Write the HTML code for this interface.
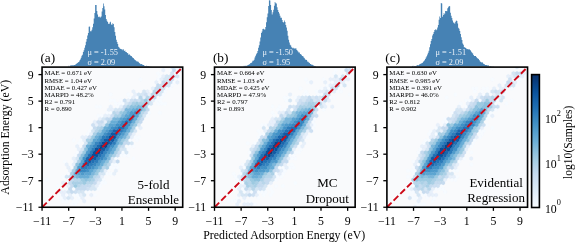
<!DOCTYPE html>
<html><head><meta charset="utf-8"><title>Parity plots</title>
<style>html,body{margin:0;padding:0;background:#fff}svg{display:block;filter:blur(0.4px)}</style></head>
<body>
<svg width="575" height="242" viewBox="0 0 575 242" font-family="'Liberation Serif','Times New Roman',serif">
<rect width="575" height="242" fill="#fff"/>
<path d="M68.50 66.6V65.8H69.22V66.4H69.94V65.5H70.66V65.6H71.38V65.3H72.10V65.3H72.82V65.4H73.54V65.0H74.26V64.9H74.98V64.7H75.70V63.9H76.42V63.5H77.14V63.1H77.86V62.2H78.58V62.0H79.30V60.5H80.02V59.4H80.74V57.7H81.46V55.8H82.18V54.7H82.90V51.9H83.62V50.2H84.34V47.8H85.06V45.2H85.78V41.7H86.50V39.1H87.22V35.5H87.94V33.1H88.66V26.7H89.38V26.4H90.10V31.2H90.82V31.2H91.54V29.7H92.26V27.3H92.98V23.8H93.70V18.6H94.42V13.1H95.14V5.1H95.86V5.0H96.58V11.1H97.30V14.5H98.02V16.7H98.74V17.3H99.46V16.5H100.18V17.6H100.90V16.6H101.62V11.6H102.34V8.1H103.06V3.6H103.78V6.2H104.50V9.6H105.22V15.0H105.94V19.0H106.66V20.8H107.38V21.9H108.10V23.8H108.82V23.9H109.54V22.4H110.26V21.7H110.98V24.5H111.70V24.7H112.42V23.2H113.14V23.9H113.86V27.3H114.58V32.1H115.30V35.7H116.02V39.8H116.74V42.1H117.46V44.1H118.18V46.7H118.90V47.4H119.62V48.4H120.34V49.1H121.06V49.3H121.78V49.2H122.50V50.2H123.22V49.3H123.94V50.9H124.66V50.6H125.38V51.9H126.10V52.1H126.82V53.1H127.54V53.3H128.26V54.7H128.98V54.2H129.70V55.1H130.42V56.1H131.14V56.0H131.86V56.9H132.58V58.1H133.30V58.3H134.02V59.2H134.74V59.9H135.46V60.5H136.18V61.2H136.90V61.6H137.62V61.6H138.34V62.3H139.06V63.1H139.78V63.7H140.50V64.2H141.22V63.9H141.94V64.6H142.66V65.0H143.38V64.9H144.10V65.8H144.82V66.0H145.54V65.9H146.26V65.8H146.98V66.0H147.70V66.1H148.42V66.1H149.14V66.3H149.86V66.6H150.58V66.2H151.30V66.5H152.02V66.6Z" fill="#4682b4"/>
<text x="87.4" y="55.0" font-size="8.3" fill="#eaf1f8">μ = -1.55</text>
<text x="87.4" y="65.0" font-size="8.3" fill="#eaf1f8">σ = 2.09</text>
<rect x="42.05" y="67.1" width="140.65" height="140.15" fill="#f9fafc"/>
<clipPath id="cp0"><rect x="42.05" y="67.1" width="140.65" height="140.15"/></clipPath>
<g clip-path="url(#cp0)">
<path fill="#f7fbff" stroke="#f7fbff" stroke-width="0.25" d="M61.4 196.1L61.4 194.0L59.6 193.0L57.9 194.0L57.9 196.1L59.6 197.1ZM64.9 202.2L64.9 200.1L63.1 199.1L61.4 200.1L61.4 202.2L63.1 203.2ZM64.9 177.8L64.9 175.8L63.1 174.8L61.4 175.8L61.4 177.8L63.1 178.8ZM68.4 202.2L68.4 200.1L66.7 199.1L64.9 200.1L64.9 202.2L66.7 203.2ZM68.4 196.1L68.4 194.0L66.7 193.0L64.9 194.0L64.9 196.1L66.7 197.1ZM68.4 190.0L68.4 188.0L66.7 186.9L64.9 188.0L64.9 190.0L66.7 191.0ZM68.4 183.9L68.4 181.9L66.7 180.8L64.9 181.9L64.9 183.9L66.7 184.9ZM75.5 202.2L75.5 200.1L73.7 199.1L71.9 200.1L71.9 202.2L73.7 203.2ZM75.5 196.1L75.5 194.0L73.7 193.0L71.9 194.0L71.9 196.1L73.7 197.1ZM75.5 190.0L75.5 188.0L73.7 186.9L71.9 188.0L71.9 190.0L73.7 191.0ZM75.5 141.2L75.5 139.2L73.7 138.2L71.9 139.2L71.9 141.2L73.7 142.3ZM79.0 202.2L79.0 200.1L77.2 199.1L75.5 200.1L75.5 202.2L77.2 203.2ZM79.0 196.1L79.0 194.0L77.2 193.0L75.5 194.0L75.5 196.1L77.2 197.1ZM79.0 153.4L79.0 151.4L77.2 150.4L75.5 151.4L75.5 153.4L77.2 154.4ZM82.5 141.2L82.5 139.2L80.7 138.2L79.0 139.2L79.0 141.2L80.7 142.3ZM89.5 135.1L89.5 133.1L87.8 132.1L86.0 133.1L86.0 135.1L87.8 136.2ZM93.0 129.1L93.0 127.0L91.3 126.0L89.5 127.0L89.5 129.1L91.3 130.1ZM96.6 196.1L96.6 194.0L94.8 193.0L93.0 194.0L93.0 196.1L94.8 197.1ZM100.1 190.0L100.1 188.0L98.3 186.9L96.6 188.0L96.6 190.0L98.3 191.0ZM100.1 116.9L100.1 114.8L98.3 113.8L96.6 114.8L96.6 116.9L98.3 117.9ZM103.6 183.9L103.6 181.9L101.8 180.8L100.1 181.9L100.1 183.9L101.8 184.9ZM103.6 116.9L103.6 114.8L101.8 113.8L100.1 114.8L100.1 116.9L101.8 117.9ZM107.1 183.9L107.1 181.9L105.3 180.8L103.6 181.9L103.6 183.9L105.3 184.9ZM114.1 165.6L114.1 163.6L112.4 162.6L110.6 163.6L110.6 165.6L112.4 166.6ZM117.6 165.6L117.6 163.6L115.9 162.6L114.1 163.6L114.1 165.6L115.9 166.6ZM117.6 159.5L117.6 157.5L115.9 156.5L114.1 157.5L114.1 159.5L115.9 160.5ZM117.6 104.7L117.6 102.6L115.9 101.6L114.1 102.6L114.1 104.7L115.9 105.7ZM121.2 104.7L121.2 102.6L119.4 101.6L117.6 102.6L117.6 104.7L119.4 105.7ZM124.7 153.4L124.7 151.4L122.9 150.4L121.2 151.4L121.2 153.4L122.9 154.4ZM124.7 104.7L124.7 102.6L122.9 101.6L121.2 102.6L121.2 104.7L122.9 105.7ZM131.7 147.3L131.7 145.3L130.0 144.3L128.2 145.3L128.2 147.3L130.0 148.3ZM131.7 141.2L131.7 139.2L130.0 138.2L128.2 139.2L128.2 141.2L130.0 142.3ZM131.7 98.6L131.7 96.6L130.0 95.5L128.2 96.6L128.2 98.6L130.0 99.6ZM135.2 159.5L135.2 157.5L133.5 156.5L131.7 157.5L131.7 159.5L133.5 160.5ZM135.2 147.3L135.2 145.3L133.5 144.3L131.7 145.3L131.7 147.3L133.5 148.3ZM138.7 141.2L138.7 139.2L137.0 138.2L135.2 139.2L135.2 141.2L137.0 142.3ZM138.7 98.6L138.7 96.6L137.0 95.5L135.2 96.6L135.2 98.6L137.0 99.6ZM142.3 80.3L142.3 78.3L140.5 77.3L138.7 78.3L138.7 80.3L140.5 81.3ZM149.3 116.9L149.3 114.8L147.5 113.8L145.8 114.8L145.8 116.9L147.5 117.9ZM159.8 104.7L159.8 102.6L158.1 101.6L156.3 102.6L156.3 104.7L158.1 105.7ZM159.8 80.3L159.8 78.3L158.1 77.3L156.3 78.3L156.3 80.3L158.1 81.3ZM159.8 74.2L159.8 72.2L158.1 71.2L156.3 72.2L156.3 74.2L158.1 75.2ZM163.4 104.7L163.4 102.6L161.6 101.6L159.8 102.6L159.8 104.7L161.6 105.7ZM163.4 98.6L163.4 96.6L161.6 95.5L159.8 96.6L159.8 98.6L161.6 99.6ZM166.9 104.7L166.9 102.6L165.1 101.6L163.4 102.6L163.4 104.7L165.1 105.7ZM166.9 92.5L166.9 90.5L165.1 89.4L163.4 90.5L163.4 92.5L165.1 93.5ZM173.9 86.4L173.9 84.4L172.2 83.3L170.4 84.4L170.4 86.4L172.2 87.4ZM177.4 74.2L177.4 72.2L175.7 71.2L173.9 72.2L173.9 74.2L175.7 75.2ZM180.9 80.3L180.9 78.3L179.2 77.3L177.4 78.3L177.4 80.3L179.2 81.3ZM49.1 180.8L49.1 178.8L47.3 177.8L45.6 178.8L45.6 180.8L47.3 181.9ZM59.6 186.9L59.6 184.9L57.9 183.9L56.1 184.9L56.1 186.9L57.9 188.0ZM63.1 199.1L63.1 197.1L61.4 196.1L59.6 197.1L59.6 199.1L61.4 200.1ZM66.7 162.6L66.7 160.5L64.9 159.5L63.1 160.5L63.1 162.6L64.9 163.6ZM70.2 180.8L70.2 178.8L68.4 177.8L66.7 178.8L66.7 180.8L68.4 181.9ZM70.2 174.8L70.2 172.7L68.4 171.7L66.7 172.7L66.7 174.8L68.4 175.8ZM73.7 205.2L73.7 203.2L71.9 202.2L70.2 203.2L70.2 205.2L71.9 206.2ZM77.2 205.2L77.2 203.2L75.5 202.2L73.7 203.2L73.7 205.2L75.5 206.2ZM77.2 156.5L77.2 154.4L75.5 153.4L73.7 154.4L73.7 156.5L75.5 157.5ZM80.7 199.1L80.7 197.1L79.0 196.1L77.2 197.1L77.2 199.1L79.0 200.1ZM80.7 144.3L80.7 142.3L79.0 141.2L77.2 142.3L77.2 144.3L79.0 145.3ZM87.8 193.0L87.8 191.0L86.0 190.0L84.2 191.0L84.2 193.0L86.0 194.0ZM91.3 193.0L91.3 191.0L89.5 190.0L87.8 191.0L87.8 193.0L89.5 194.0ZM91.3 132.1L91.3 130.1L89.5 129.1L87.8 130.1L87.8 132.1L89.5 133.1ZM94.8 205.2L94.8 203.2L93.0 202.2L91.3 203.2L91.3 205.2L93.0 206.2ZM98.3 107.7L98.3 105.7L96.6 104.7L94.8 105.7L94.8 107.7L96.6 108.7ZM101.8 186.9L101.8 184.9L100.1 183.9L98.3 184.9L98.3 186.9L100.1 188.0ZM101.8 107.7L101.8 105.7L100.1 104.7L98.3 105.7L98.3 107.7L100.1 108.7ZM105.3 180.8L105.3 178.8L103.6 177.8L101.8 178.8L101.8 180.8L103.6 181.9ZM108.9 174.8L108.9 172.7L107.1 171.7L105.3 172.7L105.3 174.8L107.1 175.8ZM108.9 113.8L108.9 111.8L107.1 110.8L105.3 111.8L105.3 113.8L107.1 114.8ZM112.4 174.8L112.4 172.7L110.6 171.7L108.9 172.7L108.9 174.8L110.6 175.8ZM112.4 168.7L112.4 166.6L110.6 165.6L108.9 166.6L108.9 168.7L110.6 169.7ZM112.4 113.8L112.4 111.8L110.6 110.8L108.9 111.8L108.9 113.8L110.6 114.8ZM112.4 101.6L112.4 99.6L110.6 98.6L108.9 99.6L108.9 101.6L110.6 102.6ZM112.4 95.5L112.4 93.5L110.6 92.5L108.9 93.5L108.9 95.5L110.6 96.6ZM115.9 168.7L115.9 166.6L114.1 165.6L112.4 166.6L112.4 168.7L114.1 169.7ZM115.9 101.6L115.9 99.6L114.1 98.6L112.4 99.6L112.4 101.6L114.1 102.6ZM119.4 168.7L119.4 166.6L117.6 165.6L115.9 166.6L115.9 168.7L117.6 169.7ZM119.4 107.7L119.4 105.7L117.6 104.7L115.9 105.7L115.9 107.7L117.6 108.7ZM122.9 156.5L122.9 154.4L121.2 153.4L119.4 154.4L119.4 156.5L121.2 157.5ZM122.9 101.6L122.9 99.6L121.2 98.6L119.4 99.6L119.4 101.6L121.2 102.6ZM126.4 156.5L126.4 154.4L124.7 153.4L122.9 154.4L122.9 156.5L124.7 157.5ZM130.0 156.5L130.0 154.4L128.2 153.4L126.4 154.4L126.4 156.5L128.2 157.5ZM130.0 150.4L130.0 148.3L128.2 147.3L126.4 148.3L126.4 150.4L128.2 151.4ZM130.0 95.5L130.0 93.5L128.2 92.5L126.4 93.5L126.4 95.5L128.2 96.6ZM137.0 138.2L137.0 136.2L135.2 135.1L133.5 136.2L133.5 138.2L135.2 139.2ZM140.5 138.2L140.5 136.2L138.7 135.1L137.0 136.2L137.0 138.2L138.7 139.2ZM151.1 113.8L151.1 111.8L149.3 110.8L147.5 111.8L147.5 113.8L149.3 114.8ZM151.1 107.7L151.1 105.7L149.3 104.7L147.5 105.7L147.5 107.7L149.3 108.7ZM158.1 101.6L158.1 99.6L156.3 98.6L154.6 99.6L154.6 101.6L156.3 102.6ZM161.6 113.8L161.6 111.8L159.8 110.8L158.1 111.8L158.1 113.8L159.8 114.8ZM161.6 101.6L161.6 99.6L159.8 98.6L158.1 99.6L158.1 101.6L159.8 102.6ZM161.6 77.3L161.6 75.2L159.8 74.2L158.1 75.2L158.1 77.3L159.8 78.3ZM165.1 95.5L165.1 93.5L163.4 92.5L161.6 93.5L161.6 95.5L163.4 96.6ZM168.6 89.4L168.6 87.4L166.9 86.4L165.1 87.4L165.1 89.4L166.9 90.5ZM172.2 89.4L172.2 87.4L170.4 86.4L168.6 87.4L168.6 89.4L170.4 90.5ZM172.2 71.2L172.2 69.1L170.4 68.1L168.6 69.1L168.6 71.2L170.4 72.2ZM175.7 83.3L175.7 81.3L173.9 80.3L172.2 81.3L172.2 83.3L173.9 84.4ZM179.2 71.2L179.2 69.1L177.4 68.1L175.7 69.1L175.7 71.2L177.4 72.2Z"/>
<path fill="#e7f0fa" stroke="#e7f0fa" stroke-width="0.25" d="M64.9 196.1L64.9 194.0L63.1 193.0L61.4 194.0L61.4 196.1L63.1 197.1ZM64.9 183.9L64.9 181.9L63.1 180.8L61.4 181.9L61.4 183.9L63.1 184.9ZM68.4 165.6L68.4 163.6L66.7 162.6L64.9 163.6L64.9 165.6L66.7 166.6ZM71.9 196.1L71.9 194.0L70.2 193.0L68.4 194.0L68.4 196.1L70.2 197.1ZM71.9 171.7L71.9 169.7L70.2 168.7L68.4 169.7L68.4 171.7L70.2 172.7ZM75.5 165.6L75.5 163.6L73.7 162.6L71.9 163.6L71.9 165.6L73.7 166.6ZM75.5 159.5L75.5 157.5L73.7 156.5L71.9 157.5L71.9 159.5L73.7 160.5ZM79.0 147.3L79.0 145.3L77.2 144.3L75.5 145.3L75.5 147.3L77.2 148.3ZM82.5 196.1L82.5 194.0L80.7 193.0L79.0 194.0L79.0 196.1L80.7 197.1ZM86.0 202.2L86.0 200.1L84.2 199.1L82.5 200.1L82.5 202.2L84.2 203.2ZM86.0 141.2L86.0 139.2L84.2 138.2L82.5 139.2L82.5 141.2L84.2 142.3ZM93.0 196.1L93.0 194.0L91.3 193.0L89.5 194.0L89.5 196.1L91.3 197.1ZM93.0 135.1L93.0 133.1L91.3 132.1L89.5 133.1L89.5 135.1L91.3 136.2ZM96.6 123.0L96.6 120.9L94.8 119.9L93.0 120.9L93.0 123.0L94.8 124.0ZM100.1 183.9L100.1 181.9L98.3 180.8L96.6 181.9L96.6 183.9L98.3 184.9ZM103.6 177.8L103.6 175.8L101.8 174.8L100.1 175.8L100.1 177.8L101.8 178.8ZM107.1 171.7L107.1 169.7L105.3 168.7L103.6 169.7L103.6 171.7L105.3 172.7ZM107.1 123.0L107.1 120.9L105.3 119.9L103.6 120.9L103.6 123.0L105.3 124.0ZM107.1 116.9L107.1 114.8L105.3 113.8L103.6 114.8L103.6 116.9L105.3 117.9ZM110.6 116.9L110.6 114.8L108.9 113.8L107.1 114.8L107.1 116.9L108.9 117.9ZM110.6 110.8L110.6 108.7L108.9 107.7L107.1 108.7L107.1 110.8L108.9 111.8ZM114.1 110.8L114.1 108.7L112.4 107.7L110.6 108.7L110.6 110.8L112.4 111.8ZM117.6 171.7L117.6 169.7L115.9 168.7L114.1 169.7L114.1 171.7L115.9 172.7ZM135.2 135.1L135.2 133.1L133.5 132.1L131.7 133.1L131.7 135.1L133.5 136.2ZM135.2 98.6L135.2 96.6L133.5 95.5L131.7 96.6L131.7 98.6L133.5 99.6ZM135.2 92.5L135.2 90.5L133.5 89.4L131.7 90.5L131.7 92.5L133.5 93.5ZM142.3 129.1L142.3 127.0L140.5 126.0L138.7 127.0L138.7 129.1L140.5 130.1ZM145.8 98.6L145.8 96.6L144.0 95.5L142.3 96.6L142.3 98.6L144.0 99.6ZM149.3 92.5L149.3 90.5L147.5 89.4L145.8 90.5L145.8 92.5L147.5 93.5ZM163.4 80.3L163.4 78.3L161.6 77.3L159.8 78.3L159.8 80.3L161.6 81.3ZM177.4 68.1L177.4 66.1L175.7 65.1L173.9 66.1L173.9 68.1L175.7 69.1ZM180.9 68.1L180.9 66.1L179.2 65.1L177.4 66.1L177.4 68.1L179.2 69.1ZM63.1 193.0L63.1 191.0L61.4 190.0L59.6 191.0L59.6 193.0L61.4 194.0ZM66.7 199.1L66.7 197.1L64.9 196.1L63.1 197.1L63.1 199.1L64.9 200.1ZM66.7 193.0L66.7 191.0L64.9 190.0L63.1 191.0L63.1 193.0L64.9 194.0ZM70.2 186.9L70.2 184.9L68.4 183.9L66.7 184.9L66.7 186.9L68.4 188.0ZM70.2 168.7L70.2 166.6L68.4 165.6L66.7 166.6L66.7 168.7L68.4 169.7ZM73.7 199.1L73.7 197.1L71.9 196.1L70.2 197.1L70.2 199.1L71.9 200.1ZM77.2 162.6L77.2 160.5L75.5 159.5L73.7 160.5L73.7 162.6L75.5 163.6ZM80.7 150.4L80.7 148.3L79.0 147.3L77.2 148.3L77.2 150.4L79.0 151.4ZM84.2 199.1L84.2 197.1L82.5 196.1L80.7 197.1L80.7 199.1L82.5 200.1ZM84.2 138.2L84.2 136.2L82.5 135.1L80.7 136.2L80.7 138.2L82.5 139.2ZM87.8 138.2L87.8 136.2L86.0 135.1L84.2 136.2L84.2 138.2L86.0 139.2ZM98.3 186.9L98.3 184.9L96.6 183.9L94.8 184.9L94.8 186.9L96.6 188.0ZM98.3 126.0L98.3 124.0L96.6 123.0L94.8 124.0L94.8 126.0L96.6 127.0ZM101.8 119.9L101.8 117.9L100.1 116.9L98.3 117.9L98.3 119.9L100.1 120.9ZM112.4 107.7L112.4 105.7L110.6 104.7L108.9 105.7L108.9 107.7L110.6 108.7ZM115.9 174.8L115.9 172.7L114.1 171.7L112.4 172.7L112.4 174.8L114.1 175.8ZM115.9 162.6L115.9 160.5L114.1 159.5L112.4 160.5L112.4 162.6L114.1 163.6ZM122.9 107.7L122.9 105.7L121.2 104.7L119.4 105.7L119.4 107.7L121.2 108.7ZM130.0 101.6L130.0 99.6L128.2 98.6L126.4 99.6L126.4 101.6L128.2 102.6ZM133.5 138.2L133.5 136.2L131.7 135.1L130.0 136.2L130.0 138.2L131.7 139.2ZM137.0 95.5L137.0 93.5L135.2 92.5L133.5 93.5L133.5 95.5L135.2 96.6ZM151.1 95.5L151.1 93.5L149.3 92.5L147.5 93.5L147.5 95.5L149.3 96.6ZM154.6 101.6L154.6 99.6L152.8 98.6L151.1 99.6L151.1 101.6L152.8 102.6ZM154.6 89.4L154.6 87.4L152.8 86.4L151.1 87.4L151.1 89.4L152.8 90.5ZM158.1 83.3L158.1 81.3L156.3 80.3L154.6 81.3L154.6 83.3L156.3 84.4ZM165.1 77.3L165.1 75.2L163.4 74.2L161.6 75.2L161.6 77.3L163.4 78.3ZM165.1 71.2L165.1 69.1L163.4 68.1L161.6 69.1L161.6 71.2L163.4 72.2ZM179.2 83.3L179.2 81.3L177.4 80.3L175.7 81.3L175.7 83.3L177.4 84.4ZM182.7 71.2L182.7 69.1L180.9 68.1L179.2 69.1L179.2 71.2L180.9 72.2Z"/>
<path fill="#d6e6f4" stroke="#d6e6f4" stroke-width="0.25" d="M68.4 177.8L68.4 175.8L66.7 174.8L64.9 175.8L64.9 177.8L66.7 178.8ZM79.0 159.5L79.0 157.5L77.2 156.5L75.5 157.5L75.5 159.5L77.2 160.5ZM86.0 196.1L86.0 194.0L84.2 193.0L82.5 194.0L82.5 196.1L84.2 197.1ZM93.0 190.0L93.0 188.0L91.3 186.9L89.5 188.0L89.5 190.0L91.3 191.0ZM96.6 190.0L96.6 188.0L94.8 186.9L93.0 188.0L93.0 190.0L94.8 191.0ZM114.1 159.5L114.1 157.5L112.4 156.5L110.6 157.5L110.6 159.5L112.4 160.5ZM117.6 110.8L117.6 108.7L115.9 107.7L114.1 108.7L114.1 110.8L115.9 111.8ZM121.2 110.8L121.2 108.7L119.4 107.7L117.6 108.7L117.6 110.8L119.4 111.8ZM128.2 153.4L128.2 151.4L126.4 150.4L124.7 151.4L124.7 153.4L126.4 154.4ZM128.2 104.7L128.2 102.6L126.4 101.6L124.7 102.6L124.7 104.7L126.4 105.7ZM145.8 116.9L145.8 114.8L144.0 113.8L142.3 114.8L142.3 116.9L144.0 117.9ZM145.8 92.5L145.8 90.5L144.0 89.4L142.3 90.5L142.3 92.5L144.0 93.5ZM152.8 104.7L152.8 102.6L151.1 101.6L149.3 102.6L149.3 104.7L151.1 105.7ZM163.4 92.5L163.4 90.5L161.6 89.4L159.8 90.5L159.8 92.5L161.6 93.5ZM166.9 80.3L166.9 78.3L165.1 77.3L163.4 78.3L163.4 80.3L165.1 81.3ZM170.4 86.4L170.4 84.4L168.6 83.3L166.9 84.4L166.9 86.4L168.6 87.4ZM170.4 80.3L170.4 78.3L168.6 77.3L166.9 78.3L166.9 80.3L168.6 81.3ZM173.9 74.2L173.9 72.2L172.2 71.2L170.4 72.2L170.4 74.2L172.2 75.2ZM70.2 199.1L70.2 197.1L68.4 196.1L66.7 197.1L66.7 199.1L68.4 200.1ZM70.2 193.0L70.2 191.0L68.4 190.0L66.7 191.0L66.7 193.0L68.4 194.0ZM80.7 193.0L80.7 191.0L79.0 190.0L77.2 191.0L77.2 193.0L79.0 194.0ZM84.2 193.0L84.2 191.0L82.5 190.0L80.7 191.0L80.7 193.0L82.5 194.0ZM84.2 150.4L84.2 148.3L82.5 147.3L80.7 148.3L80.7 150.4L82.5 151.4ZM87.8 144.3L87.8 142.3L86.0 141.2L84.2 142.3L84.2 144.3L86.0 145.3ZM94.8 186.9L94.8 184.9L93.0 183.9L91.3 184.9L91.3 186.9L93.0 188.0ZM94.8 132.1L94.8 130.1L93.0 129.1L91.3 130.1L91.3 132.1L93.0 133.1ZM101.8 180.8L101.8 178.8L100.1 177.8L98.3 178.8L98.3 180.8L100.1 181.9ZM101.8 174.8L101.8 172.7L100.1 171.7L98.3 172.7L98.3 174.8L100.1 175.8ZM105.3 174.8L105.3 172.7L103.6 171.7L101.8 172.7L101.8 174.8L103.6 175.8ZM105.3 126.0L105.3 124.0L103.6 123.0L101.8 124.0L101.8 126.0L103.6 127.0ZM105.3 119.9L105.3 117.9L103.6 116.9L101.8 117.9L101.8 119.9L103.6 120.9ZM122.9 150.4L122.9 148.3L121.2 147.3L119.4 148.3L119.4 150.4L121.2 151.4ZM126.4 150.4L126.4 148.3L124.7 147.3L122.9 148.3L122.9 150.4L124.7 151.4ZM133.5 144.3L133.5 142.3L131.7 141.2L130.0 142.3L130.0 144.3L131.7 145.3ZM137.0 132.1L137.0 130.1L135.2 129.1L133.5 130.1L133.5 132.1L135.2 133.1ZM140.5 126.0L140.5 124.0L138.7 123.0L137.0 124.0L137.0 126.0L138.7 127.0ZM140.5 95.5L140.5 93.5L138.7 92.5L137.0 93.5L137.0 95.5L138.7 96.6ZM144.0 95.5L144.0 93.5L142.3 92.5L140.5 93.5L140.5 95.5L142.3 96.6ZM161.6 95.5L161.6 93.5L159.8 92.5L158.1 93.5L158.1 95.5L159.8 96.6ZM165.1 89.4L165.1 87.4L163.4 86.4L161.6 87.4L161.6 89.4L163.4 90.5ZM168.6 83.3L168.6 81.3L166.9 80.3L165.1 81.3L165.1 83.3L166.9 84.4ZM168.6 77.3L168.6 75.2L166.9 74.2L165.1 75.2L165.1 77.3L166.9 78.3ZM172.2 77.3L172.2 75.2L170.4 74.2L168.6 75.2L168.6 77.3L170.4 78.3ZM179.2 77.3L179.2 75.2L177.4 74.2L175.7 75.2L175.7 77.3L177.4 78.3Z"/>
<path fill="#cee0f2" stroke="#cee0f2" stroke-width="0.25" d="M71.9 177.8L71.9 175.8L70.2 174.8L68.4 175.8L68.4 177.8L70.2 178.8ZM82.5 153.4L82.5 151.4L80.7 150.4L79.0 151.4L79.0 153.4L80.7 154.4ZM89.5 190.0L89.5 188.0L87.8 186.9L86.0 188.0L86.0 190.0L87.8 191.0ZM100.1 123.0L100.1 120.9L98.3 119.9L96.6 120.9L96.6 123.0L98.3 124.0ZM114.1 116.9L114.1 114.8L112.4 113.8L110.6 114.8L110.6 116.9L112.4 117.9ZM121.2 153.4L121.2 151.4L119.4 150.4L117.6 151.4L117.6 153.4L119.4 154.4ZM152.8 98.6L152.8 96.6L151.1 95.5L149.3 96.6L149.3 98.6L151.1 99.6ZM159.8 92.5L159.8 90.5L158.1 89.4L156.3 90.5L156.3 92.5L158.1 93.5ZM163.4 86.4L163.4 84.4L161.6 83.3L159.8 84.4L159.8 86.4L161.6 87.4ZM166.9 86.4L166.9 84.4L165.1 83.3L163.4 84.4L163.4 86.4L165.1 87.4ZM173.9 80.3L173.9 78.3L172.2 77.3L170.4 78.3L170.4 80.3L172.2 81.3ZM173.9 68.1L173.9 66.1L172.2 65.1L170.4 66.1L170.4 68.1L172.2 69.1ZM77.2 193.0L77.2 191.0L75.5 190.0L73.7 191.0L73.7 193.0L75.5 194.0ZM91.3 138.2L91.3 136.2L89.5 135.1L87.8 136.2L87.8 138.2L89.5 139.2ZM94.8 126.0L94.8 124.0L93.0 123.0L91.3 124.0L91.3 126.0L93.0 127.0ZM98.3 180.8L98.3 178.8L96.6 177.8L94.8 178.8L94.8 180.8L96.6 181.9ZM101.8 126.0L101.8 124.0L100.1 123.0L98.3 124.0L98.3 126.0L100.1 127.0ZM112.4 162.6L112.4 160.5L110.6 159.5L108.9 160.5L108.9 162.6L110.6 163.6ZM119.4 156.5L119.4 154.4L117.6 153.4L115.9 154.4L115.9 156.5L117.6 157.5ZM126.4 101.6L126.4 99.6L124.7 98.6L122.9 99.6L122.9 101.6L124.7 102.6ZM133.5 101.6L133.5 99.6L131.7 98.6L130.0 99.6L130.0 101.6L131.7 102.6ZM140.5 101.6L140.5 99.6L138.7 98.6L137.0 99.6L137.0 101.6L138.7 102.6ZM147.5 113.8L147.5 111.8L145.8 110.8L144.0 111.8L144.0 113.8L145.8 114.8ZM147.5 95.5L147.5 93.5L145.8 92.5L144.0 93.5L144.0 95.5L145.8 96.6ZM158.1 95.5L158.1 93.5L156.3 92.5L154.6 93.5L154.6 95.5L156.3 96.6ZM172.2 83.3L172.2 81.3L170.4 80.3L168.6 81.3L168.6 83.3L170.4 84.4ZM175.7 77.3L175.7 75.2L173.9 74.2L172.2 75.2L172.2 77.3L173.9 78.3Z"/>
<path fill="#c6dbef" stroke="#c6dbef" stroke-width="0.25" d="M71.9 190.0L71.9 188.0L70.2 186.9L68.4 188.0L68.4 190.0L70.2 191.0ZM71.9 183.9L71.9 181.9L70.2 180.8L68.4 181.9L68.4 183.9L70.2 184.9ZM79.0 190.0L79.0 188.0L77.2 186.9L75.5 188.0L75.5 190.0L77.2 191.0ZM82.5 190.0L82.5 188.0L80.7 186.9L79.0 188.0L79.0 190.0L80.7 191.0ZM86.0 190.0L86.0 188.0L84.2 186.9L82.5 188.0L82.5 190.0L84.2 191.0ZM86.0 147.3L86.0 145.3L84.2 144.3L82.5 145.3L82.5 147.3L84.2 148.3ZM96.6 183.9L96.6 181.9L94.8 180.8L93.0 181.9L93.0 183.9L94.8 184.9ZM96.6 129.1L96.6 127.0L94.8 126.0L93.0 127.0L93.0 129.1L94.8 130.1ZM100.1 177.8L100.1 175.8L98.3 174.8L96.6 175.8L96.6 177.8L98.3 178.8ZM103.6 123.0L103.6 120.9L101.8 119.9L100.1 120.9L100.1 123.0L101.8 124.0ZM124.7 147.3L124.7 145.3L122.9 144.3L121.2 145.3L121.2 147.3L122.9 148.3ZM124.7 110.8L124.7 108.7L122.9 107.7L121.2 108.7L121.2 110.8L122.9 111.8ZM131.7 135.1L131.7 133.1L130.0 132.1L128.2 133.1L128.2 135.1L130.0 136.2ZM131.7 104.7L131.7 102.6L130.0 101.6L128.2 102.6L128.2 104.7L130.0 105.7ZM142.3 123.0L142.3 120.9L140.5 119.9L138.7 120.9L138.7 123.0L140.5 124.0ZM149.3 110.8L149.3 108.7L147.5 107.7L145.8 108.7L145.8 110.8L147.5 111.8ZM156.3 98.6L156.3 96.6L154.6 95.5L152.8 96.6L152.8 98.6L154.6 99.6ZM159.8 86.4L159.8 84.4L158.1 83.3L156.3 84.4L156.3 86.4L158.1 87.4ZM73.7 193.0L73.7 191.0L71.9 190.0L70.2 191.0L70.2 193.0L71.9 194.0ZM73.7 186.9L73.7 184.9L71.9 183.9L70.2 184.9L70.2 186.9L71.9 188.0ZM73.7 180.8L73.7 178.8L71.9 177.8L70.2 178.8L70.2 180.8L71.9 181.9ZM80.7 156.5L80.7 154.4L79.0 153.4L77.2 154.4L77.2 156.5L79.0 157.5ZM84.2 186.9L84.2 184.9L82.5 183.9L80.7 184.9L80.7 186.9L82.5 188.0ZM87.8 186.9L87.8 184.9L86.0 183.9L84.2 184.9L84.2 186.9L86.0 188.0ZM91.3 186.9L91.3 184.9L89.5 183.9L87.8 184.9L87.8 186.9L89.5 188.0ZM108.9 119.9L108.9 117.9L107.1 116.9L105.3 117.9L105.3 119.9L107.1 120.9ZM112.4 119.9L112.4 117.9L110.6 116.9L108.9 117.9L108.9 119.9L110.6 120.9ZM119.4 162.6L119.4 160.5L117.6 159.5L115.9 160.5L115.9 162.6L117.6 163.6ZM119.4 113.8L119.4 111.8L117.6 110.8L115.9 111.8L115.9 113.8L117.6 114.8ZM126.4 144.3L126.4 142.3L124.7 141.2L122.9 142.3L122.9 144.3L124.7 145.3ZM126.4 107.7L126.4 105.7L124.7 104.7L122.9 105.7L122.9 107.7L124.7 108.7ZM130.0 144.3L130.0 142.3L128.2 141.2L126.4 142.3L126.4 144.3L128.2 145.3ZM137.0 101.6L137.0 99.6L135.2 98.6L133.5 99.6L133.5 101.6L135.2 102.6ZM144.0 119.9L144.0 117.9L142.3 116.9L140.5 117.9L140.5 119.9L142.3 120.9ZM151.1 101.6L151.1 99.6L149.3 98.6L147.5 99.6L147.5 101.6L149.3 102.6ZM158.1 89.4L158.1 87.4L156.3 86.4L154.6 87.4L154.6 89.4L156.3 90.5ZM161.6 89.4L161.6 87.4L159.8 86.4L158.1 87.4L158.1 89.4L159.8 90.5ZM165.1 83.3L165.1 81.3L163.4 80.3L161.6 81.3L161.6 83.3L163.4 84.4ZM175.7 71.2L175.7 69.1L173.9 68.1L172.2 69.1L172.2 71.2L173.9 72.2Z"/>
<path fill="#b9d6ea" stroke="#b9d6ea" stroke-width="0.25" d="M89.5 183.9L89.5 181.9L87.8 180.8L86.0 181.9L86.0 183.9L87.8 184.9ZM93.0 183.9L93.0 181.9L91.3 180.8L89.5 181.9L89.5 183.9L91.3 184.9ZM96.6 177.8L96.6 175.8L94.8 174.8L93.0 175.8L93.0 177.8L94.8 178.8ZM100.1 129.1L100.1 127.0L98.3 126.0L96.6 127.0L96.6 129.1L98.3 130.1ZM103.6 171.7L103.6 169.7L101.8 168.7L100.1 169.7L100.1 171.7L101.8 172.7ZM110.6 165.6L110.6 163.6L108.9 162.6L107.1 163.6L107.1 165.6L108.9 166.6ZM121.2 147.3L121.2 145.3L119.4 144.3L117.6 145.3L117.6 147.3L119.4 148.3ZM128.2 141.2L128.2 139.2L126.4 138.2L124.7 139.2L124.7 141.2L126.4 142.3ZM142.3 98.6L142.3 96.6L140.5 95.5L138.7 96.6L138.7 98.6L140.5 99.6ZM149.3 104.7L149.3 102.6L147.5 101.6L145.8 102.6L145.8 104.7L147.5 105.7ZM149.3 98.6L149.3 96.6L147.5 95.5L145.8 96.6L145.8 98.6L147.5 99.6ZM156.3 92.5L156.3 90.5L154.6 89.4L152.8 90.5L152.8 92.5L154.6 93.5ZM77.2 180.8L77.2 178.8L75.5 177.8L73.7 178.8L73.7 180.8L75.5 181.9ZM80.7 186.9L80.7 184.9L79.0 183.9L77.2 184.9L77.2 186.9L79.0 188.0ZM80.7 180.8L80.7 178.8L79.0 177.8L77.2 178.8L77.2 180.8L79.0 181.9ZM98.3 132.1L98.3 130.1L96.6 129.1L94.8 130.1L94.8 132.1L96.6 133.1ZM105.3 168.7L105.3 166.6L103.6 165.6L101.8 166.6L101.8 168.7L103.6 169.7ZM115.9 113.8L115.9 111.8L114.1 110.8L112.4 111.8L112.4 113.8L114.1 114.8ZM144.0 113.8L144.0 111.8L142.3 110.8L140.5 111.8L140.5 113.8L142.3 114.8ZM144.0 101.6L144.0 99.6L142.3 98.6L140.5 99.6L140.5 101.6L142.3 102.6ZM154.6 95.5L154.6 93.5L152.8 92.5L151.1 93.5L151.1 95.5L152.8 96.6Z"/>
<path fill="#abd0e6" stroke="#abd0e6" stroke-width="0.25" d="M75.5 183.9L75.5 181.9L73.7 180.8L71.9 181.9L71.9 183.9L73.7 184.9ZM75.5 171.7L75.5 169.7L73.7 168.7L71.9 169.7L71.9 171.7L73.7 172.7ZM79.0 183.9L79.0 181.9L77.2 180.8L75.5 181.9L75.5 183.9L77.2 184.9ZM82.5 183.9L82.5 181.9L80.7 180.8L79.0 181.9L79.0 183.9L80.7 184.9ZM89.5 141.2L89.5 139.2L87.8 138.2L86.0 139.2L86.0 141.2L87.8 142.3ZM96.6 135.1L96.6 133.1L94.8 132.1L93.0 133.1L93.0 135.1L94.8 136.2ZM103.6 129.1L103.6 127.0L101.8 126.0L100.1 127.0L100.1 129.1L101.8 130.1ZM110.6 123.0L110.6 120.9L108.9 119.9L107.1 120.9L107.1 123.0L108.9 124.0ZM117.6 153.4L117.6 151.4L115.9 150.4L114.1 151.4L114.1 153.4L115.9 154.4ZM117.6 116.9L117.6 114.8L115.9 113.8L114.1 114.8L114.1 116.9L115.9 117.9ZM121.2 116.9L121.2 114.8L119.4 113.8L117.6 114.8L117.6 116.9L119.4 117.9ZM135.2 129.1L135.2 127.0L133.5 126.0L131.7 127.0L131.7 129.1L133.5 130.1ZM135.2 104.7L135.2 102.6L133.5 101.6L131.7 102.6L131.7 104.7L133.5 105.7ZM138.7 123.0L138.7 120.9L137.0 119.9L135.2 120.9L135.2 123.0L137.0 124.0ZM142.3 116.9L142.3 114.8L140.5 113.8L138.7 114.8L138.7 116.9L140.5 117.9ZM142.3 104.7L142.3 102.6L140.5 101.6L138.7 102.6L138.7 104.7L140.5 105.7ZM145.8 104.7L145.8 102.6L144.0 101.6L142.3 102.6L142.3 104.7L144.0 105.7ZM73.7 174.8L73.7 172.7L71.9 171.7L70.2 172.7L70.2 174.8L71.9 175.8ZM77.2 168.7L77.2 166.6L75.5 165.6L73.7 166.6L73.7 168.7L75.5 169.7ZM80.7 162.6L80.7 160.5L79.0 159.5L77.2 160.5L77.2 162.6L79.0 163.6ZM94.8 180.8L94.8 178.8L93.0 177.8L91.3 178.8L91.3 180.8L93.0 181.9ZM108.9 168.7L108.9 166.6L107.1 165.6L105.3 166.6L105.3 168.7L107.1 169.7ZM115.9 156.5L115.9 154.4L114.1 153.4L112.4 154.4L112.4 156.5L114.1 157.5ZM119.4 150.4L119.4 148.3L117.6 147.3L115.9 148.3L115.9 150.4L117.6 151.4ZM130.0 138.2L130.0 136.2L128.2 135.1L126.4 136.2L126.4 138.2L128.2 139.2ZM130.0 107.7L130.0 105.7L128.2 104.7L126.4 105.7L126.4 107.7L128.2 108.7ZM133.5 132.1L133.5 130.1L131.7 129.1L130.0 130.1L130.0 132.1L131.7 133.1ZM140.5 119.9L140.5 117.9L138.7 116.9L137.0 117.9L137.0 119.9L138.7 120.9ZM147.5 107.7L147.5 105.7L145.8 104.7L144.0 105.7L144.0 107.7L145.8 108.7Z"/>
<path fill="#9dcae1" stroke="#9dcae1" stroke-width="0.25" d="M86.0 183.9L86.0 181.9L84.2 180.8L82.5 181.9L82.5 183.9L84.2 184.9ZM86.0 153.4L86.0 151.4L84.2 150.4L82.5 151.4L82.5 153.4L84.2 154.4ZM93.0 141.2L93.0 139.2L91.3 138.2L89.5 139.2L89.5 141.2L91.3 142.3ZM100.1 171.7L100.1 169.7L98.3 168.7L96.6 169.7L96.6 171.7L98.3 172.7ZM107.1 165.6L107.1 163.6L105.3 162.6L103.6 163.6L103.6 165.6L105.3 166.6ZM124.7 141.2L124.7 139.2L122.9 138.2L121.2 139.2L121.2 141.2L122.9 142.3ZM138.7 104.7L138.7 102.6L137.0 101.6L135.2 102.6L135.2 104.7L137.0 105.7ZM145.8 110.8L145.8 108.7L144.0 107.7L142.3 108.7L142.3 110.8L144.0 111.8ZM77.2 186.9L77.2 184.9L75.5 183.9L73.7 184.9L73.7 186.9L75.5 188.0ZM84.2 180.8L84.2 178.8L82.5 177.8L80.7 178.8L80.7 180.8L82.5 181.9ZM91.3 180.8L91.3 178.8L89.5 177.8L87.8 178.8L87.8 180.8L89.5 181.9ZM94.8 138.2L94.8 136.2L93.0 135.1L91.3 136.2L91.3 138.2L93.0 139.2ZM98.3 174.8L98.3 172.7L96.6 171.7L94.8 172.7L94.8 174.8L96.6 175.8ZM101.8 132.1L101.8 130.1L100.1 129.1L98.3 130.1L98.3 132.1L100.1 133.1ZM122.9 113.8L122.9 111.8L121.2 110.8L119.4 111.8L119.4 113.8L121.2 114.8ZM137.0 126.0L137.0 124.0L135.2 123.0L133.5 124.0L133.5 126.0L135.2 127.0ZM147.5 101.6L147.5 99.6L145.8 98.6L144.0 99.6L144.0 101.6L145.8 102.6Z"/>
<path fill="#8dc1dd" stroke="#8dc1dd" stroke-width="0.25" d="M75.5 177.8L75.5 175.8L73.7 174.8L71.9 175.8L71.9 177.8L73.7 178.8ZM79.0 165.6L79.0 163.6L77.2 162.6L75.5 163.6L75.5 165.6L77.2 166.6ZM82.5 159.5L82.5 157.5L80.7 156.5L79.0 157.5L79.0 159.5L80.7 160.5ZM93.0 177.8L93.0 175.8L91.3 174.8L89.5 175.8L89.5 177.8L91.3 178.8ZM84.2 156.5L84.2 154.4L82.5 153.4L80.7 154.4L80.7 156.5L82.5 157.5ZM87.8 180.8L87.8 178.8L86.0 177.8L84.2 178.8L84.2 180.8L86.0 181.9ZM87.8 150.4L87.8 148.3L86.0 147.3L84.2 148.3L84.2 150.4L86.0 151.4ZM91.3 144.3L91.3 142.3L89.5 141.2L87.8 142.3L87.8 144.3L89.5 145.3ZM108.9 162.6L108.9 160.5L107.1 159.5L105.3 160.5L105.3 162.6L107.1 163.6ZM108.9 126.0L108.9 124.0L107.1 123.0L105.3 124.0L105.3 126.0L107.1 127.0ZM112.4 156.5L112.4 154.4L110.6 153.4L108.9 154.4L108.9 156.5L110.6 157.5ZM122.9 144.3L122.9 142.3L121.2 141.2L119.4 142.3L119.4 144.3L121.2 145.3ZM126.4 113.8L126.4 111.8L124.7 110.8L122.9 111.8L122.9 113.8L124.7 114.8ZM133.5 107.7L133.5 105.7L131.7 104.7L130.0 105.7L130.0 107.7L131.7 108.7ZM137.0 107.7L137.0 105.7L135.2 104.7L133.5 105.7L133.5 107.7L135.2 108.7Z"/>
<path fill="#7cb7da" stroke="#7cb7da" stroke-width="0.25" d="M79.0 177.8L79.0 175.8L77.2 174.8L75.5 175.8L75.5 177.8L77.2 178.8ZM96.6 171.7L96.6 169.7L94.8 168.7L93.0 169.7L93.0 171.7L94.8 172.7ZM100.1 135.1L100.1 133.1L98.3 132.1L96.6 133.1L96.6 135.1L98.3 136.2ZM110.6 159.5L110.6 157.5L108.9 156.5L107.1 157.5L107.1 159.5L108.9 160.5ZM121.2 141.2L121.2 139.2L119.4 138.2L117.6 139.2L117.6 141.2L119.4 142.3ZM124.7 116.9L124.7 114.8L122.9 113.8L121.2 114.8L121.2 116.9L122.9 117.9ZM128.2 135.1L128.2 133.1L126.4 132.1L124.7 133.1L124.7 135.1L126.4 136.2ZM128.2 110.8L128.2 108.7L126.4 107.7L124.7 108.7L124.7 110.8L126.4 111.8ZM131.7 110.8L131.7 108.7L130.0 107.7L128.2 108.7L128.2 110.8L130.0 111.8ZM94.8 174.8L94.8 172.7L93.0 171.7L91.3 172.7L91.3 174.8L93.0 175.8ZM101.8 168.7L101.8 166.6L100.1 165.6L98.3 166.6L98.3 168.7L100.1 169.7ZM115.9 119.9L115.9 117.9L114.1 116.9L112.4 117.9L112.4 119.9L114.1 120.9ZM119.4 119.9L119.4 117.9L117.6 116.9L115.9 117.9L115.9 119.9L117.6 120.9ZM126.4 138.2L126.4 136.2L124.7 135.1L122.9 136.2L122.9 138.2L124.7 139.2ZM133.5 126.0L133.5 124.0L131.7 123.0L130.0 124.0L130.0 126.0L131.7 127.0ZM140.5 107.7L140.5 105.7L138.7 104.7L137.0 105.7L137.0 107.7L138.7 108.7ZM144.0 107.7L144.0 105.7L142.3 104.7L140.5 105.7L140.5 107.7L142.3 108.7Z"/>
<path fill="#6aaed6" stroke="#6aaed6" stroke-width="0.25" d="M82.5 177.8L82.5 175.8L80.7 174.8L79.0 175.8L79.0 177.8L80.7 178.8ZM86.0 177.8L86.0 175.8L84.2 174.8L82.5 175.8L82.5 177.8L84.2 178.8ZM89.5 177.8L89.5 175.8L87.8 174.8L86.0 175.8L86.0 177.8L87.8 178.8ZM89.5 147.3L89.5 145.3L87.8 144.3L86.0 145.3L86.0 147.3L87.8 148.3ZM103.6 165.6L103.6 163.6L101.8 162.6L100.1 163.6L100.1 165.6L101.8 166.6ZM103.6 135.1L103.6 133.1L101.8 132.1L100.1 133.1L100.1 135.1L101.8 136.2ZM107.1 129.1L107.1 127.0L105.3 126.0L103.6 127.0L103.6 129.1L105.3 130.1ZM114.1 153.4L114.1 151.4L112.4 150.4L110.6 151.4L110.6 153.4L112.4 154.4ZM114.1 123.0L114.1 120.9L112.4 119.9L110.6 120.9L110.6 123.0L112.4 124.0ZM117.6 147.3L117.6 145.3L115.9 144.3L114.1 145.3L114.1 147.3L115.9 148.3ZM117.6 123.0L117.6 120.9L115.9 119.9L114.1 120.9L114.1 123.0L115.9 124.0ZM131.7 129.1L131.7 127.0L130.0 126.0L128.2 127.0L128.2 129.1L130.0 130.1ZM135.2 123.0L135.2 120.9L133.5 119.9L131.7 120.9L131.7 123.0L133.5 124.0ZM135.2 110.8L135.2 108.7L133.5 107.7L131.7 108.7L131.7 110.8L133.5 111.8ZM142.3 110.8L142.3 108.7L140.5 107.7L138.7 108.7L138.7 110.8L140.5 111.8ZM77.2 174.8L77.2 172.7L75.5 171.7L73.7 172.7L73.7 174.8L75.5 175.8ZM98.3 138.2L98.3 136.2L96.6 135.1L94.8 136.2L94.8 138.2L96.6 139.2ZM105.3 162.6L105.3 160.5L103.6 159.5L101.8 160.5L101.8 162.6L103.6 163.6ZM105.3 132.1L105.3 130.1L103.6 129.1L101.8 130.1L101.8 132.1L103.6 133.1ZM115.9 150.4L115.9 148.3L114.1 147.3L112.4 148.3L112.4 150.4L114.1 151.4ZM119.4 144.3L119.4 142.3L117.6 141.2L115.9 142.3L115.9 144.3L117.6 145.3ZM130.0 132.1L130.0 130.1L128.2 129.1L126.4 130.1L126.4 132.1L128.2 133.1ZM130.0 113.8L130.0 111.8L128.2 110.8L126.4 111.8L126.4 113.8L128.2 114.8ZM137.0 119.9L137.0 117.9L135.2 116.9L133.5 117.9L133.5 119.9L135.2 120.9Z"/>
<path fill="#5da5d1" stroke="#5da5d1" stroke-width="0.25" d="M79.0 171.7L79.0 169.7L77.2 168.7L75.5 169.7L75.5 171.7L77.2 172.7ZM82.5 165.6L82.5 163.6L80.7 162.6L79.0 163.6L79.0 165.6L80.7 166.6ZM93.0 171.7L93.0 169.7L91.3 168.7L89.5 169.7L89.5 171.7L91.3 172.7ZM96.6 141.2L96.6 139.2L94.8 138.2L93.0 139.2L93.0 141.2L94.8 142.3ZM110.6 129.1L110.6 127.0L108.9 126.0L107.1 127.0L107.1 129.1L108.9 130.1ZM128.2 116.9L128.2 114.8L126.4 113.8L124.7 114.8L124.7 116.9L126.4 117.9ZM138.7 116.9L138.7 114.8L137.0 113.8L135.2 114.8L135.2 116.9L137.0 117.9ZM138.7 110.8L138.7 108.7L137.0 107.7L135.2 108.7L135.2 110.8L137.0 111.8ZM80.7 174.8L80.7 172.7L79.0 171.7L77.2 172.7L77.2 174.8L79.0 175.8ZM84.2 162.6L84.2 160.5L82.5 159.5L80.7 160.5L80.7 162.6L82.5 163.6ZM87.8 174.8L87.8 172.7L86.0 171.7L84.2 172.7L84.2 174.8L86.0 175.8ZM91.3 174.8L91.3 172.7L89.5 171.7L87.8 172.7L87.8 174.8L89.5 175.8ZM94.8 144.3L94.8 142.3L93.0 141.2L91.3 142.3L91.3 144.3L93.0 145.3ZM98.3 168.7L98.3 166.6L96.6 165.6L94.8 166.6L94.8 168.7L96.6 169.7ZM108.9 156.5L108.9 154.4L107.1 153.4L105.3 154.4L105.3 156.5L107.1 157.5ZM112.4 126.0L112.4 124.0L110.6 123.0L108.9 124.0L108.9 126.0L110.6 127.0ZM115.9 126.0L115.9 124.0L114.1 123.0L112.4 124.0L112.4 126.0L114.1 127.0ZM122.9 138.2L122.9 136.2L121.2 135.1L119.4 136.2L119.4 138.2L121.2 139.2ZM122.9 119.9L122.9 117.9L121.2 116.9L119.4 117.9L119.4 119.9L121.2 120.9ZM140.5 113.8L140.5 111.8L138.7 110.8L137.0 111.8L137.0 113.8L138.7 114.8Z"/>
<path fill="#4f9bcb" stroke="#4f9bcb" stroke-width="0.25" d="M89.5 153.4L89.5 151.4L87.8 150.4L86.0 151.4L86.0 153.4L87.8 154.4ZM93.0 147.3L93.0 145.3L91.3 144.3L89.5 145.3L89.5 147.3L91.3 148.3ZM100.1 165.6L100.1 163.6L98.3 162.6L96.6 163.6L96.6 165.6L98.3 166.6ZM100.1 141.2L100.1 139.2L98.3 138.2L96.6 139.2L96.6 141.2L98.3 142.3ZM107.1 159.5L107.1 157.5L105.3 156.5L103.6 157.5L103.6 159.5L105.3 160.5ZM110.6 153.4L110.6 151.4L108.9 150.4L107.1 151.4L107.1 153.4L108.9 154.4ZM121.2 123.0L121.2 120.9L119.4 119.9L117.6 120.9L117.6 123.0L119.4 124.0ZM124.7 135.1L124.7 133.1L122.9 132.1L121.2 133.1L121.2 135.1L122.9 136.2ZM131.7 116.9L131.7 114.8L130.0 113.8L128.2 114.8L128.2 116.9L130.0 117.9ZM80.7 168.7L80.7 166.6L79.0 165.6L77.2 166.6L77.2 168.7L79.0 169.7ZM84.2 174.8L84.2 172.7L82.5 171.7L80.7 172.7L80.7 174.8L82.5 175.8ZM87.8 156.5L87.8 154.4L86.0 153.4L84.2 154.4L84.2 156.5L86.0 157.5ZM91.3 150.4L91.3 148.3L89.5 147.3L87.8 148.3L87.8 150.4L89.5 151.4ZM101.8 162.6L101.8 160.5L100.1 159.5L98.3 160.5L98.3 162.6L100.1 163.6ZM101.8 138.2L101.8 136.2L100.1 135.1L98.3 136.2L98.3 138.2L100.1 139.2ZM108.9 132.1L108.9 130.1L107.1 129.1L105.3 130.1L105.3 132.1L107.1 133.1ZM112.4 150.4L112.4 148.3L110.6 147.3L108.9 148.3L108.9 150.4L110.6 151.4ZM126.4 119.9L126.4 117.9L124.7 116.9L122.9 117.9L122.9 119.9L124.7 120.9ZM133.5 113.8L133.5 111.8L131.7 110.8L130.0 111.8L130.0 113.8L131.7 114.8Z"/>
<path fill="#4191c6" stroke="#4191c6" stroke-width="0.25" d="M86.0 159.5L86.0 157.5L84.2 156.5L82.5 157.5L82.5 159.5L84.2 160.5ZM89.5 171.7L89.5 169.7L87.8 168.7L86.0 169.7L86.0 171.7L87.8 172.7ZM107.1 135.1L107.1 133.1L105.3 132.1L103.6 133.1L103.6 135.1L105.3 136.2ZM114.1 147.3L114.1 145.3L112.4 144.3L110.6 145.3L110.6 147.3L112.4 148.3ZM114.1 129.1L114.1 127.0L112.4 126.0L110.6 127.0L110.6 129.1L112.4 130.1ZM128.2 129.1L128.2 127.0L126.4 126.0L124.7 127.0L124.7 129.1L126.4 130.1ZM94.8 168.7L94.8 166.6L93.0 165.6L91.3 166.6L91.3 168.7L93.0 169.7ZM119.4 138.2L119.4 136.2L117.6 135.1L115.9 136.2L115.9 138.2L117.6 139.2ZM119.4 126.0L119.4 124.0L117.6 123.0L115.9 124.0L115.9 126.0L117.6 127.0ZM126.4 132.1L126.4 130.1L124.7 129.1L122.9 130.1L122.9 132.1L124.7 133.1ZM130.0 126.0L130.0 124.0L128.2 123.0L126.4 124.0L126.4 126.0L128.2 127.0ZM137.0 113.8L137.0 111.8L135.2 110.8L133.5 111.8L133.5 113.8L135.2 114.8Z"/>
<path fill="#3787c0" stroke="#3787c0" stroke-width="0.25" d="M82.5 171.7L82.5 169.7L80.7 168.7L79.0 169.7L79.0 171.7L80.7 172.7ZM86.0 171.7L86.0 169.7L84.2 168.7L82.5 169.7L82.5 171.7L84.2 172.7ZM96.6 165.6L96.6 163.6L94.8 162.6L93.0 163.6L93.0 165.6L94.8 166.6ZM96.6 147.3L96.6 145.3L94.8 144.3L93.0 145.3L93.0 147.3L94.8 148.3ZM103.6 159.5L103.6 157.5L101.8 156.5L100.1 157.5L100.1 159.5L101.8 160.5ZM107.1 153.4L107.1 151.4L105.3 150.4L103.6 151.4L103.6 153.4L105.3 154.4ZM117.6 141.2L117.6 139.2L115.9 138.2L114.1 139.2L114.1 141.2L115.9 142.3ZM117.6 129.1L117.6 127.0L115.9 126.0L114.1 127.0L114.1 129.1L115.9 130.1ZM121.2 135.1L121.2 133.1L119.4 132.1L117.6 133.1L117.6 135.1L119.4 136.2ZM124.7 123.0L124.7 120.9L122.9 119.9L121.2 120.9L121.2 123.0L122.9 124.0ZM131.7 123.0L131.7 120.9L130.0 119.9L128.2 120.9L128.2 123.0L130.0 124.0ZM135.2 116.9L135.2 114.8L133.5 113.8L131.7 114.8L131.7 116.9L133.5 117.9ZM91.3 168.7L91.3 166.6L89.5 165.6L87.8 166.6L87.8 168.7L89.5 169.7ZM98.3 144.3L98.3 142.3L96.6 141.2L94.8 142.3L94.8 144.3L96.6 145.3ZM105.3 156.5L105.3 154.4L103.6 153.4L101.8 154.4L101.8 156.5L103.6 157.5ZM112.4 132.1L112.4 130.1L110.6 129.1L108.9 130.1L108.9 132.1L110.6 133.1ZM122.9 126.0L122.9 124.0L121.2 123.0L119.4 124.0L119.4 126.0L121.2 127.0ZM130.0 119.9L130.0 117.9L128.2 116.9L126.4 117.9L126.4 119.9L128.2 120.9ZM133.5 119.9L133.5 117.9L131.7 116.9L130.0 117.9L130.0 119.9L131.7 120.9Z"/>
<path fill="#2c7cba" stroke="#2c7cba" stroke-width="0.25" d="M93.0 165.6L93.0 163.6L91.3 162.6L89.5 163.6L89.5 165.6L91.3 166.6ZM93.0 153.4L93.0 151.4L91.3 150.4L89.5 151.4L89.5 153.4L91.3 154.4ZM100.1 159.5L100.1 157.5L98.3 156.5L96.6 157.5L96.6 159.5L98.3 160.5ZM103.6 141.2L103.6 139.2L101.8 138.2L100.1 139.2L100.1 141.2L101.8 142.3ZM110.6 147.3L110.6 145.3L108.9 144.3L107.1 145.3L107.1 147.3L108.9 148.3ZM110.6 135.1L110.6 133.1L108.9 132.1L107.1 133.1L107.1 135.1L108.9 136.2ZM84.2 168.7L84.2 166.6L82.5 165.6L80.7 166.6L80.7 168.7L82.5 169.7ZM87.8 168.7L87.8 166.6L86.0 165.6L84.2 166.6L84.2 168.7L86.0 169.7ZM94.8 150.4L94.8 148.3L93.0 147.3L91.3 148.3L91.3 150.4L93.0 151.4ZM98.3 162.6L98.3 160.5L96.6 159.5L94.8 160.5L94.8 162.6L96.6 163.6ZM105.3 138.2L105.3 136.2L103.6 135.1L101.8 136.2L101.8 138.2L103.6 139.2ZM108.9 150.4L108.9 148.3L107.1 147.3L105.3 148.3L105.3 150.4L107.1 151.4ZM115.9 144.3L115.9 142.3L114.1 141.2L112.4 142.3L112.4 144.3L114.1 145.3ZM122.9 132.1L122.9 130.1L121.2 129.1L119.4 130.1L119.4 132.1L121.2 133.1Z"/>
<path fill="#2070b4" stroke="#2070b4" stroke-width="0.25" d="M86.0 165.6L86.0 163.6L84.2 162.6L82.5 163.6L82.5 165.6L84.2 166.6ZM121.2 129.1L121.2 127.0L119.4 126.0L117.6 127.0L117.6 129.1L119.4 130.1ZM124.7 129.1L124.7 127.0L122.9 126.0L121.2 127.0L121.2 129.1L122.9 130.1ZM128.2 123.0L128.2 120.9L126.4 119.9L124.7 120.9L124.7 123.0L126.4 124.0ZM91.3 156.5L91.3 154.4L89.5 153.4L87.8 154.4L87.8 156.5L89.5 157.5ZM94.8 162.6L94.8 160.5L93.0 159.5L91.3 160.5L91.3 162.6L93.0 163.6ZM101.8 156.5L101.8 154.4L100.1 153.4L98.3 154.4L98.3 156.5L100.1 157.5ZM101.8 144.3L101.8 142.3L100.1 141.2L98.3 142.3L98.3 144.3L100.1 145.3ZM108.9 138.2L108.9 136.2L107.1 135.1L105.3 136.2L105.3 138.2L107.1 139.2ZM126.4 126.0L126.4 124.0L124.7 123.0L122.9 124.0L122.9 126.0L124.7 127.0Z"/>
<path fill="#1966ad" stroke="#1966ad" stroke-width="0.25" d="M89.5 165.6L89.5 163.6L87.8 162.6L86.0 163.6L86.0 165.6L87.8 166.6ZM89.5 159.5L89.5 157.5L87.8 156.5L86.0 157.5L86.0 159.5L87.8 160.5ZM100.1 147.3L100.1 145.3L98.3 144.3L96.6 145.3L96.6 147.3L98.3 148.3ZM103.6 153.4L103.6 151.4L101.8 150.4L100.1 151.4L100.1 153.4L101.8 154.4ZM87.8 162.6L87.8 160.5L86.0 159.5L84.2 160.5L84.2 162.6L86.0 163.6ZM112.4 144.3L112.4 142.3L110.6 141.2L108.9 142.3L108.9 144.3L110.6 145.3ZM115.9 132.1L115.9 130.1L114.1 129.1L112.4 130.1L112.4 132.1L114.1 133.1ZM119.4 132.1L119.4 130.1L117.6 129.1L115.9 130.1L115.9 132.1L117.6 133.1Z"/>
<path fill="#105ba4" stroke="#105ba4" stroke-width="0.25" d="M96.6 159.5L96.6 157.5L94.8 156.5L93.0 157.5L93.0 159.5L94.8 160.5ZM107.1 141.2L107.1 139.2L105.3 138.2L103.6 139.2L103.6 141.2L105.3 142.3ZM114.1 141.2L114.1 139.2L112.4 138.2L110.6 139.2L110.6 141.2L112.4 142.3ZM114.1 135.1L114.1 133.1L112.4 132.1L110.6 133.1L110.6 135.1L112.4 136.2ZM117.6 135.1L117.6 133.1L115.9 132.1L114.1 133.1L114.1 135.1L115.9 136.2ZM91.3 162.6L91.3 160.5L89.5 159.5L87.8 160.5L87.8 162.6L89.5 163.6ZM105.3 150.4L105.3 148.3L103.6 147.3L101.8 148.3L101.8 150.4L103.6 151.4Z"/>
<path fill="#08509b" stroke="#08509b" stroke-width="0.25" d="M93.0 159.5L93.0 157.5L91.3 156.5L89.5 157.5L89.5 159.5L91.3 160.5ZM96.6 153.4L96.6 151.4L94.8 150.4L93.0 151.4L93.0 153.4L94.8 154.4ZM110.6 141.2L110.6 139.2L108.9 138.2L107.1 139.2L107.1 141.2L108.9 142.3ZM94.8 156.5L94.8 154.4L93.0 153.4L91.3 154.4L91.3 156.5L93.0 157.5ZM98.3 156.5L98.3 154.4L96.6 153.4L94.8 154.4L94.8 156.5L96.6 157.5ZM98.3 150.4L98.3 148.3L96.6 147.3L94.8 148.3L94.8 150.4L96.6 151.4ZM105.3 144.3L105.3 142.3L103.6 141.2L101.8 142.3L101.8 144.3L103.6 145.3ZM112.4 138.2L112.4 136.2L110.6 135.1L108.9 136.2L108.9 138.2L110.6 139.2ZM115.9 138.2L115.9 136.2L114.1 135.1L112.4 136.2L112.4 138.2L114.1 139.2Z"/>
<path fill="#08468b" stroke="#08468b" stroke-width="0.25" d="M100.1 153.4L100.1 151.4L98.3 150.4L96.6 151.4L96.6 153.4L98.3 154.4ZM103.6 147.3L103.6 145.3L101.8 144.3L100.1 145.3L100.1 147.3L101.8 148.3ZM107.1 147.3L107.1 145.3L105.3 144.3L103.6 145.3L103.6 147.3L105.3 148.3ZM101.8 150.4L101.8 148.3L100.1 147.3L98.3 148.3L98.3 150.4L100.1 151.4ZM108.9 144.3L108.9 142.3L107.1 141.2L105.3 142.3L105.3 144.3L107.1 145.3Z"/>
</g>
<line x1="42.05" y1="207.25" x2="182.7" y2="67.1" stroke="#cd0a18" stroke-width="1.9" stroke-dasharray="6.6 2.86" clip-path="url(#cp0)"/>
<rect x="42.05" y="67.1" width="140.65" height="140.15" fill="none" stroke="#000" stroke-width="1.6"/>
<line x1="42.05" y1="207.25" x2="42.05" y2="210.85" stroke="#000" stroke-width="1.3"/>
<line x1="38.45" y1="207.25" x2="42.05" y2="207.25" stroke="#000" stroke-width="1.3"/>
<text x="42.05" y="224.7" font-size="11.8" text-anchor="middle">−11</text>
<text x="33.75" y="211.25" font-size="11.8" text-anchor="end">−11</text>
<line x1="68.68" y1="207.25" x2="68.68" y2="210.85" stroke="#000" stroke-width="1.3"/>
<line x1="38.45" y1="180.72" x2="42.05" y2="180.72" stroke="#000" stroke-width="1.3"/>
<text x="68.68" y="224.7" font-size="11.8" text-anchor="middle">−7</text>
<text x="33.75" y="184.72" font-size="11.8" text-anchor="end">−7</text>
<line x1="95.30" y1="207.25" x2="95.30" y2="210.85" stroke="#000" stroke-width="1.3"/>
<line x1="38.45" y1="154.19" x2="42.05" y2="154.19" stroke="#000" stroke-width="1.3"/>
<text x="95.30" y="224.7" font-size="11.8" text-anchor="middle">−3</text>
<text x="33.75" y="158.19" font-size="11.8" text-anchor="end">−3</text>
<line x1="121.93" y1="207.25" x2="121.93" y2="210.85" stroke="#000" stroke-width="1.3"/>
<line x1="38.45" y1="127.66" x2="42.05" y2="127.66" stroke="#000" stroke-width="1.3"/>
<text x="121.93" y="224.7" font-size="11.8" text-anchor="middle">1</text>
<text x="33.75" y="131.66" font-size="11.8" text-anchor="end">1</text>
<line x1="148.55" y1="207.25" x2="148.55" y2="210.85" stroke="#000" stroke-width="1.3"/>
<line x1="38.45" y1="101.13" x2="42.05" y2="101.13" stroke="#000" stroke-width="1.3"/>
<text x="148.55" y="224.7" font-size="11.8" text-anchor="middle">5</text>
<text x="33.75" y="105.13" font-size="11.8" text-anchor="end">5</text>
<line x1="175.18" y1="207.25" x2="175.18" y2="210.85" stroke="#000" stroke-width="1.3"/>
<line x1="38.45" y1="74.60" x2="42.05" y2="74.60" stroke="#000" stroke-width="1.3"/>
<text x="175.18" y="224.7" font-size="11.8" text-anchor="middle">9</text>
<text x="33.75" y="78.60" font-size="11.8" text-anchor="end">9</text>
<text x="44.45" y="75.30" font-size="6.85">MAE = 0.671 eV</text>
<text x="44.45" y="82.50" font-size="6.85">RMSE = 1.04 eV</text>
<text x="44.45" y="89.70" font-size="6.85">MDAE = 0.427 eV</text>
<text x="44.45" y="96.90" font-size="6.85">MARPD = 48.2%</text>
<text x="44.45" y="104.10" font-size="6.85">R2 = 0.791</text>
<text x="44.45" y="111.30" font-size="6.85">R = 0.890</text>
<text x="153.5" y="188.9" font-size="13" text-anchor="middle">5-fold</text>
<text x="153.5" y="204.2" font-size="13" text-anchor="middle">Ensemble</text>
<text x="40.45" y="61.9" font-size="13.3">(a)</text>
<path d="M243.00 66.6V66.4H243.72V65.7H244.44V66.2H245.16V65.8H245.88V65.9H246.60V65.4H247.32V65.3H248.04V65.0H248.76V64.3H249.48V64.2H250.20V63.1H250.92V63.0H251.64V62.3H252.36V60.8H253.08V60.8H253.80V59.7H254.52V57.6H255.24V55.8H255.96V54.3H256.68V52.9H257.40V50.9H258.12V47.7H258.84V45.2H259.56V41.5H260.28V37.4H261.00V33.0H261.72V31.4H262.44V28.9H263.16V28.8H263.88V29.5H264.60V29.6H265.32V27.0H266.04V22.3H266.76V17.2H267.48V13.4H268.20V6.0H268.92V0.3H269.64V0.6H270.36V5.0H271.08V10.1H271.80V14.6H272.52V12.3H273.24V9.7H273.96V5.7H274.68V1.9H275.40V3.3H276.12V3.6H276.84V7.2H277.56V10.1H278.28V11.9H279.00V13.6H279.72V15.8H280.44V17.7H281.16V17.8H281.88V20.0H282.60V21.9H283.32V22.4H284.04V20.5H284.76V21.9H285.48V24.9H286.20V27.6H286.92V30.8H287.64V35.8H288.36V39.8H289.08V42.5H289.80V44.7H290.52V45.5H291.24V47.3H291.96V47.8H292.68V48.6H293.40V47.8H294.12V48.5H294.84V48.7H295.56V47.9H296.28V49.7H297.00V50.4H297.72V51.4H298.44V52.6H299.16V52.4H299.88V54.0H300.60V54.2H301.32V55.2H302.04V56.0H302.76V56.3H303.48V57.5H304.20V58.2H304.92V59.4H305.64V59.7H306.36V59.9H307.08V61.6H307.80V61.7H308.52V62.6H309.24V63.1H309.96V63.9H310.68V63.9H311.40V65.0H312.12V64.8H312.84V65.3H313.56V65.7H314.28V65.9H315.00V65.9H315.72V66.5H316.44V66.6H317.16V66.6Z" fill="#4682b4"/>
<text x="262.4" y="55.0" font-size="8.3" fill="#eaf1f8">μ = -1.50</text>
<text x="262.4" y="65.0" font-size="8.3" fill="#eaf1f8">σ = 1.95</text>
<rect x="214.5" y="67.1" width="140.65" height="140.15" fill="#f9fafc"/>
<clipPath id="cp1"><rect x="214.5" y="67.1" width="140.65" height="140.15"/></clipPath>
<g clip-path="url(#cp1)">
<path fill="#f7fbff" stroke="#f7fbff" stroke-width="0.25" d="M223.3 196.1L223.3 194.0L221.5 193.0L219.8 194.0L219.8 196.1L221.5 197.1ZM230.3 202.2L230.3 200.1L228.6 199.1L226.8 200.1L226.8 202.2L228.6 203.2ZM233.8 202.2L233.8 200.1L232.1 199.1L230.3 200.1L230.3 202.2L232.1 203.2ZM233.8 190.0L233.8 188.0L232.1 186.9L230.3 188.0L230.3 190.0L232.1 191.0ZM237.4 208.3L237.4 206.2L235.6 205.2L233.8 206.2L233.8 208.3L235.6 209.3ZM237.4 202.2L237.4 200.1L235.6 199.1L233.8 200.1L233.8 202.2L235.6 203.2ZM237.4 177.8L237.4 175.8L235.6 174.8L233.8 175.8L233.8 177.8L235.6 178.8ZM244.4 190.0L244.4 188.0L242.6 186.9L240.9 188.0L240.9 190.0L242.6 191.0ZM244.4 183.9L244.4 181.9L242.6 180.8L240.9 181.9L240.9 183.9L242.6 184.9ZM244.4 165.6L244.4 163.6L242.6 162.6L240.9 163.6L240.9 165.6L242.6 166.6ZM247.9 202.2L247.9 200.1L246.1 199.1L244.4 200.1L244.4 202.2L246.1 203.2ZM251.4 202.2L251.4 200.1L249.7 199.1L247.9 200.1L247.9 202.2L249.7 203.2ZM251.4 159.5L251.4 157.5L249.7 156.5L247.9 157.5L247.9 159.5L249.7 160.5ZM251.4 153.4L251.4 151.4L249.7 150.4L247.9 151.4L247.9 153.4L249.7 154.4ZM262.0 208.3L262.0 206.2L260.2 205.2L258.5 206.2L258.5 208.3L260.2 209.3ZM262.0 135.1L262.0 133.1L260.2 132.1L258.5 133.1L258.5 135.1L260.2 136.2ZM265.5 196.1L265.5 194.0L263.7 193.0L262.0 194.0L262.0 196.1L263.7 197.1ZM265.5 135.1L265.5 133.1L263.7 132.1L262.0 133.1L262.0 135.1L263.7 136.2ZM272.5 196.1L272.5 194.0L270.8 193.0L269.0 194.0L269.0 196.1L270.8 197.1ZM272.5 190.0L272.5 188.0L270.8 186.9L269.0 188.0L269.0 190.0L270.8 191.0ZM276.0 116.9L276.0 114.8L274.3 113.8L272.5 114.8L272.5 116.9L274.3 117.9ZM279.6 177.8L279.6 175.8L277.8 174.8L276.0 175.8L276.0 177.8L277.8 178.8ZM279.6 110.8L279.6 108.7L277.8 107.7L276.0 108.7L276.0 110.8L277.8 111.8ZM283.1 177.8L283.1 175.8L281.3 174.8L279.6 175.8L279.6 177.8L281.3 178.8ZM286.6 171.7L286.6 169.7L284.8 168.7L283.1 169.7L283.1 171.7L284.8 172.7ZM286.6 110.8L286.6 108.7L284.8 107.7L283.1 108.7L283.1 110.8L284.8 111.8ZM286.6 98.6L286.6 96.6L284.8 95.5L283.1 96.6L283.1 98.6L284.8 99.6ZM290.1 98.6L290.1 96.6L288.3 95.5L286.6 96.6L286.6 98.6L288.3 99.6ZM293.6 165.6L293.6 163.6L291.9 162.6L290.1 163.6L290.1 165.6L291.9 166.6ZM293.6 159.5L293.6 157.5L291.9 156.5L290.1 157.5L290.1 159.5L291.9 160.5ZM293.6 110.8L293.6 108.7L291.9 107.7L290.1 108.7L290.1 110.8L291.9 111.8ZM297.1 183.9L297.1 181.9L295.4 180.8L293.6 181.9L293.6 183.9L295.4 184.9ZM297.1 159.5L297.1 157.5L295.4 156.5L293.6 157.5L293.6 159.5L295.4 160.5ZM297.1 153.4L297.1 151.4L295.4 150.4L293.6 151.4L293.6 153.4L295.4 154.4ZM297.1 98.6L297.1 96.6L295.4 95.5L293.6 96.6L293.6 98.6L295.4 99.6ZM300.6 153.4L300.6 151.4L298.9 150.4L297.1 151.4L297.1 153.4L298.9 154.4ZM300.6 147.3L300.6 145.3L298.9 144.3L297.1 145.3L297.1 147.3L298.9 148.3ZM307.7 92.5L307.7 90.5L305.9 89.4L304.2 90.5L304.2 92.5L305.9 93.5ZM307.7 80.3L307.7 78.3L305.9 77.3L304.2 78.3L304.2 80.3L305.9 81.3ZM314.7 129.1L314.7 127.0L313.0 126.0L311.2 127.0L311.2 129.1L313.0 130.1ZM314.7 123.0L314.7 120.9L313.0 119.9L311.2 120.9L311.2 123.0L313.0 124.0ZM318.2 92.5L318.2 90.5L316.5 89.4L314.7 90.5L314.7 92.5L316.5 93.5ZM325.3 110.8L325.3 108.7L323.5 107.7L321.7 108.7L321.7 110.8L323.5 111.8ZM325.3 80.3L325.3 78.3L323.5 77.3L321.7 78.3L321.7 80.3L323.5 81.3ZM328.8 86.4L328.8 84.4L327.0 83.3L325.3 84.4L325.3 86.4L327.0 87.4ZM332.3 98.6L332.3 96.6L330.5 95.5L328.8 96.6L328.8 98.6L330.5 99.6ZM335.8 98.6L335.8 96.6L334.1 95.5L332.3 96.6L332.3 98.6L334.1 99.6ZM335.8 74.2L335.8 72.2L334.1 71.2L332.3 72.2L332.3 74.2L334.1 75.2ZM339.3 92.5L339.3 90.5L337.6 89.4L335.8 90.5L335.8 92.5L337.6 93.5ZM342.8 92.5L342.8 90.5L341.1 89.4L339.3 90.5L339.3 92.5L341.1 93.5ZM342.8 86.4L342.8 84.4L341.1 83.3L339.3 84.4L339.3 86.4L341.1 87.4ZM342.8 74.2L342.8 72.2L341.1 71.2L339.3 72.2L339.3 74.2L341.1 75.2ZM353.4 68.1L353.4 66.1L351.6 65.1L349.9 66.1L349.9 68.1L351.6 69.1ZM235.6 174.8L235.6 172.7L233.8 171.7L232.1 172.7L232.1 174.8L233.8 175.8ZM239.1 199.1L239.1 197.1L237.4 196.1L235.6 197.1L235.6 199.1L237.4 200.1ZM239.1 180.8L239.1 178.8L237.4 177.8L235.6 178.8L235.6 180.8L237.4 181.9ZM242.6 174.8L242.6 172.7L240.9 171.7L239.1 172.7L239.1 174.8L240.9 175.8ZM246.1 193.0L246.1 191.0L244.4 190.0L242.6 191.0L242.6 193.0L244.4 194.0ZM246.1 168.7L246.1 166.6L244.4 165.6L242.6 166.6L242.6 168.7L244.4 169.7ZM249.7 144.3L249.7 142.3L247.9 141.2L246.1 142.3L246.1 144.3L247.9 145.3ZM253.2 193.0L253.2 191.0L251.4 190.0L249.7 191.0L249.7 193.0L251.4 194.0ZM256.7 205.2L256.7 203.2L254.9 202.2L253.2 203.2L253.2 205.2L254.9 206.2ZM256.7 144.3L256.7 142.3L254.9 141.2L253.2 142.3L253.2 144.3L254.9 145.3ZM260.2 199.1L260.2 197.1L258.5 196.1L256.7 197.1L256.7 199.1L258.5 200.1ZM260.2 193.0L260.2 191.0L258.5 190.0L256.7 191.0L256.7 193.0L258.5 194.0ZM260.2 138.2L260.2 136.2L258.5 135.1L256.7 136.2L256.7 138.2L258.5 139.2ZM260.2 132.1L260.2 130.1L258.5 129.1L256.7 130.1L256.7 132.1L258.5 133.1ZM263.7 193.0L263.7 191.0L262.0 190.0L260.2 191.0L260.2 193.0L262.0 194.0ZM263.7 126.0L263.7 124.0L262.0 123.0L260.2 124.0L260.2 126.0L262.0 127.0ZM267.2 193.0L267.2 191.0L265.5 190.0L263.7 191.0L263.7 193.0L265.5 194.0ZM267.2 126.0L267.2 124.0L265.5 123.0L263.7 124.0L263.7 126.0L265.5 127.0ZM274.3 193.0L274.3 191.0L272.5 190.0L270.8 191.0L270.8 193.0L272.5 194.0ZM274.3 113.8L274.3 111.8L272.5 110.8L270.8 111.8L270.8 113.8L272.5 114.8ZM274.3 107.7L274.3 105.7L272.5 104.7L270.8 105.7L270.8 107.7L272.5 108.7ZM277.8 186.9L277.8 184.9L276.0 183.9L274.3 184.9L274.3 186.9L276.0 188.0ZM277.8 180.8L277.8 178.8L276.0 177.8L274.3 178.8L274.3 180.8L276.0 181.9ZM277.8 174.8L277.8 172.7L276.0 171.7L274.3 172.7L274.3 174.8L276.0 175.8ZM281.3 168.7L281.3 166.6L279.6 165.6L277.8 166.6L277.8 168.7L279.6 169.7ZM281.3 107.7L281.3 105.7L279.6 104.7L277.8 105.7L277.8 107.7L279.6 108.7ZM284.8 186.9L284.8 184.9L283.1 183.9L281.3 184.9L281.3 186.9L283.1 188.0ZM284.8 174.8L284.8 172.7L283.1 171.7L281.3 172.7L281.3 174.8L283.1 175.8ZM284.8 168.7L284.8 166.6L283.1 165.6L281.3 166.6L281.3 168.7L283.1 169.7ZM288.3 101.6L288.3 99.6L286.6 98.6L284.8 99.6L284.8 101.6L286.6 102.6ZM291.9 168.7L291.9 166.6L290.1 165.6L288.3 166.6L288.3 168.7L290.1 169.7ZM291.9 156.5L291.9 154.4L290.1 153.4L288.3 154.4L288.3 156.5L290.1 157.5ZM295.4 168.7L295.4 166.6L293.6 165.6L291.9 166.6L291.9 168.7L293.6 169.7ZM295.4 156.5L295.4 154.4L293.6 153.4L291.9 154.4L291.9 156.5L293.6 157.5ZM302.4 150.4L302.4 148.3L300.6 147.3L298.9 148.3L298.9 150.4L300.6 151.4ZM302.4 89.4L302.4 87.4L300.6 86.4L298.9 87.4L298.9 89.4L300.6 90.5ZM305.9 95.5L305.9 93.5L304.2 92.5L302.4 93.5L302.4 95.5L304.2 96.6ZM309.4 138.2L309.4 136.2L307.7 135.1L305.9 136.2L305.9 138.2L307.7 139.2ZM309.4 95.5L309.4 93.5L307.7 92.5L305.9 93.5L305.9 95.5L307.7 96.6ZM309.4 83.3L309.4 81.3L307.7 80.3L305.9 81.3L305.9 83.3L307.7 84.4ZM316.5 126.0L316.5 124.0L314.7 123.0L313.0 124.0L313.0 126.0L314.7 127.0ZM316.5 119.9L316.5 117.9L314.7 116.9L313.0 117.9L313.0 119.9L314.7 120.9ZM320.0 107.7L320.0 105.7L318.2 104.7L316.5 105.7L316.5 107.7L318.2 108.7ZM320.0 95.5L320.0 93.5L318.2 92.5L316.5 93.5L316.5 95.5L318.2 96.6ZM323.5 95.5L323.5 93.5L321.7 92.5L320.0 93.5L320.0 95.5L321.7 96.6ZM323.5 89.4L323.5 87.4L321.7 86.4L320.0 87.4L320.0 89.4L321.7 90.5ZM330.5 89.4L330.5 87.4L328.8 86.4L327.0 87.4L327.0 89.4L328.8 90.5ZM334.1 83.3L334.1 81.3L332.3 80.3L330.5 81.3L330.5 83.3L332.3 84.4ZM337.6 71.2L337.6 69.1L335.8 68.1L334.1 69.1L334.1 71.2L335.8 72.2ZM341.1 89.4L341.1 87.4L339.3 86.4L337.6 87.4L337.6 89.4L339.3 90.5ZM341.1 77.3L341.1 75.2L339.3 74.2L337.6 75.2L337.6 77.3L339.3 78.3ZM344.6 71.2L344.6 69.1L342.8 68.1L341.1 69.1L341.1 71.2L342.8 72.2ZM348.1 77.3L348.1 75.2L346.4 74.2L344.6 75.2L344.6 77.3L346.4 78.3ZM351.6 95.5L351.6 93.5L349.9 92.5L348.1 93.5L348.1 95.5L349.9 96.6ZM351.6 77.3L351.6 75.2L349.9 74.2L348.1 75.2L348.1 77.3L349.9 78.3ZM355.2 77.3L355.2 75.2L353.4 74.2L351.6 75.2L351.6 77.3L353.4 78.3ZM355.2 71.2L355.2 69.1L353.4 68.1L351.6 69.1L351.6 71.2L353.4 72.2Z"/>
<path fill="#e7f0fa" stroke="#e7f0fa" stroke-width="0.25" d="M240.9 202.2L240.9 200.1L239.1 199.1L237.4 200.1L237.4 202.2L239.1 203.2ZM240.9 196.1L240.9 194.0L239.1 193.0L237.4 194.0L237.4 196.1L239.1 197.1ZM240.9 190.0L240.9 188.0L239.1 186.9L237.4 188.0L237.4 190.0L239.1 191.0ZM240.9 177.8L240.9 175.8L239.1 174.8L237.4 175.8L237.4 177.8L239.1 178.8ZM254.9 147.3L254.9 145.3L253.2 144.3L251.4 145.3L251.4 147.3L253.2 148.3ZM258.5 196.1L258.5 194.0L256.7 193.0L254.9 194.0L254.9 196.1L256.7 197.1ZM272.5 183.9L272.5 181.9L270.8 180.8L269.0 181.9L269.0 183.9L270.8 184.9ZM272.5 123.0L272.5 120.9L270.8 119.9L269.0 120.9L269.0 123.0L270.8 124.0ZM276.0 123.0L276.0 120.9L274.3 119.9L272.5 120.9L272.5 123.0L274.3 124.0ZM283.1 171.7L283.1 169.7L281.3 168.7L279.6 169.7L279.6 171.7L281.3 172.7ZM286.6 165.6L286.6 163.6L284.8 162.6L283.1 163.6L283.1 165.6L284.8 166.6ZM290.1 159.5L290.1 157.5L288.3 156.5L286.6 157.5L286.6 159.5L288.3 160.5ZM300.6 98.6L300.6 96.6L298.9 95.5L297.1 96.6L297.1 98.6L298.9 99.6ZM304.2 147.3L304.2 145.3L302.4 144.3L300.6 145.3L300.6 147.3L302.4 148.3ZM307.7 135.1L307.7 133.1L305.9 132.1L304.2 133.1L304.2 135.1L305.9 136.2ZM321.7 92.5L321.7 90.5L320.0 89.4L318.2 90.5L318.2 92.5L320.0 93.5ZM325.3 104.7L325.3 102.6L323.5 101.6L321.7 102.6L321.7 104.7L323.5 105.7ZM325.3 92.5L325.3 90.5L323.5 89.4L321.7 90.5L321.7 92.5L323.5 93.5ZM332.3 92.5L332.3 90.5L330.5 89.4L328.8 90.5L328.8 92.5L330.5 93.5ZM332.3 86.4L332.3 84.4L330.5 83.3L328.8 84.4L328.8 86.4L330.5 87.4ZM332.3 80.3L332.3 78.3L330.5 77.3L328.8 78.3L328.8 80.3L330.5 81.3ZM335.8 92.5L335.8 90.5L334.1 89.4L332.3 90.5L332.3 92.5L334.1 93.5ZM335.8 86.4L335.8 84.4L334.1 83.3L332.3 84.4L332.3 86.4L334.1 87.4ZM335.8 80.3L335.8 78.3L334.1 77.3L332.3 78.3L332.3 80.3L334.1 81.3ZM339.3 80.3L339.3 78.3L337.6 77.3L335.8 78.3L335.8 80.3L337.6 81.3ZM346.4 80.3L346.4 78.3L344.6 77.3L342.8 78.3L342.8 80.3L344.6 81.3ZM349.9 80.3L349.9 78.3L348.1 77.3L346.4 78.3L346.4 80.3L348.1 81.3ZM349.9 68.1L349.9 66.1L348.1 65.1L346.4 66.1L346.4 68.1L348.1 69.1ZM239.1 205.2L239.1 203.2L237.4 202.2L235.6 203.2L235.6 205.2L237.4 206.2ZM242.6 186.9L242.6 184.9L240.9 183.9L239.1 184.9L239.1 186.9L240.9 188.0ZM242.6 180.8L242.6 178.8L240.9 177.8L239.1 178.8L239.1 180.8L240.9 181.9ZM242.6 168.7L242.6 166.6L240.9 165.6L239.1 166.6L239.1 168.7L240.9 169.7ZM246.1 205.2L246.1 203.2L244.4 202.2L242.6 203.2L242.6 205.2L244.4 206.2ZM246.1 199.1L246.1 197.1L244.4 196.1L242.6 197.1L242.6 199.1L244.4 200.1ZM246.1 186.9L246.1 184.9L244.4 183.9L242.6 184.9L242.6 186.9L244.4 188.0ZM249.7 205.2L249.7 203.2L247.9 202.2L246.1 203.2L246.1 205.2L247.9 206.2ZM249.7 193.0L249.7 191.0L247.9 190.0L246.1 191.0L246.1 193.0L247.9 194.0ZM253.2 205.2L253.2 203.2L251.4 202.2L249.7 203.2L249.7 205.2L251.4 206.2ZM267.2 132.1L267.2 130.1L265.5 129.1L263.7 130.1L263.7 132.1L265.5 133.1ZM270.8 126.0L270.8 124.0L269.0 123.0L267.2 124.0L267.2 126.0L269.0 127.0ZM274.3 126.0L274.3 124.0L272.5 123.0L270.8 124.0L270.8 126.0L272.5 127.0ZM274.3 119.9L274.3 117.9L272.5 116.9L270.8 117.9L270.8 119.9L272.5 120.9ZM281.3 174.8L281.3 172.7L279.6 171.7L277.8 172.7L277.8 174.8L279.6 175.8ZM281.3 113.8L281.3 111.8L279.6 110.8L277.8 111.8L277.8 113.8L279.6 114.8ZM284.8 113.8L284.8 111.8L283.1 110.8L281.3 111.8L281.3 113.8L283.1 114.8ZM288.3 168.7L288.3 166.6L286.6 165.6L284.8 166.6L284.8 168.7L286.6 169.7ZM291.9 95.5L291.9 93.5L290.1 92.5L288.3 93.5L288.3 95.5L290.1 96.6ZM295.4 150.4L295.4 148.3L293.6 147.3L291.9 148.3L291.9 150.4L293.6 151.4ZM298.9 101.6L298.9 99.6L297.1 98.6L295.4 99.6L295.4 101.6L297.1 102.6ZM305.9 144.3L305.9 142.3L304.2 141.2L302.4 142.3L302.4 144.3L304.2 145.3ZM305.9 138.2L305.9 136.2L304.2 135.1L302.4 136.2L302.4 138.2L304.2 139.2ZM309.4 132.1L309.4 130.1L307.7 129.1L305.9 130.1L305.9 132.1L307.7 133.1ZM313.0 126.0L313.0 124.0L311.2 123.0L309.4 124.0L309.4 126.0L311.2 127.0ZM313.0 83.3L313.0 81.3L311.2 80.3L309.4 81.3L309.4 83.3L311.2 84.4ZM323.5 101.6L323.5 99.6L321.7 98.6L320.0 99.6L320.0 101.6L321.7 102.6ZM327.0 107.7L327.0 105.7L325.3 104.7L323.5 105.7L323.5 107.7L325.3 108.7ZM327.0 89.4L327.0 87.4L325.3 86.4L323.5 87.4L323.5 89.4L325.3 90.5ZM327.0 83.3L327.0 81.3L325.3 80.3L323.5 81.3L323.5 83.3L325.3 84.4ZM330.5 101.6L330.5 99.6L328.8 98.6L327.0 99.6L327.0 101.6L328.8 102.6ZM334.1 107.7L334.1 105.7L332.3 104.7L330.5 105.7L330.5 107.7L332.3 108.7ZM337.6 83.3L337.6 81.3L335.8 80.3L334.1 81.3L334.1 83.3L335.8 84.4ZM341.1 83.3L341.1 81.3L339.3 80.3L337.6 81.3L337.6 83.3L339.3 84.4ZM344.6 83.3L344.6 81.3L342.8 80.3L341.1 81.3L341.1 83.3L342.8 84.4Z"/>
<path fill="#d6e6f4" stroke="#d6e6f4" stroke-width="0.25" d="M244.4 196.1L244.4 194.0L242.6 193.0L240.9 194.0L240.9 196.1L242.6 197.1ZM244.4 171.7L244.4 169.7L242.6 168.7L240.9 169.7L240.9 171.7L242.6 172.7ZM247.9 196.1L247.9 194.0L246.1 193.0L244.4 194.0L244.4 196.1L246.1 197.1ZM247.9 165.6L247.9 163.6L246.1 162.6L244.4 163.6L244.4 165.6L246.1 166.6ZM251.4 190.0L251.4 188.0L249.7 186.9L247.9 188.0L247.9 190.0L249.7 191.0ZM258.5 190.0L258.5 188.0L256.7 186.9L254.9 188.0L254.9 190.0L256.7 191.0ZM265.5 190.0L265.5 188.0L263.7 186.9L262.0 188.0L262.0 190.0L263.7 191.0ZM265.5 129.1L265.5 127.0L263.7 126.0L262.0 127.0L262.0 129.1L263.7 130.1ZM276.0 177.8L276.0 175.8L274.3 174.8L272.5 175.8L272.5 177.8L274.3 178.8ZM286.6 116.9L286.6 114.8L284.8 113.8L283.1 114.8L283.1 116.9L284.8 117.9ZM290.1 110.8L290.1 108.7L288.3 107.7L286.6 108.7L286.6 110.8L288.3 111.8ZM304.2 141.2L304.2 139.2L302.4 138.2L300.6 139.2L300.6 141.2L302.4 142.3ZM304.2 135.1L304.2 133.1L302.4 132.1L300.6 133.1L300.6 135.1L302.4 136.2ZM304.2 98.6L304.2 96.6L302.4 95.5L300.6 96.6L300.6 98.6L302.4 99.6ZM307.7 98.6L307.7 96.6L305.9 95.5L304.2 96.6L304.2 98.6L305.9 99.6ZM314.7 98.6L314.7 96.6L313.0 95.5L311.2 96.6L311.2 98.6L313.0 99.6ZM321.7 98.6L321.7 96.6L320.0 95.5L318.2 96.6L318.2 98.6L320.0 99.6ZM328.8 98.6L328.8 96.6L327.0 95.5L325.3 96.6L325.3 98.6L327.0 99.6ZM328.8 92.5L328.8 90.5L327.0 89.4L325.3 90.5L325.3 92.5L327.0 93.5ZM346.4 86.4L346.4 84.4L344.6 83.3L342.8 84.4L342.8 86.4L344.6 87.4ZM242.6 193.0L242.6 191.0L240.9 190.0L239.1 191.0L239.1 193.0L240.9 194.0ZM249.7 162.6L249.7 160.5L247.9 159.5L246.1 160.5L246.1 162.6L247.9 163.6ZM253.2 150.4L253.2 148.3L251.4 147.3L249.7 148.3L249.7 150.4L251.4 151.4ZM260.2 144.3L260.2 142.3L258.5 141.2L256.7 142.3L256.7 144.3L258.5 145.3ZM267.2 186.9L267.2 184.9L265.5 183.9L263.7 184.9L263.7 186.9L265.5 188.0ZM274.3 180.8L274.3 178.8L272.5 177.8L270.8 178.8L270.8 180.8L272.5 181.9ZM277.8 119.9L277.8 117.9L276.0 116.9L274.3 117.9L274.3 119.9L276.0 120.9ZM281.3 119.9L281.3 117.9L279.6 116.9L277.8 117.9L277.8 119.9L279.6 120.9ZM291.9 113.8L291.9 111.8L290.1 110.8L288.3 111.8L288.3 113.8L290.1 114.8ZM291.9 101.6L291.9 99.6L290.1 98.6L288.3 99.6L288.3 101.6L290.1 102.6ZM295.4 107.7L295.4 105.7L293.6 104.7L291.9 105.7L291.9 107.7L293.6 108.7ZM305.9 101.6L305.9 99.6L304.2 98.6L302.4 99.6L302.4 101.6L304.2 102.6ZM316.5 113.8L316.5 111.8L314.7 110.8L313.0 111.8L313.0 113.8L314.7 114.8ZM316.5 101.6L316.5 99.6L314.7 98.6L313.0 99.6L313.0 101.6L314.7 102.6ZM323.5 107.7L323.5 105.7L321.7 104.7L320.0 105.7L320.0 107.7L321.7 108.7ZM330.5 95.5L330.5 93.5L328.8 92.5L327.0 93.5L327.0 95.5L328.8 96.6ZM337.6 89.4L337.6 87.4L335.8 86.4L334.1 87.4L334.1 89.4L335.8 90.5ZM337.6 77.3L337.6 75.2L335.8 74.2L334.1 75.2L334.1 77.3L335.8 78.3ZM344.6 77.3L344.6 75.2L342.8 74.2L341.1 75.2L341.1 77.3L342.8 78.3Z"/>
<path fill="#cee0f2" stroke="#cee0f2" stroke-width="0.25" d="M244.4 177.8L244.4 175.8L242.6 174.8L240.9 175.8L240.9 177.8L242.6 178.8ZM254.9 196.1L254.9 194.0L253.2 193.0L251.4 194.0L251.4 196.1L253.2 197.1ZM262.0 190.0L262.0 188.0L260.2 186.9L258.5 188.0L258.5 190.0L260.2 191.0ZM279.6 171.7L279.6 169.7L277.8 168.7L276.0 169.7L276.0 171.7L277.8 172.7ZM297.1 147.3L297.1 145.3L295.4 144.3L293.6 145.3L293.6 147.3L295.4 148.3ZM297.1 110.8L297.1 108.7L295.4 107.7L293.6 108.7L293.6 110.8L295.4 111.8ZM300.6 104.7L300.6 102.6L298.9 101.6L297.1 102.6L297.1 104.7L298.9 105.7ZM311.2 123.0L311.2 120.9L309.4 119.9L307.7 120.9L307.7 123.0L309.4 124.0ZM318.2 116.9L318.2 114.8L316.5 113.8L314.7 114.8L314.7 116.9L316.5 117.9ZM318.2 110.8L318.2 108.7L316.5 107.7L314.7 108.7L314.7 110.8L316.5 111.8ZM318.2 98.6L318.2 96.6L316.5 95.5L314.7 96.6L314.7 98.6L316.5 99.6ZM349.9 74.2L349.9 72.2L348.1 71.2L346.4 72.2L346.4 74.2L348.1 75.2ZM253.2 156.5L253.2 154.4L251.4 153.4L249.7 154.4L249.7 156.5L251.4 157.5ZM256.7 193.0L256.7 191.0L254.9 190.0L253.2 191.0L253.2 193.0L254.9 194.0ZM263.7 138.2L263.7 136.2L262.0 135.1L260.2 136.2L260.2 138.2L262.0 139.2ZM291.9 107.7L291.9 105.7L290.1 104.7L288.3 105.7L288.3 107.7L290.1 108.7ZM302.4 101.6L302.4 99.6L300.6 98.6L298.9 99.6L298.9 101.6L300.6 102.6ZM313.0 132.1L313.0 130.1L311.2 129.1L309.4 130.1L309.4 132.1L311.2 133.1ZM320.0 101.6L320.0 99.6L318.2 98.6L316.5 99.6L316.5 101.6L318.2 102.6ZM351.6 71.2L351.6 69.1L349.9 68.1L348.1 69.1L348.1 71.2L349.9 72.2Z"/>
<path fill="#c6dbef" stroke="#c6dbef" stroke-width="0.25" d="M247.9 190.0L247.9 188.0L246.1 186.9L244.4 188.0L244.4 190.0L246.1 191.0ZM247.9 171.7L247.9 169.7L246.1 168.7L244.4 169.7L244.4 171.7L246.1 172.7ZM251.4 196.1L251.4 194.0L249.7 193.0L247.9 194.0L247.9 196.1L249.7 197.1ZM254.9 153.4L254.9 151.4L253.2 150.4L251.4 151.4L251.4 153.4L253.2 154.4ZM258.5 147.3L258.5 145.3L256.7 144.3L254.9 145.3L254.9 147.3L256.7 148.3ZM262.0 183.9L262.0 181.9L260.2 180.8L258.5 181.9L258.5 183.9L260.2 184.9ZM262.0 141.2L262.0 139.2L260.2 138.2L258.5 139.2L258.5 141.2L260.2 142.3ZM269.0 183.9L269.0 181.9L267.2 180.8L265.5 181.9L265.5 183.9L267.2 184.9ZM276.0 171.7L276.0 169.7L274.3 168.7L272.5 169.7L272.5 171.7L274.3 172.7ZM283.1 165.6L283.1 163.6L281.3 162.6L279.6 163.6L279.6 165.6L281.3 166.6ZM283.1 116.9L283.1 114.8L281.3 113.8L279.6 114.8L279.6 116.9L281.3 117.9ZM286.6 159.5L286.6 157.5L284.8 156.5L283.1 157.5L283.1 159.5L284.8 160.5ZM293.6 153.4L293.6 151.4L291.9 150.4L290.1 151.4L290.1 153.4L291.9 154.4ZM300.6 141.2L300.6 139.2L298.9 138.2L297.1 139.2L297.1 141.2L298.9 142.3ZM304.2 104.7L304.2 102.6L302.4 101.6L300.6 102.6L300.6 104.7L302.4 105.7ZM311.2 129.1L311.2 127.0L309.4 126.0L307.7 127.0L307.7 129.1L309.4 130.1ZM311.2 98.6L311.2 96.6L309.4 95.5L307.7 96.6L307.7 98.6L309.4 99.6ZM314.7 116.9L314.7 114.8L313.0 113.8L311.2 114.8L311.2 116.9L313.0 117.9ZM342.8 80.3L342.8 78.3L341.1 77.3L339.3 78.3L339.3 80.3L341.1 81.3ZM246.1 180.8L246.1 178.8L244.4 177.8L242.6 178.8L242.6 180.8L244.4 181.9ZM256.7 150.4L256.7 148.3L254.9 147.3L253.2 148.3L253.2 150.4L254.9 151.4ZM260.2 186.9L260.2 184.9L258.5 183.9L256.7 184.9L256.7 186.9L258.5 188.0ZM263.7 186.9L263.7 184.9L262.0 183.9L260.2 184.9L260.2 186.9L262.0 188.0ZM267.2 180.8L267.2 178.8L265.5 177.8L263.7 178.8L263.7 180.8L265.5 181.9ZM267.2 138.2L267.2 136.2L265.5 135.1L263.7 136.2L263.7 138.2L265.5 139.2ZM270.8 180.8L270.8 178.8L269.0 177.8L267.2 178.8L267.2 180.8L269.0 181.9ZM270.8 132.1L270.8 130.1L269.0 129.1L267.2 130.1L267.2 132.1L269.0 133.1ZM277.8 168.7L277.8 166.6L276.0 165.6L274.3 166.6L274.3 168.7L276.0 169.7ZM277.8 126.0L277.8 124.0L276.0 123.0L274.3 124.0L274.3 126.0L276.0 127.0ZM284.8 162.6L284.8 160.5L283.1 159.5L281.3 160.5L281.3 162.6L283.1 163.6ZM288.3 162.6L288.3 160.5L286.6 159.5L284.8 160.5L284.8 162.6L286.6 163.6ZM288.3 113.8L288.3 111.8L286.6 110.8L284.8 111.8L284.8 113.8L286.6 114.8ZM298.9 107.7L298.9 105.7L297.1 104.7L295.4 105.7L295.4 107.7L297.1 108.7ZM302.4 138.2L302.4 136.2L300.6 135.1L298.9 136.2L298.9 138.2L300.6 139.2ZM309.4 126.0L309.4 124.0L307.7 123.0L305.9 124.0L305.9 126.0L307.7 127.0ZM309.4 101.6L309.4 99.6L307.7 98.6L305.9 99.6L305.9 101.6L307.7 102.6ZM313.0 119.9L313.0 117.9L311.2 116.9L309.4 117.9L309.4 119.9L311.2 120.9ZM327.0 101.6L327.0 99.6L325.3 98.6L323.5 99.6L323.5 101.6L325.3 102.6ZM327.0 95.5L327.0 93.5L325.3 92.5L323.5 93.5L323.5 95.5L325.3 96.6ZM334.1 89.4L334.1 87.4L332.3 86.4L330.5 87.4L330.5 89.4L332.3 90.5ZM348.1 71.2L348.1 69.1L346.4 68.1L344.6 69.1L344.6 71.2L346.4 72.2Z"/>
<path fill="#b9d6ea" stroke="#b9d6ea" stroke-width="0.25" d="M251.4 183.9L251.4 181.9L249.7 180.8L247.9 181.9L247.9 183.9L249.7 184.9ZM251.4 165.6L251.4 163.6L249.7 162.6L247.9 163.6L247.9 165.6L249.7 166.6ZM254.9 190.0L254.9 188.0L253.2 186.9L251.4 188.0L251.4 190.0L253.2 191.0ZM265.5 183.9L265.5 181.9L263.7 180.8L262.0 181.9L262.0 183.9L263.7 184.9ZM269.0 177.8L269.0 175.8L267.2 174.8L265.5 175.8L265.5 177.8L267.2 178.8ZM272.5 177.8L272.5 175.8L270.8 174.8L269.0 175.8L269.0 177.8L270.8 178.8ZM272.5 129.1L272.5 127.0L270.8 126.0L269.0 127.0L269.0 129.1L270.8 130.1ZM276.0 129.1L276.0 127.0L274.3 126.0L272.5 127.0L272.5 129.1L274.3 130.1ZM279.6 123.0L279.6 120.9L277.8 119.9L276.0 120.9L276.0 123.0L277.8 124.0ZM307.7 104.7L307.7 102.6L305.9 101.6L304.2 102.6L304.2 104.7L305.9 105.7ZM318.2 104.7L318.2 102.6L316.5 101.6L314.7 102.6L314.7 104.7L316.5 105.7ZM321.7 104.7L321.7 102.6L320.0 101.6L318.2 102.6L318.2 104.7L320.0 105.7ZM325.3 98.6L325.3 96.6L323.5 95.5L321.7 96.6L321.7 98.6L323.5 99.6ZM246.1 174.8L246.1 172.7L244.4 171.7L242.6 172.7L242.6 174.8L244.4 175.8ZM249.7 180.8L249.7 178.8L247.9 177.8L246.1 178.8L246.1 180.8L247.9 181.9ZM253.2 186.9L253.2 184.9L251.4 183.9L249.7 184.9L249.7 186.9L251.4 188.0ZM270.8 174.8L270.8 172.7L269.0 171.7L267.2 172.7L267.2 174.8L269.0 175.8ZM288.3 156.5L288.3 154.4L286.6 153.4L284.8 154.4L284.8 156.5L286.6 157.5ZM298.9 144.3L298.9 142.3L297.1 141.2L295.4 142.3L295.4 144.3L297.1 145.3ZM313.0 101.6L313.0 99.6L311.2 98.6L309.4 99.6L309.4 101.6L311.2 102.6Z"/>
<path fill="#abd0e6" stroke="#abd0e6" stroke-width="0.25" d="M247.9 183.9L247.9 181.9L246.1 180.8L244.4 181.9L244.4 183.9L246.1 184.9ZM258.5 183.9L258.5 181.9L256.7 180.8L254.9 181.9L254.9 183.9L256.7 184.9ZM265.5 177.8L265.5 175.8L263.7 174.8L262.0 175.8L262.0 177.8L263.7 178.8ZM269.0 135.1L269.0 133.1L267.2 132.1L265.5 133.1L265.5 135.1L267.2 136.2ZM279.6 165.6L279.6 163.6L277.8 162.6L276.0 163.6L276.0 165.6L277.8 166.6ZM290.1 153.4L290.1 151.4L288.3 150.4L286.6 151.4L286.6 153.4L288.3 154.4ZM290.1 116.9L290.1 114.8L288.3 113.8L286.6 114.8L286.6 116.9L288.3 117.9ZM293.6 147.3L293.6 145.3L291.9 144.3L290.1 145.3L290.1 147.3L291.9 148.3ZM307.7 129.1L307.7 127.0L305.9 126.0L304.2 127.0L304.2 129.1L305.9 130.1ZM311.2 104.7L311.2 102.6L309.4 101.6L307.7 102.6L307.7 104.7L309.4 105.7ZM314.7 104.7L314.7 102.6L313.0 101.6L311.2 102.6L311.2 104.7L313.0 105.7ZM339.3 86.4L339.3 84.4L337.6 83.3L335.8 84.4L335.8 86.4L337.6 87.4ZM249.7 186.9L249.7 184.9L247.9 183.9L246.1 184.9L246.1 186.9L247.9 188.0ZM249.7 168.7L249.7 166.6L247.9 165.6L246.1 166.6L246.1 168.7L247.9 169.7ZM253.2 162.6L253.2 160.5L251.4 159.5L249.7 160.5L249.7 162.6L251.4 163.6ZM256.7 186.9L256.7 184.9L254.9 183.9L253.2 184.9L253.2 186.9L254.9 188.0ZM260.2 150.4L260.2 148.3L258.5 147.3L256.7 148.3L256.7 150.4L258.5 151.4ZM263.7 180.8L263.7 178.8L262.0 177.8L260.2 178.8L260.2 180.8L262.0 181.9ZM263.7 144.3L263.7 142.3L262.0 141.2L260.2 142.3L260.2 144.3L262.0 145.3ZM274.3 174.8L274.3 172.7L272.5 171.7L270.8 172.7L270.8 174.8L272.5 175.8ZM274.3 132.1L274.3 130.1L272.5 129.1L270.8 130.1L270.8 132.1L272.5 133.1ZM284.8 119.9L284.8 117.9L283.1 116.9L281.3 117.9L281.3 119.9L283.1 120.9ZM302.4 107.7L302.4 105.7L300.6 104.7L298.9 105.7L298.9 107.7L300.6 108.7ZM305.9 132.1L305.9 130.1L304.2 129.1L302.4 130.1L302.4 132.1L304.2 133.1ZM305.9 107.7L305.9 105.7L304.2 104.7L302.4 105.7L302.4 107.7L304.2 108.7ZM309.4 107.7L309.4 105.7L307.7 104.7L305.9 105.7L305.9 107.7L307.7 108.7Z"/>
<path fill="#9dcae1" stroke="#9dcae1" stroke-width="0.25" d="M247.9 177.8L247.9 175.8L246.1 174.8L244.4 175.8L244.4 177.8L246.1 178.8ZM254.9 183.9L254.9 181.9L253.2 180.8L251.4 181.9L251.4 183.9L253.2 184.9ZM254.9 159.5L254.9 157.5L253.2 156.5L251.4 157.5L251.4 159.5L253.2 160.5ZM283.1 123.0L283.1 120.9L281.3 119.9L279.6 120.9L279.6 123.0L281.3 124.0ZM293.6 116.9L293.6 114.8L291.9 113.8L290.1 114.8L290.1 116.9L291.9 117.9ZM297.1 141.2L297.1 139.2L295.4 138.2L293.6 139.2L293.6 141.2L295.4 142.3ZM300.6 110.8L300.6 108.7L298.9 107.7L297.1 108.7L297.1 110.8L298.9 111.8ZM253.2 180.8L253.2 178.8L251.4 177.8L249.7 178.8L249.7 180.8L251.4 181.9ZM267.2 174.8L267.2 172.7L265.5 171.7L263.7 172.7L263.7 174.8L265.5 175.8ZM295.4 144.3L295.4 142.3L293.6 141.2L291.9 142.3L291.9 144.3L293.6 145.3ZM295.4 113.8L295.4 111.8L293.6 110.8L291.9 111.8L291.9 113.8L293.6 114.8ZM298.9 138.2L298.9 136.2L297.1 135.1L295.4 136.2L295.4 138.2L297.1 139.2ZM313.0 107.7L313.0 105.7L311.2 104.7L309.4 105.7L309.4 107.7L311.2 108.7ZM316.5 107.7L316.5 105.7L314.7 104.7L313.0 105.7L313.0 107.7L314.7 108.7Z"/>
<path fill="#8dc1dd" stroke="#8dc1dd" stroke-width="0.25" d="M251.4 177.8L251.4 175.8L249.7 174.8L247.9 175.8L247.9 177.8L249.7 178.8ZM258.5 153.4L258.5 151.4L256.7 150.4L254.9 151.4L254.9 153.4L256.7 154.4ZM262.0 147.3L262.0 145.3L260.2 144.3L258.5 145.3L258.5 147.3L260.2 148.3ZM265.5 141.2L265.5 139.2L263.7 138.2L262.0 139.2L262.0 141.2L263.7 142.3ZM272.5 171.7L272.5 169.7L270.8 168.7L269.0 169.7L269.0 171.7L270.8 172.7ZM279.6 129.1L279.6 127.0L277.8 126.0L276.0 127.0L276.0 129.1L277.8 130.1ZM283.1 159.5L283.1 157.5L281.3 156.5L279.6 157.5L279.6 159.5L281.3 160.5ZM297.1 116.9L297.1 114.8L295.4 113.8L293.6 114.8L293.6 116.9L295.4 117.9ZM300.6 135.1L300.6 133.1L298.9 132.1L297.1 133.1L297.1 135.1L298.9 136.2ZM304.2 110.8L304.2 108.7L302.4 107.7L300.6 108.7L300.6 110.8L302.4 111.8ZM314.7 110.8L314.7 108.7L313.0 107.7L311.2 108.7L311.2 110.8L313.0 111.8ZM249.7 174.8L249.7 172.7L247.9 171.7L246.1 172.7L246.1 174.8L247.9 175.8ZM256.7 180.8L256.7 178.8L254.9 177.8L253.2 178.8L253.2 180.8L254.9 181.9ZM260.2 180.8L260.2 178.8L258.5 177.8L256.7 178.8L256.7 180.8L258.5 181.9ZM281.3 162.6L281.3 160.5L279.6 159.5L277.8 160.5L277.8 162.6L279.6 163.6ZM281.3 126.0L281.3 124.0L279.6 123.0L277.8 124.0L277.8 126.0L279.6 127.0ZM291.9 150.4L291.9 148.3L290.1 147.3L288.3 148.3L288.3 150.4L290.1 151.4ZM302.4 132.1L302.4 130.1L300.6 129.1L298.9 130.1L298.9 132.1L300.6 133.1Z"/>
<path fill="#7cb7da" stroke="#7cb7da" stroke-width="0.25" d="M251.4 171.7L251.4 169.7L249.7 168.7L247.9 169.7L247.9 171.7L249.7 172.7ZM262.0 177.8L262.0 175.8L260.2 174.8L258.5 175.8L258.5 177.8L260.2 178.8ZM269.0 141.2L269.0 139.2L267.2 138.2L265.5 139.2L265.5 141.2L267.2 142.3ZM272.5 135.1L272.5 133.1L270.8 132.1L269.0 133.1L269.0 135.1L270.8 136.2ZM276.0 165.6L276.0 163.6L274.3 162.6L272.5 163.6L272.5 165.6L274.3 166.6ZM286.6 123.0L286.6 120.9L284.8 119.9L283.1 120.9L283.1 123.0L284.8 124.0ZM290.1 123.0L290.1 120.9L288.3 119.9L286.6 120.9L286.6 123.0L288.3 124.0ZM304.2 129.1L304.2 127.0L302.4 126.0L300.6 127.0L300.6 129.1L302.4 130.1ZM307.7 123.0L307.7 120.9L305.9 119.9L304.2 120.9L304.2 123.0L305.9 124.0ZM307.7 110.8L307.7 108.7L305.9 107.7L304.2 108.7L304.2 110.8L305.9 111.8ZM311.2 116.9L311.2 114.8L309.4 113.8L307.7 114.8L307.7 116.9L309.4 117.9ZM253.2 174.8L253.2 172.7L251.4 171.7L249.7 172.7L249.7 174.8L251.4 175.8ZM256.7 156.5L256.7 154.4L254.9 153.4L253.2 154.4L253.2 156.5L254.9 157.5ZM284.8 156.5L284.8 154.4L283.1 153.4L281.3 154.4L281.3 156.5L283.1 157.5ZM288.3 119.9L288.3 117.9L286.6 116.9L284.8 117.9L284.8 119.9L286.6 120.9ZM291.9 119.9L291.9 117.9L290.1 116.9L288.3 117.9L288.3 119.9L290.1 120.9ZM298.9 113.8L298.9 111.8L297.1 110.8L295.4 111.8L295.4 113.8L297.1 114.8ZM313.0 113.8L313.0 111.8L311.2 110.8L309.4 111.8L309.4 113.8L311.2 114.8Z"/>
<path fill="#6aaed6" stroke="#6aaed6" stroke-width="0.25" d="M254.9 177.8L254.9 175.8L253.2 174.8L251.4 175.8L251.4 177.8L253.2 178.8ZM254.9 165.6L254.9 163.6L253.2 162.6L251.4 163.6L251.4 165.6L253.2 166.6ZM258.5 177.8L258.5 175.8L256.7 174.8L254.9 175.8L254.9 177.8L256.7 178.8ZM283.1 129.1L283.1 127.0L281.3 126.0L279.6 127.0L279.6 129.1L281.3 130.1ZM286.6 153.4L286.6 151.4L284.8 150.4L283.1 151.4L283.1 153.4L284.8 154.4ZM290.1 147.3L290.1 145.3L288.3 144.3L286.6 145.3L286.6 147.3L288.3 148.3ZM293.6 141.2L293.6 139.2L291.9 138.2L290.1 139.2L290.1 141.2L291.9 142.3ZM311.2 110.8L311.2 108.7L309.4 107.7L307.7 108.7L307.7 110.8L309.4 111.8ZM263.7 174.8L263.7 172.7L262.0 171.7L260.2 172.7L260.2 174.8L262.0 175.8ZM267.2 144.3L267.2 142.3L265.5 141.2L263.7 142.3L263.7 144.3L265.5 145.3ZM274.3 168.7L274.3 166.6L272.5 165.6L270.8 166.6L270.8 168.7L272.5 169.7ZM277.8 132.1L277.8 130.1L276.0 129.1L274.3 130.1L274.3 132.1L276.0 133.1ZM288.3 150.4L288.3 148.3L286.6 147.3L284.8 148.3L284.8 150.4L286.6 151.4ZM291.9 144.3L291.9 142.3L290.1 141.2L288.3 142.3L288.3 144.3L290.1 145.3ZM302.4 113.8L302.4 111.8L300.6 110.8L298.9 111.8L298.9 113.8L300.6 114.8ZM305.9 126.0L305.9 124.0L304.2 123.0L302.4 124.0L302.4 126.0L304.2 127.0ZM309.4 119.9L309.4 117.9L307.7 116.9L305.9 117.9L305.9 119.9L307.7 120.9Z"/>
<path fill="#5da5d1" stroke="#5da5d1" stroke-width="0.25" d="M258.5 159.5L258.5 157.5L256.7 156.5L254.9 157.5L254.9 159.5L256.7 160.5ZM265.5 147.3L265.5 145.3L263.7 144.3L262.0 145.3L262.0 147.3L263.7 148.3ZM269.0 171.7L269.0 169.7L267.2 168.7L265.5 169.7L265.5 171.7L267.2 172.7ZM272.5 165.6L272.5 163.6L270.8 162.6L269.0 163.6L269.0 165.6L270.8 166.6ZM279.6 159.5L279.6 157.5L277.8 156.5L276.0 157.5L276.0 159.5L277.8 160.5ZM293.6 123.0L293.6 120.9L291.9 119.9L290.1 120.9L290.1 123.0L291.9 124.0ZM297.1 135.1L297.1 133.1L295.4 132.1L293.6 133.1L293.6 135.1L295.4 136.2ZM300.6 116.9L300.6 114.8L298.9 113.8L297.1 114.8L297.1 116.9L298.9 117.9ZM253.2 168.7L253.2 166.6L251.4 165.6L249.7 166.6L249.7 168.7L251.4 169.7ZM256.7 174.8L256.7 172.7L254.9 171.7L253.2 172.7L253.2 174.8L254.9 175.8ZM256.7 162.6L256.7 160.5L254.9 159.5L253.2 160.5L253.2 162.6L254.9 163.6ZM260.2 174.8L260.2 172.7L258.5 171.7L256.7 172.7L256.7 174.8L258.5 175.8ZM270.8 168.7L270.8 166.6L269.0 165.6L267.2 166.6L267.2 168.7L269.0 169.7ZM270.8 138.2L270.8 136.2L269.0 135.1L267.2 136.2L267.2 138.2L269.0 139.2ZM284.8 126.0L284.8 124.0L283.1 123.0L281.3 124.0L281.3 126.0L283.1 127.0ZM295.4 138.2L295.4 136.2L293.6 135.1L291.9 136.2L291.9 138.2L293.6 139.2ZM295.4 119.9L295.4 117.9L293.6 116.9L291.9 117.9L291.9 119.9L293.6 120.9ZM298.9 132.1L298.9 130.1L297.1 129.1L295.4 130.1L295.4 132.1L297.1 133.1ZM305.9 113.8L305.9 111.8L304.2 110.8L302.4 111.8L302.4 113.8L304.2 114.8ZM309.4 113.8L309.4 111.8L307.7 110.8L305.9 111.8L305.9 113.8L307.7 114.8Z"/>
<path fill="#4f9bcb" stroke="#4f9bcb" stroke-width="0.25" d="M254.9 171.7L254.9 169.7L253.2 168.7L251.4 169.7L251.4 171.7L253.2 172.7ZM262.0 171.7L262.0 169.7L260.2 168.7L258.5 169.7L258.5 171.7L260.2 172.7ZM265.5 171.7L265.5 169.7L263.7 168.7L262.0 169.7L262.0 171.7L263.7 172.7ZM276.0 135.1L276.0 133.1L274.3 132.1L272.5 133.1L272.5 135.1L274.3 136.2ZM283.1 153.4L283.1 151.4L281.3 150.4L279.6 151.4L279.6 153.4L281.3 154.4ZM260.2 156.5L260.2 154.4L258.5 153.4L256.7 154.4L256.7 156.5L258.5 157.5ZM263.7 150.4L263.7 148.3L262.0 147.3L260.2 148.3L260.2 150.4L262.0 151.4ZM274.3 162.6L274.3 160.5L272.5 159.5L270.8 160.5L270.8 162.6L272.5 163.6ZM274.3 138.2L274.3 136.2L272.5 135.1L270.8 136.2L270.8 138.2L272.5 139.2ZM277.8 162.6L277.8 160.5L276.0 159.5L274.3 160.5L274.3 162.6L276.0 163.6ZM281.3 156.5L281.3 154.4L279.6 153.4L277.8 154.4L277.8 156.5L279.6 157.5ZM288.3 126.0L288.3 124.0L286.6 123.0L284.8 124.0L284.8 126.0L286.6 127.0ZM298.9 119.9L298.9 117.9L297.1 116.9L295.4 117.9L295.4 119.9L297.1 120.9Z"/>
<path fill="#4191c6" stroke="#4191c6" stroke-width="0.25" d="M258.5 171.7L258.5 169.7L256.7 168.7L254.9 169.7L254.9 171.7L256.7 172.7ZM262.0 153.4L262.0 151.4L260.2 150.4L258.5 151.4L258.5 153.4L260.2 154.4ZM272.5 141.2L272.5 139.2L270.8 138.2L269.0 139.2L269.0 141.2L270.8 142.3ZM279.6 135.1L279.6 133.1L277.8 132.1L276.0 133.1L276.0 135.1L277.8 136.2ZM286.6 129.1L286.6 127.0L284.8 126.0L283.1 127.0L283.1 129.1L284.8 130.1ZM290.1 141.2L290.1 139.2L288.3 138.2L286.6 139.2L286.6 141.2L288.3 142.3ZM297.1 123.0L297.1 120.9L295.4 119.9L293.6 120.9L293.6 123.0L295.4 124.0ZM300.6 129.1L300.6 127.0L298.9 126.0L297.1 127.0L297.1 129.1L298.9 130.1ZM304.2 116.9L304.2 114.8L302.4 113.8L300.6 114.8L300.6 116.9L302.4 117.9ZM307.7 116.9L307.7 114.8L305.9 113.8L304.2 114.8L304.2 116.9L305.9 117.9ZM263.7 168.7L263.7 166.6L262.0 165.6L260.2 166.6L260.2 168.7L262.0 169.7ZM267.2 168.7L267.2 166.6L265.5 165.6L263.7 166.6L263.7 168.7L265.5 169.7ZM281.3 132.1L281.3 130.1L279.6 129.1L277.8 130.1L277.8 132.1L279.6 133.1ZM284.8 150.4L284.8 148.3L283.1 147.3L281.3 148.3L281.3 150.4L283.1 151.4ZM291.9 138.2L291.9 136.2L290.1 135.1L288.3 136.2L288.3 138.2L290.1 139.2ZM291.9 126.0L291.9 124.0L290.1 123.0L288.3 124.0L288.3 126.0L290.1 127.0Z"/>
<path fill="#3787c0" stroke="#3787c0" stroke-width="0.25" d="M269.0 165.6L269.0 163.6L267.2 162.6L265.5 163.6L265.5 165.6L267.2 166.6ZM269.0 147.3L269.0 145.3L267.2 144.3L265.5 145.3L265.5 147.3L267.2 148.3ZM276.0 159.5L276.0 157.5L274.3 156.5L272.5 157.5L272.5 159.5L274.3 160.5ZM286.6 147.3L286.6 145.3L284.8 144.3L283.1 145.3L283.1 147.3L284.8 148.3ZM304.2 123.0L304.2 120.9L302.4 119.9L300.6 120.9L300.6 123.0L302.4 124.0ZM256.7 168.7L256.7 166.6L254.9 165.6L253.2 166.6L253.2 168.7L254.9 169.7ZM267.2 150.4L267.2 148.3L265.5 147.3L263.7 148.3L263.7 150.4L265.5 151.4ZM270.8 144.3L270.8 142.3L269.0 141.2L267.2 142.3L267.2 144.3L269.0 145.3ZM277.8 156.5L277.8 154.4L276.0 153.4L274.3 154.4L274.3 156.5L276.0 157.5ZM277.8 138.2L277.8 136.2L276.0 135.1L274.3 136.2L274.3 138.2L276.0 139.2ZM284.8 132.1L284.8 130.1L283.1 129.1L281.3 130.1L281.3 132.1L283.1 133.1ZM288.3 144.3L288.3 142.3L286.6 141.2L284.8 142.3L284.8 144.3L286.6 145.3ZM295.4 126.0L295.4 124.0L293.6 123.0L291.9 124.0L291.9 126.0L293.6 127.0ZM302.4 126.0L302.4 124.0L300.6 123.0L298.9 124.0L298.9 126.0L300.6 127.0ZM302.4 119.9L302.4 117.9L300.6 116.9L298.9 117.9L298.9 119.9L300.6 120.9ZM305.9 119.9L305.9 117.9L304.2 116.9L302.4 117.9L302.4 119.9L304.2 120.9Z"/>
<path fill="#2c7cba" stroke="#2c7cba" stroke-width="0.25" d="M265.5 165.6L265.5 163.6L263.7 162.6L262.0 163.6L262.0 165.6L263.7 166.6ZM265.5 153.4L265.5 151.4L263.7 150.4L262.0 151.4L262.0 153.4L263.7 154.4ZM272.5 159.5L272.5 157.5L270.8 156.5L269.0 157.5L269.0 159.5L270.8 160.5ZM279.6 153.4L279.6 151.4L277.8 150.4L276.0 151.4L276.0 153.4L277.8 154.4ZM283.1 135.1L283.1 133.1L281.3 132.1L279.6 133.1L279.6 135.1L281.3 136.2ZM290.1 129.1L290.1 127.0L288.3 126.0L286.6 127.0L286.6 129.1L288.3 130.1ZM293.6 135.1L293.6 133.1L291.9 132.1L290.1 133.1L290.1 135.1L291.9 136.2ZM300.6 123.0L300.6 120.9L298.9 119.9L297.1 120.9L297.1 123.0L298.9 124.0ZM260.2 168.7L260.2 166.6L258.5 165.6L256.7 166.6L256.7 168.7L258.5 169.7ZM270.8 162.6L270.8 160.5L269.0 159.5L267.2 160.5L267.2 162.6L269.0 163.6ZM281.3 150.4L281.3 148.3L279.6 147.3L277.8 148.3L277.8 150.4L279.6 151.4Z"/>
<path fill="#2070b4" stroke="#2070b4" stroke-width="0.25" d="M258.5 165.6L258.5 163.6L256.7 162.6L254.9 163.6L254.9 165.6L256.7 166.6ZM262.0 159.5L262.0 157.5L260.2 156.5L258.5 157.5L258.5 159.5L260.2 160.5ZM276.0 141.2L276.0 139.2L274.3 138.2L272.5 139.2L272.5 141.2L274.3 142.3ZM283.1 147.3L283.1 145.3L281.3 144.3L279.6 145.3L279.6 147.3L281.3 148.3ZM293.6 129.1L293.6 127.0L291.9 126.0L290.1 127.0L290.1 129.1L291.9 130.1ZM297.1 129.1L297.1 127.0L295.4 126.0L293.6 127.0L293.6 129.1L295.4 130.1ZM260.2 162.6L260.2 160.5L258.5 159.5L256.7 160.5L256.7 162.6L258.5 163.6ZM263.7 156.5L263.7 154.4L262.0 153.4L260.2 154.4L260.2 156.5L262.0 157.5ZM267.2 162.6L267.2 160.5L265.5 159.5L263.7 160.5L263.7 162.6L265.5 163.6ZM274.3 144.3L274.3 142.3L272.5 141.2L270.8 142.3L270.8 144.3L272.5 145.3ZM288.3 132.1L288.3 130.1L286.6 129.1L284.8 130.1L284.8 132.1L286.6 133.1ZM295.4 132.1L295.4 130.1L293.6 129.1L291.9 130.1L291.9 132.1L293.6 133.1ZM298.9 126.0L298.9 124.0L297.1 123.0L295.4 124.0L295.4 126.0L297.1 127.0Z"/>
<path fill="#1966ad" stroke="#1966ad" stroke-width="0.25" d="M262.0 165.6L262.0 163.6L260.2 162.6L258.5 163.6L258.5 165.6L260.2 166.6ZM272.5 147.3L272.5 145.3L270.8 144.3L269.0 145.3L269.0 147.3L270.8 148.3ZM274.3 156.5L274.3 154.4L272.5 153.4L270.8 154.4L270.8 156.5L272.5 157.5ZM281.3 138.2L281.3 136.2L279.6 135.1L277.8 136.2L277.8 138.2L279.6 139.2ZM284.8 144.3L284.8 142.3L283.1 141.2L281.3 142.3L281.3 144.3L283.1 145.3ZM291.9 132.1L291.9 130.1L290.1 129.1L288.3 130.1L288.3 132.1L290.1 133.1Z"/>
<path fill="#105ba4" stroke="#105ba4" stroke-width="0.25" d="M269.0 159.5L269.0 157.5L267.2 156.5L265.5 157.5L265.5 159.5L267.2 160.5ZM276.0 153.4L276.0 151.4L274.3 150.4L272.5 151.4L272.5 153.4L274.3 154.4ZM279.6 141.2L279.6 139.2L277.8 138.2L276.0 139.2L276.0 141.2L277.8 142.3ZM286.6 141.2L286.6 139.2L284.8 138.2L283.1 139.2L283.1 141.2L284.8 142.3ZM286.6 135.1L286.6 133.1L284.8 132.1L283.1 133.1L283.1 135.1L284.8 136.2ZM290.1 135.1L290.1 133.1L288.3 132.1L286.6 133.1L286.6 135.1L288.3 136.2ZM263.7 162.6L263.7 160.5L262.0 159.5L260.2 160.5L260.2 162.6L262.0 163.6ZM288.3 138.2L288.3 136.2L286.6 135.1L284.8 136.2L284.8 138.2L286.6 139.2Z"/>
<path fill="#08509b" stroke="#08509b" stroke-width="0.25" d="M265.5 159.5L265.5 157.5L263.7 156.5L262.0 157.5L262.0 159.5L263.7 160.5ZM269.0 153.4L269.0 151.4L267.2 150.4L265.5 151.4L265.5 153.4L267.2 154.4ZM267.2 156.5L267.2 154.4L265.5 153.4L263.7 154.4L263.7 156.5L265.5 157.5ZM270.8 150.4L270.8 148.3L269.0 147.3L267.2 148.3L267.2 150.4L269.0 151.4ZM277.8 150.4L277.8 148.3L276.0 147.3L274.3 148.3L274.3 150.4L276.0 151.4ZM284.8 138.2L284.8 136.2L283.1 135.1L281.3 136.2L281.3 138.2L283.1 139.2Z"/>
<path fill="#08468b" stroke="#08468b" stroke-width="0.25" d="M276.0 147.3L276.0 145.3L274.3 144.3L272.5 145.3L272.5 147.3L274.3 148.3ZM279.6 147.3L279.6 145.3L277.8 144.3L276.0 145.3L276.0 147.3L277.8 148.3ZM283.1 141.2L283.1 139.2L281.3 138.2L279.6 139.2L279.6 141.2L281.3 142.3ZM270.8 156.5L270.8 154.4L269.0 153.4L267.2 154.4L267.2 156.5L269.0 157.5ZM274.3 150.4L274.3 148.3L272.5 147.3L270.8 148.3L270.8 150.4L272.5 151.4ZM277.8 144.3L277.8 142.3L276.0 141.2L274.3 142.3L274.3 144.3L276.0 145.3ZM281.3 144.3L281.3 142.3L279.6 141.2L277.8 142.3L277.8 144.3L279.6 145.3Z"/>
<path fill="#083a7a" stroke="#083a7a" stroke-width="0.25" d="M272.5 153.4L272.5 151.4L270.8 150.4L269.0 151.4L269.0 153.4L270.8 154.4Z"/>
</g>
<line x1="214.5" y1="207.25" x2="355.15" y2="67.1" stroke="#cd0a18" stroke-width="1.9" stroke-dasharray="6.6 2.86" clip-path="url(#cp1)"/>
<rect x="214.5" y="67.1" width="140.65" height="140.15" fill="none" stroke="#000" stroke-width="1.6"/>
<line x1="214.50" y1="207.25" x2="214.50" y2="210.85" stroke="#000" stroke-width="1.3"/>
<line x1="210.90" y1="207.25" x2="214.5" y2="207.25" stroke="#000" stroke-width="1.3"/>
<text x="214.50" y="224.7" font-size="11.8" text-anchor="middle">−11</text>
<text x="206.20" y="211.25" font-size="11.8" text-anchor="end">−11</text>
<line x1="241.13" y1="207.25" x2="241.13" y2="210.85" stroke="#000" stroke-width="1.3"/>
<line x1="210.90" y1="180.72" x2="214.5" y2="180.72" stroke="#000" stroke-width="1.3"/>
<text x="241.13" y="224.7" font-size="11.8" text-anchor="middle">−7</text>
<text x="206.20" y="184.72" font-size="11.8" text-anchor="end">−7</text>
<line x1="267.75" y1="207.25" x2="267.75" y2="210.85" stroke="#000" stroke-width="1.3"/>
<line x1="210.90" y1="154.19" x2="214.5" y2="154.19" stroke="#000" stroke-width="1.3"/>
<text x="267.75" y="224.7" font-size="11.8" text-anchor="middle">−3</text>
<text x="206.20" y="158.19" font-size="11.8" text-anchor="end">−3</text>
<line x1="294.38" y1="207.25" x2="294.38" y2="210.85" stroke="#000" stroke-width="1.3"/>
<line x1="210.90" y1="127.66" x2="214.5" y2="127.66" stroke="#000" stroke-width="1.3"/>
<text x="294.38" y="224.7" font-size="11.8" text-anchor="middle">1</text>
<text x="206.20" y="131.66" font-size="11.8" text-anchor="end">1</text>
<line x1="321.00" y1="207.25" x2="321.00" y2="210.85" stroke="#000" stroke-width="1.3"/>
<line x1="210.90" y1="101.13" x2="214.5" y2="101.13" stroke="#000" stroke-width="1.3"/>
<text x="321.00" y="224.7" font-size="11.8" text-anchor="middle">5</text>
<text x="206.20" y="105.13" font-size="11.8" text-anchor="end">5</text>
<line x1="347.63" y1="207.25" x2="347.63" y2="210.85" stroke="#000" stroke-width="1.3"/>
<line x1="210.90" y1="74.60" x2="214.5" y2="74.60" stroke="#000" stroke-width="1.3"/>
<text x="347.63" y="224.7" font-size="11.8" text-anchor="middle">9</text>
<text x="206.20" y="78.60" font-size="11.8" text-anchor="end">9</text>
<text x="216.90" y="75.30" font-size="6.85">MAE = 0.664 eV</text>
<text x="216.90" y="82.50" font-size="6.85">RMSE = 1.03 eV</text>
<text x="216.90" y="89.70" font-size="6.85">MDAE = 0.425 eV</text>
<text x="216.90" y="96.90" font-size="6.85">MARPD = 47.9%</text>
<text x="216.90" y="104.10" font-size="6.85">R2 = 0.797</text>
<text x="216.90" y="111.30" font-size="6.85">R = 0.893</text>
<text x="327.3" y="187.1" font-size="13" text-anchor="middle">MC</text>
<text x="327.3" y="202.7" font-size="13" text-anchor="middle">Dropout</text>
<text x="212.90" y="61.9" font-size="13.3">(b)</text>
<path d="M412.00 66.6V66.0H412.72V65.7H413.44V66.4H414.16V66.1H414.88V66.0H415.60V66.0H416.32V65.6H417.04V65.0H417.76V65.4H418.48V64.9H419.20V64.2H419.92V64.1H420.64V63.6H421.36V63.3H422.08V63.0H422.80V62.0H423.52V61.0H424.24V60.3H424.96V58.9H425.68V57.6H426.40V56.3H427.12V54.4H427.84V52.8H428.56V50.7H429.28V47.3H430.00V44.2H430.72V41.1H431.44V39.0H432.16V35.5H432.88V34.1H433.60V32.1H434.32V29.9H435.04V29.3H435.76V30.2H436.48V29.6H437.20V27.6H437.92V25.1H438.64V19.8H439.36V16.4H440.08V18.0H440.80V3.1H441.52V3.5H442.24V16.7H442.96V15.0H443.68V13.1H444.40V14.2H445.12V11.0H445.84V11.1H446.56V11.3H447.28V8.2H448.00V7.2H448.72V6.1H449.44V6.2H450.16V12.7H450.88V15.8H451.60V18.0H452.32V20.6H453.04V22.6H453.76V22.7H454.48V23.8H455.20V21.8H455.92V20.6H456.64V21.0H457.36V23.4H458.08V27.7H458.80V28.7H459.52V31.1H460.24V34.0H460.96V37.2H461.68V39.9H462.40V43.6H463.12V44.8H463.84V47.3H464.56V47.3H465.28V48.0H466.00V48.5H466.72V49.3H467.44V49.0H468.16V49.4H468.88V49.1H469.60V50.0H470.32V50.5H471.04V51.8H471.76V52.8H472.48V53.6H473.20V55.0H473.92V55.9H474.64V56.0H475.36V56.1H476.08V57.1H476.80V58.1H477.52V58.5H478.24V59.1H478.96V60.0H479.68V61.2H480.40V61.9H481.12V62.4H481.84V62.0H482.56V62.9H483.28V64.0H484.00V63.9H484.72V64.9H485.44V65.0H486.16V65.0H486.88V65.4H487.60V65.3H488.32V65.5H489.04V66.2H489.76V66.0H490.48V65.9H491.20V66.3H491.92V66.6H492.64V66.0H493.36V66.4H494.08V66.6Z" fill="#4682b4"/>
<text x="435.5" y="55.0" font-size="8.3" fill="#eaf1f8">μ = -1.51</text>
<text x="435.5" y="65.0" font-size="8.3" fill="#eaf1f8">σ = 2.09</text>
<rect x="386.9" y="67.1" width="140.65" height="140.15" fill="#f9fafc"/>
<clipPath id="cp2"><rect x="386.9" y="67.1" width="140.65" height="140.15"/></clipPath>
<g clip-path="url(#cp2)">
<path fill="#f7fbff" stroke="#f7fbff" stroke-width="0.25" d="M406.2 208.3L406.2 206.2L404.5 205.2L402.7 206.2L402.7 208.3L404.5 209.3ZM409.8 208.3L409.8 206.2L408.0 205.2L406.2 206.2L406.2 208.3L408.0 209.3ZM409.8 196.1L409.8 194.0L408.0 193.0L406.2 194.0L406.2 196.1L408.0 197.1ZM409.8 190.0L409.8 188.0L408.0 186.9L406.2 188.0L406.2 190.0L408.0 191.0ZM409.8 183.9L409.8 181.9L408.0 180.8L406.2 181.9L406.2 183.9L408.0 184.9ZM409.8 177.8L409.8 175.8L408.0 174.8L406.2 175.8L406.2 177.8L408.0 178.8ZM409.8 171.7L409.8 169.7L408.0 168.7L406.2 169.7L406.2 171.7L408.0 172.7ZM413.3 196.1L413.3 194.0L411.5 193.0L409.8 194.0L409.8 196.1L411.5 197.1ZM413.3 183.9L413.3 181.9L411.5 180.8L409.8 181.9L409.8 183.9L411.5 184.9ZM413.3 171.7L413.3 169.7L411.5 168.7L409.8 169.7L409.8 171.7L411.5 172.7ZM416.8 171.7L416.8 169.7L415.0 168.7L413.3 169.7L413.3 171.7L415.0 172.7ZM420.3 165.6L420.3 163.6L418.5 162.6L416.8 163.6L416.8 165.6L418.5 166.6ZM420.3 153.4L420.3 151.4L418.5 150.4L416.8 151.4L416.8 153.4L418.5 154.4ZM423.8 196.1L423.8 194.0L422.1 193.0L420.3 194.0L420.3 196.1L422.1 197.1ZM427.3 196.1L427.3 194.0L425.6 193.0L423.8 194.0L423.8 196.1L425.6 197.1ZM427.3 141.2L427.3 139.2L425.6 138.2L423.8 139.2L423.8 141.2L425.6 142.3ZM430.9 141.2L430.9 139.2L429.1 138.2L427.3 139.2L427.3 141.2L429.1 142.3ZM430.9 135.1L430.9 133.1L429.1 132.1L427.3 133.1L427.3 135.1L429.1 136.2ZM434.4 202.2L434.4 200.1L432.6 199.1L430.9 200.1L430.9 202.2L432.6 203.2ZM437.9 190.0L437.9 188.0L436.1 186.9L434.4 188.0L434.4 190.0L436.1 191.0ZM437.9 135.1L437.9 133.1L436.1 132.1L434.4 133.1L434.4 135.1L436.1 136.2ZM437.9 129.1L437.9 127.0L436.1 126.0L434.4 127.0L434.4 129.1L436.1 130.1ZM441.4 190.0L441.4 188.0L439.6 186.9L437.9 188.0L437.9 190.0L439.6 191.0ZM444.9 190.0L444.9 188.0L443.2 186.9L441.4 188.0L441.4 190.0L443.2 191.0ZM444.9 123.0L444.9 120.9L443.2 119.9L441.4 120.9L441.4 123.0L443.2 124.0ZM448.4 123.0L448.4 120.9L446.7 119.9L444.9 120.9L444.9 123.0L446.7 124.0ZM448.4 98.6L448.4 96.6L446.7 95.5L444.9 96.6L444.9 98.6L446.7 99.6ZM455.5 171.7L455.5 169.7L453.7 168.7L452.0 169.7L452.0 171.7L453.7 172.7ZM459.0 177.8L459.0 175.8L457.2 174.8L455.5 175.8L455.5 177.8L457.2 178.8ZM459.0 171.7L459.0 169.7L457.2 168.7L455.5 169.7L455.5 171.7L457.2 172.7ZM462.5 104.7L462.5 102.6L460.7 101.6L459.0 102.6L459.0 104.7L460.7 105.7ZM466.0 159.5L466.0 157.5L464.3 156.5L462.5 157.5L462.5 159.5L464.3 160.5ZM473.0 165.6L473.0 163.6L471.3 162.6L469.5 163.6L469.5 165.6L471.3 166.6ZM473.0 153.4L473.0 151.4L471.3 150.4L469.5 151.4L469.5 153.4L471.3 154.4ZM473.0 147.3L473.0 145.3L471.3 144.3L469.5 145.3L469.5 147.3L471.3 148.3ZM476.6 141.2L476.6 139.2L474.8 138.2L473.0 139.2L473.0 141.2L474.8 142.3ZM476.6 92.5L476.6 90.5L474.8 89.4L473.0 90.5L473.0 92.5L474.8 93.5ZM483.6 135.1L483.6 133.1L481.8 132.1L480.1 133.1L480.1 135.1L481.8 136.2ZM483.6 92.5L483.6 90.5L481.8 89.4L480.1 90.5L480.1 92.5L481.8 93.5ZM490.6 116.9L490.6 114.8L488.9 113.8L487.1 114.8L487.1 116.9L488.9 117.9ZM490.6 92.5L490.6 90.5L488.9 89.4L487.1 90.5L487.1 92.5L488.9 93.5ZM494.1 129.1L494.1 127.0L492.4 126.0L490.6 127.0L490.6 129.1L492.4 130.1ZM494.1 80.3L494.1 78.3L492.4 77.3L490.6 78.3L490.6 80.3L492.4 81.3ZM497.7 110.8L497.7 108.7L495.9 107.7L494.1 108.7L494.1 110.8L495.9 111.8ZM497.7 104.7L497.7 102.6L495.9 101.6L494.1 102.6L494.1 104.7L495.9 105.7ZM508.2 104.7L508.2 102.6L506.5 101.6L504.7 102.6L504.7 104.7L506.5 105.7ZM508.2 92.5L508.2 90.5L506.5 89.4L504.7 90.5L504.7 92.5L506.5 93.5ZM515.2 80.3L515.2 78.3L513.5 77.3L511.7 78.3L511.7 80.3L513.5 81.3ZM518.8 80.3L518.8 78.3L517.0 77.3L515.2 78.3L515.2 80.3L517.0 81.3ZM522.3 80.3L522.3 78.3L520.5 77.3L518.8 78.3L518.8 80.3L520.5 81.3ZM522.3 68.1L522.3 66.1L520.5 65.1L518.8 66.1L518.8 68.1L520.5 69.1ZM525.8 68.1L525.8 66.1L524.0 65.1L522.3 66.1L522.3 68.1L524.0 69.1ZM411.5 193.0L411.5 191.0L409.8 190.0L408.0 191.0L408.0 193.0L409.8 194.0ZM411.5 186.9L411.5 184.9L409.8 183.9L408.0 184.9L408.0 186.9L409.8 188.0ZM415.0 199.1L415.0 197.1L413.3 196.1L411.5 197.1L411.5 199.1L413.3 200.1ZM415.0 193.0L415.0 191.0L413.3 190.0L411.5 191.0L411.5 193.0L413.3 194.0ZM415.0 186.9L415.0 184.9L413.3 183.9L411.5 184.9L411.5 186.9L413.3 188.0ZM415.0 174.8L415.0 172.7L413.3 171.7L411.5 172.7L411.5 174.8L413.3 175.8ZM415.0 168.7L415.0 166.6L413.3 165.6L411.5 166.6L411.5 168.7L413.3 169.7ZM415.0 162.6L415.0 160.5L413.3 159.5L411.5 160.5L411.5 162.6L413.3 163.6ZM418.5 205.2L418.5 203.2L416.8 202.2L415.0 203.2L415.0 205.2L416.8 206.2ZM418.5 199.1L418.5 197.1L416.8 196.1L415.0 197.1L415.0 199.1L416.8 200.1ZM422.1 205.2L422.1 203.2L420.3 202.2L418.5 203.2L418.5 205.2L420.3 206.2ZM422.1 150.4L422.1 148.3L420.3 147.3L418.5 148.3L418.5 150.4L420.3 151.4ZM425.6 205.2L425.6 203.2L423.8 202.2L422.1 203.2L422.1 205.2L423.8 206.2ZM425.6 144.3L425.6 142.3L423.8 141.2L422.1 142.3L422.1 144.3L423.8 145.3ZM429.1 199.1L429.1 197.1L427.3 196.1L425.6 197.1L425.6 199.1L427.3 200.1ZM432.6 132.1L432.6 130.1L430.9 129.1L429.1 130.1L429.1 132.1L430.9 133.1ZM436.1 199.1L436.1 197.1L434.4 196.1L432.6 197.1L432.6 199.1L434.4 200.1ZM443.2 186.9L443.2 184.9L441.4 183.9L439.6 184.9L439.6 186.9L441.4 188.0ZM446.7 193.0L446.7 191.0L444.9 190.0L443.2 191.0L443.2 193.0L444.9 194.0ZM446.7 119.9L446.7 117.9L444.9 116.9L443.2 117.9L443.2 119.9L444.9 120.9ZM453.7 180.8L453.7 178.8L452.0 177.8L450.2 178.8L450.2 180.8L452.0 181.9ZM453.7 113.8L453.7 111.8L452.0 110.8L450.2 111.8L450.2 113.8L452.0 114.8ZM457.2 180.8L457.2 178.8L455.5 177.8L453.7 178.8L453.7 180.8L455.5 181.9ZM457.2 95.5L457.2 93.5L455.5 92.5L453.7 93.5L453.7 95.5L455.5 96.6ZM460.7 162.6L460.7 160.5L459.0 159.5L457.2 160.5L457.2 162.6L459.0 163.6ZM467.8 107.7L467.8 105.7L466.0 104.7L464.3 105.7L464.3 107.7L466.0 108.7ZM467.8 101.6L467.8 99.6L466.0 98.6L464.3 99.6L464.3 101.6L466.0 102.6ZM471.3 101.6L471.3 99.6L469.5 98.6L467.8 99.6L467.8 101.6L469.5 102.6ZM474.8 144.3L474.8 142.3L473.0 141.2L471.3 142.3L471.3 144.3L473.0 145.3ZM474.8 89.4L474.8 87.4L473.0 86.4L471.3 87.4L471.3 89.4L473.0 90.5ZM478.3 89.4L478.3 87.4L476.6 86.4L474.8 87.4L474.8 89.4L476.6 90.5ZM481.8 138.2L481.8 136.2L480.1 135.1L478.3 136.2L478.3 138.2L480.1 139.2ZM481.8 132.1L481.8 130.1L480.1 129.1L478.3 130.1L478.3 132.1L480.1 133.1ZM481.8 101.6L481.8 99.6L480.1 98.6L478.3 99.6L478.3 101.6L480.1 102.6ZM485.4 132.1L485.4 130.1L483.6 129.1L481.8 130.1L481.8 132.1L483.6 133.1ZM485.4 95.5L485.4 93.5L483.6 92.5L481.8 93.5L481.8 95.5L483.6 96.6ZM485.4 89.4L485.4 87.4L483.6 86.4L481.8 87.4L481.8 89.4L483.6 90.5ZM488.9 126.0L488.9 124.0L487.1 123.0L485.4 124.0L485.4 126.0L487.1 127.0ZM488.9 119.9L488.9 117.9L487.1 116.9L485.4 117.9L485.4 119.9L487.1 120.9ZM488.9 89.4L488.9 87.4L487.1 86.4L485.4 87.4L485.4 89.4L487.1 90.5ZM492.4 113.8L492.4 111.8L490.6 110.8L488.9 111.8L488.9 113.8L490.6 114.8ZM492.4 95.5L492.4 93.5L490.6 92.5L488.9 93.5L488.9 95.5L490.6 96.6ZM499.4 101.6L499.4 99.6L497.7 98.6L495.9 99.6L495.9 101.6L497.7 102.6ZM506.5 95.5L506.5 93.5L504.7 92.5L502.9 93.5L502.9 95.5L504.7 96.6ZM506.5 83.3L506.5 81.3L504.7 80.3L502.9 81.3L502.9 83.3L504.7 84.4ZM513.5 101.6L513.5 99.6L511.7 98.6L510.0 99.6L510.0 101.6L511.7 102.6ZM513.5 89.4L513.5 87.4L511.7 86.4L510.0 87.4L510.0 89.4L511.7 90.5ZM520.5 83.3L520.5 81.3L518.8 80.3L517.0 81.3L517.0 83.3L518.8 84.4ZM524.0 71.2L524.0 69.1L522.3 68.1L520.5 69.1L520.5 71.2L522.3 72.2Z"/>
<path fill="#e7f0fa" stroke="#e7f0fa" stroke-width="0.25" d="M413.3 190.0L413.3 188.0L411.5 186.9L409.8 188.0L409.8 190.0L411.5 191.0ZM416.8 208.3L416.8 206.2L415.0 205.2L413.3 206.2L413.3 208.3L415.0 209.3ZM416.8 165.6L416.8 163.6L415.0 162.6L413.3 163.6L413.3 165.6L415.0 166.6ZM420.3 202.2L420.3 200.1L418.5 199.1L416.8 200.1L416.8 202.2L418.5 203.2ZM420.3 159.5L420.3 157.5L418.5 156.5L416.8 157.5L416.8 159.5L418.5 160.5ZM423.8 147.3L423.8 145.3L422.1 144.3L420.3 145.3L420.3 147.3L422.1 148.3ZM427.3 147.3L427.3 145.3L425.6 144.3L423.8 145.3L423.8 147.3L425.6 148.3ZM430.9 196.1L430.9 194.0L429.1 193.0L427.3 194.0L427.3 196.1L429.1 197.1ZM434.4 196.1L434.4 194.0L432.6 193.0L430.9 194.0L430.9 196.1L432.6 197.1ZM434.4 190.0L434.4 188.0L432.6 186.9L430.9 188.0L430.9 190.0L432.6 191.0ZM434.4 135.1L434.4 133.1L432.6 132.1L430.9 133.1L430.9 135.1L432.6 136.2ZM437.9 196.1L437.9 194.0L436.1 193.0L434.4 194.0L434.4 196.1L436.1 197.1ZM452.0 177.8L452.0 175.8L450.2 174.8L448.4 175.8L448.4 177.8L450.2 178.8ZM455.5 177.8L455.5 175.8L453.7 174.8L452.0 175.8L452.0 177.8L453.7 178.8ZM459.0 165.6L459.0 163.6L457.2 162.6L455.5 163.6L455.5 165.6L457.2 166.6ZM462.5 159.5L462.5 157.5L460.7 156.5L459.0 157.5L459.0 159.5L460.7 160.5ZM466.0 110.8L466.0 108.7L464.3 107.7L462.5 108.7L462.5 110.8L464.3 111.8ZM469.5 147.3L469.5 145.3L467.8 144.3L466.0 145.3L466.0 147.3L467.8 148.3ZM469.5 104.7L469.5 102.6L467.8 101.6L466.0 102.6L466.0 104.7L467.8 105.7ZM473.0 159.5L473.0 157.5L471.3 156.5L469.5 157.5L469.5 159.5L471.3 160.5ZM473.0 98.6L473.0 96.6L471.3 95.5L469.5 96.6L469.5 98.6L471.3 99.6ZM480.1 98.6L480.1 96.6L478.3 95.5L476.6 96.6L476.6 98.6L478.3 99.6ZM483.6 129.1L483.6 127.0L481.8 126.0L480.1 127.0L480.1 129.1L481.8 130.1ZM494.1 116.9L494.1 114.8L492.4 113.8L490.6 114.8L490.6 116.9L492.4 117.9ZM501.2 98.6L501.2 96.6L499.4 95.5L497.7 96.6L497.7 98.6L499.4 99.6ZM501.2 86.4L501.2 84.4L499.4 83.3L497.7 84.4L497.7 86.4L499.4 87.4ZM525.8 74.2L525.8 72.2L524.0 71.2L522.3 72.2L522.3 74.2L524.0 75.2ZM418.5 162.6L418.5 160.5L416.8 159.5L415.0 160.5L415.0 162.6L416.8 163.6ZM422.1 199.1L422.1 197.1L420.3 196.1L418.5 197.1L418.5 199.1L420.3 200.1ZM425.6 150.4L425.6 148.3L423.8 147.3L422.1 148.3L422.1 150.4L423.8 151.4ZM432.6 193.0L432.6 191.0L430.9 190.0L429.1 191.0L429.1 193.0L430.9 194.0ZM432.6 138.2L432.6 136.2L430.9 135.1L429.1 136.2L429.1 138.2L430.9 139.2ZM436.1 138.2L436.1 136.2L434.4 135.1L432.6 136.2L432.6 138.2L434.4 139.2ZM436.1 132.1L436.1 130.1L434.4 129.1L432.6 130.1L432.6 132.1L434.4 133.1ZM439.6 126.0L439.6 124.0L437.9 123.0L436.1 124.0L436.1 126.0L437.9 127.0ZM443.2 132.1L443.2 130.1L441.4 129.1L439.6 130.1L439.6 132.1L441.4 133.1ZM446.7 180.8L446.7 178.8L444.9 177.8L443.2 178.8L443.2 180.8L444.9 181.9ZM446.7 126.0L446.7 124.0L444.9 123.0L443.2 124.0L443.2 126.0L444.9 127.0ZM457.2 168.7L457.2 166.6L455.5 165.6L453.7 166.6L453.7 168.7L455.5 169.7ZM460.7 107.7L460.7 105.7L459.0 104.7L457.2 105.7L457.2 107.7L459.0 108.7ZM467.8 150.4L467.8 148.3L466.0 147.3L464.3 148.3L464.3 150.4L466.0 151.4ZM474.8 101.6L474.8 99.6L473.0 98.6L471.3 99.6L471.3 101.6L473.0 102.6ZM478.3 138.2L478.3 136.2L476.6 135.1L474.8 136.2L474.8 138.2L476.6 139.2ZM481.8 95.5L481.8 93.5L480.1 92.5L478.3 93.5L478.3 95.5L480.1 96.6ZM495.9 95.5L495.9 93.5L494.1 92.5L492.4 93.5L492.4 95.5L494.1 96.6ZM495.9 89.4L495.9 87.4L494.1 86.4L492.4 87.4L492.4 89.4L494.1 90.5ZM502.9 95.5L502.9 93.5L501.2 92.5L499.4 93.5L499.4 95.5L501.2 96.6ZM502.9 89.4L502.9 87.4L501.2 86.4L499.4 87.4L499.4 89.4L501.2 90.5ZM506.5 89.4L506.5 87.4L504.7 86.4L502.9 87.4L502.9 89.4L504.7 90.5ZM510.0 77.3L510.0 75.2L508.2 74.2L506.5 75.2L506.5 77.3L508.2 78.3ZM513.5 77.3L513.5 75.2L511.7 74.2L510.0 75.2L510.0 77.3L511.7 78.3ZM517.0 83.3L517.0 81.3L515.2 80.3L513.5 81.3L513.5 83.3L515.2 84.4ZM520.5 77.3L520.5 75.2L518.8 74.2L517.0 75.2L517.0 77.3L518.8 78.3ZM524.0 77.3L524.0 75.2L522.3 74.2L520.5 75.2L520.5 77.3L522.3 78.3Z"/>
<path fill="#d6e6f4" stroke="#d6e6f4" stroke-width="0.25" d="M420.3 196.1L420.3 194.0L418.5 193.0L416.8 194.0L416.8 196.1L418.5 197.1ZM427.3 190.0L427.3 188.0L425.6 186.9L423.8 188.0L423.8 190.0L425.6 191.0ZM441.4 129.1L441.4 127.0L439.6 126.0L437.9 127.0L437.9 129.1L439.6 130.1ZM452.0 123.0L452.0 120.9L450.2 119.9L448.4 120.9L448.4 123.0L450.2 124.0ZM455.5 165.6L455.5 163.6L453.7 162.6L452.0 163.6L452.0 165.6L453.7 166.6ZM455.5 116.9L455.5 114.8L453.7 113.8L452.0 114.8L452.0 116.9L453.7 117.9ZM459.0 110.8L459.0 108.7L457.2 107.7L455.5 108.7L455.5 110.8L457.2 111.8ZM462.5 110.8L462.5 108.7L460.7 107.7L459.0 108.7L459.0 110.8L460.7 111.8ZM494.1 110.8L494.1 108.7L492.4 107.7L490.6 108.7L490.6 110.8L492.4 111.8ZM494.1 92.5L494.1 90.5L492.4 89.4L490.6 90.5L490.6 92.5L492.4 93.5ZM501.2 92.5L501.2 90.5L499.4 89.4L497.7 90.5L497.7 92.5L499.4 93.5ZM504.7 98.6L504.7 96.6L502.9 95.5L501.2 96.6L501.2 98.6L502.9 99.6ZM508.2 86.4L508.2 84.4L506.5 83.3L504.7 84.4L504.7 86.4L506.5 87.4ZM515.2 86.4L515.2 84.4L513.5 83.3L511.7 84.4L511.7 86.4L513.5 87.4ZM515.2 74.2L515.2 72.2L513.5 71.2L511.7 72.2L511.7 74.2L513.5 75.2ZM518.8 68.1L518.8 66.1L517.0 65.1L515.2 66.1L515.2 68.1L517.0 69.1ZM411.5 199.1L411.5 197.1L409.8 196.1L408.0 197.1L408.0 199.1L409.8 200.1ZM418.5 193.0L418.5 191.0L416.8 190.0L415.0 191.0L415.0 193.0L416.8 194.0ZM422.1 156.5L422.1 154.4L420.3 153.4L418.5 154.4L418.5 156.5L420.3 157.5ZM429.1 150.4L429.1 148.3L427.3 147.3L425.6 148.3L425.6 150.4L427.3 151.4ZM429.1 144.3L429.1 142.3L427.3 141.2L425.6 142.3L425.6 144.3L427.3 145.3ZM439.6 132.1L439.6 130.1L437.9 129.1L436.1 130.1L436.1 132.1L437.9 133.1ZM450.2 174.8L450.2 172.7L448.4 171.7L446.7 172.7L446.7 174.8L448.4 175.8ZM453.7 174.8L453.7 172.7L452.0 171.7L450.2 172.7L450.2 174.8L452.0 175.8ZM460.7 113.8L460.7 111.8L459.0 110.8L457.2 111.8L457.2 113.8L459.0 114.8ZM488.9 95.5L488.9 93.5L487.1 92.5L485.4 93.5L485.4 95.5L487.1 96.6ZM499.4 95.5L499.4 93.5L497.7 92.5L495.9 93.5L495.9 95.5L497.7 96.6ZM502.9 101.6L502.9 99.6L501.2 98.6L499.4 99.6L499.4 101.6L501.2 102.6ZM513.5 83.3L513.5 81.3L511.7 80.3L510.0 81.3L510.0 83.3L511.7 84.4ZM517.0 77.3L517.0 75.2L515.2 74.2L513.5 75.2L513.5 77.3L515.2 78.3Z"/>
<path fill="#cee0f2" stroke="#cee0f2" stroke-width="0.25" d="M416.8 190.0L416.8 188.0L415.0 186.9L413.3 188.0L413.3 190.0L415.0 191.0ZM416.8 177.8L416.8 175.8L415.0 174.8L413.3 175.8L413.3 177.8L415.0 178.8ZM430.9 147.3L430.9 145.3L429.1 144.3L427.3 145.3L427.3 147.3L429.1 148.3ZM448.4 177.8L448.4 175.8L446.7 174.8L444.9 175.8L444.9 177.8L446.7 178.8ZM466.0 153.4L466.0 151.4L464.3 150.4L462.5 151.4L462.5 153.4L464.3 154.4ZM469.5 110.8L469.5 108.7L467.8 107.7L466.0 108.7L466.0 110.8L467.8 111.8ZM473.0 104.7L473.0 102.6L471.3 101.6L469.5 102.6L469.5 104.7L471.3 105.7ZM483.6 98.6L483.6 96.6L481.8 95.5L480.1 96.6L480.1 98.6L481.8 99.6ZM494.1 104.7L494.1 102.6L492.4 101.6L490.6 102.6L490.6 104.7L492.4 105.7ZM497.7 98.6L497.7 96.6L495.9 95.5L494.1 96.6L494.1 98.6L495.9 99.6ZM497.7 92.5L497.7 90.5L495.9 89.4L494.1 90.5L494.1 92.5L495.9 93.5ZM511.7 86.4L511.7 84.4L510.0 83.3L508.2 84.4L508.2 86.4L510.0 87.4ZM511.7 80.3L511.7 78.3L510.0 77.3L508.2 78.3L508.2 80.3L510.0 81.3ZM522.3 74.2L522.3 72.2L520.5 71.2L518.8 72.2L518.8 74.2L520.5 75.2ZM418.5 168.7L418.5 166.6L416.8 165.6L415.0 166.6L415.0 168.7L416.8 169.7ZM429.1 193.0L429.1 191.0L427.3 190.0L425.6 191.0L425.6 193.0L427.3 194.0ZM436.1 186.9L436.1 184.9L434.4 183.9L432.6 184.9L432.6 186.9L434.4 188.0ZM439.6 186.9L439.6 184.9L437.9 183.9L436.1 184.9L436.1 186.9L437.9 188.0ZM439.6 138.2L439.6 136.2L437.9 135.1L436.1 136.2L436.1 138.2L437.9 139.2ZM450.2 168.7L450.2 166.6L448.4 165.6L446.7 166.6L446.7 168.7L448.4 169.7ZM450.2 119.9L450.2 117.9L448.4 116.9L446.7 117.9L446.7 119.9L448.4 120.9ZM453.7 119.9L453.7 117.9L452.0 116.9L450.2 117.9L450.2 119.9L452.0 120.9ZM457.2 113.8L457.2 111.8L455.5 110.8L453.7 111.8L453.7 113.8L455.5 114.8ZM464.3 156.5L464.3 154.4L462.5 153.4L460.7 154.4L460.7 156.5L462.5 157.5ZM485.4 126.0L485.4 124.0L483.6 123.0L481.8 124.0L481.8 126.0L483.6 127.0ZM495.9 107.7L495.9 105.7L494.1 104.7L492.4 105.7L492.4 107.7L494.1 108.7ZM499.4 107.7L499.4 105.7L497.7 104.7L495.9 105.7L495.9 107.7L497.7 108.7Z"/>
<path fill="#c6dbef" stroke="#c6dbef" stroke-width="0.25" d="M420.3 190.0L420.3 188.0L418.5 186.9L416.8 188.0L416.8 190.0L418.5 191.0ZM423.8 159.5L423.8 157.5L422.1 156.5L420.3 157.5L420.3 159.5L422.1 160.5ZM423.8 153.4L423.8 151.4L422.1 150.4L420.3 151.4L420.3 153.4L422.1 154.4ZM437.9 183.9L437.9 181.9L436.1 180.8L434.4 181.9L434.4 183.9L436.1 184.9ZM441.4 183.9L441.4 181.9L439.6 180.8L437.9 181.9L437.9 183.9L439.6 184.9ZM441.4 177.8L441.4 175.8L439.6 174.8L437.9 175.8L437.9 177.8L439.6 178.8ZM444.9 183.9L444.9 181.9L443.2 180.8L441.4 181.9L441.4 183.9L443.2 184.9ZM444.9 129.1L444.9 127.0L443.2 126.0L441.4 127.0L441.4 129.1L443.2 130.1ZM448.4 129.1L448.4 127.0L446.7 126.0L444.9 127.0L444.9 129.1L446.7 130.1ZM455.5 123.0L455.5 120.9L453.7 119.9L452.0 120.9L452.0 123.0L453.7 124.0ZM459.0 159.5L459.0 157.5L457.2 156.5L455.5 157.5L455.5 159.5L457.2 160.5ZM459.0 116.9L459.0 114.8L457.2 113.8L455.5 114.8L455.5 116.9L457.2 117.9ZM473.0 141.2L473.0 139.2L471.3 138.2L469.5 139.2L469.5 141.2L471.3 142.3ZM476.6 135.1L476.6 133.1L474.8 132.1L473.0 133.1L473.0 135.1L474.8 136.2ZM476.6 104.7L476.6 102.6L474.8 101.6L473.0 102.6L473.0 104.7L474.8 105.7ZM487.1 98.6L487.1 96.6L485.4 95.5L483.6 96.6L483.6 98.6L485.4 99.6ZM490.6 110.8L490.6 108.7L488.9 107.7L487.1 108.7L487.1 110.8L488.9 111.8ZM490.6 98.6L490.6 96.6L488.9 95.5L487.1 96.6L487.1 98.6L488.9 99.6ZM504.7 92.5L504.7 90.5L502.9 89.4L501.2 90.5L501.2 92.5L502.9 93.5ZM518.8 74.2L518.8 72.2L517.0 71.2L515.2 72.2L515.2 74.2L517.0 75.2ZM422.1 186.9L422.1 184.9L420.3 183.9L418.5 184.9L418.5 186.9L420.3 188.0ZM425.6 193.0L425.6 191.0L423.8 190.0L422.1 191.0L422.1 193.0L423.8 194.0ZM425.6 156.5L425.6 154.4L423.8 153.4L422.1 154.4L422.1 156.5L423.8 157.5ZM432.6 186.9L432.6 184.9L430.9 183.9L429.1 184.9L429.1 186.9L430.9 188.0ZM453.7 168.7L453.7 166.6L452.0 165.6L450.2 166.6L450.2 168.7L452.0 169.7ZM457.2 119.9L457.2 117.9L455.5 116.9L453.7 117.9L453.7 119.9L455.5 120.9ZM464.3 113.8L464.3 111.8L462.5 110.8L460.7 111.8L460.7 113.8L462.5 114.8ZM471.3 144.3L471.3 142.3L469.5 141.2L467.8 142.3L467.8 144.3L469.5 145.3ZM471.3 107.7L471.3 105.7L469.5 104.7L467.8 105.7L467.8 107.7L469.5 108.7ZM474.8 138.2L474.8 136.2L473.0 135.1L471.3 136.2L471.3 138.2L473.0 139.2ZM474.8 107.7L474.8 105.7L473.0 104.7L471.3 105.7L471.3 107.7L473.0 108.7ZM478.3 101.6L478.3 99.6L476.6 98.6L474.8 99.6L474.8 101.6L476.6 102.6ZM485.4 101.6L485.4 99.6L483.6 98.6L481.8 99.6L481.8 101.6L483.6 102.6ZM492.4 101.6L492.4 99.6L490.6 98.6L488.9 99.6L488.9 101.6L490.6 102.6ZM510.0 83.3L510.0 81.3L508.2 80.3L506.5 81.3L506.5 83.3L508.2 84.4Z"/>
<path fill="#b9d6ea" stroke="#b9d6ea" stroke-width="0.25" d="M416.8 183.9L416.8 181.9L415.0 180.8L413.3 181.9L413.3 183.9L415.0 184.9ZM420.3 183.9L420.3 181.9L418.5 180.8L416.8 181.9L416.8 183.9L418.5 184.9ZM420.3 171.7L420.3 169.7L418.5 168.7L416.8 169.7L416.8 171.7L418.5 172.7ZM423.8 190.0L423.8 188.0L422.1 186.9L420.3 188.0L420.3 190.0L422.1 191.0ZM427.3 183.9L427.3 181.9L425.6 180.8L423.8 181.9L423.8 183.9L425.6 184.9ZM430.9 190.0L430.9 188.0L429.1 186.9L427.3 188.0L427.3 190.0L429.1 191.0ZM434.4 141.2L434.4 139.2L432.6 138.2L430.9 139.2L430.9 141.2L432.6 142.3ZM444.9 177.8L444.9 175.8L443.2 174.8L441.4 175.8L441.4 177.8L443.2 178.8ZM448.4 171.7L448.4 169.7L446.7 168.7L444.9 169.7L444.9 171.7L446.7 172.7ZM480.1 129.1L480.1 127.0L478.3 126.0L476.6 127.0L476.6 129.1L478.3 130.1ZM487.1 116.9L487.1 114.8L485.4 113.8L483.6 114.8L483.6 116.9L485.4 117.9ZM494.1 98.6L494.1 96.6L492.4 95.5L490.6 96.6L490.6 98.6L492.4 99.6ZM422.1 162.6L422.1 160.5L420.3 159.5L418.5 160.5L418.5 162.6L420.3 163.6ZM425.6 186.9L425.6 184.9L423.8 183.9L422.1 184.9L422.1 186.9L423.8 188.0ZM439.6 180.8L439.6 178.8L437.9 177.8L436.1 178.8L436.1 180.8L437.9 181.9ZM443.2 180.8L443.2 178.8L441.4 177.8L439.6 178.8L439.6 180.8L441.4 181.9ZM446.7 132.1L446.7 130.1L444.9 129.1L443.2 130.1L443.2 132.1L444.9 133.1ZM457.2 162.6L457.2 160.5L455.5 159.5L453.7 160.5L453.7 162.6L455.5 163.6ZM460.7 156.5L460.7 154.4L459.0 153.4L457.2 154.4L457.2 156.5L459.0 157.5ZM467.8 144.3L467.8 142.3L466.0 141.2L464.3 142.3L464.3 144.3L466.0 145.3ZM481.8 126.0L481.8 124.0L480.1 123.0L478.3 124.0L478.3 126.0L480.1 127.0ZM488.9 113.8L488.9 111.8L487.1 110.8L485.4 111.8L485.4 113.8L487.1 114.8ZM495.9 101.6L495.9 99.6L494.1 98.6L492.4 99.6L492.4 101.6L494.1 102.6Z"/>
<path fill="#abd0e6" stroke="#abd0e6" stroke-width="0.25" d="M423.8 183.9L423.8 181.9L422.1 180.8L420.3 181.9L420.3 183.9L422.1 184.9ZM427.3 153.4L427.3 151.4L425.6 150.4L423.8 151.4L423.8 153.4L425.6 154.4ZM434.4 183.9L434.4 181.9L432.6 180.8L430.9 181.9L430.9 183.9L432.6 184.9ZM441.4 135.1L441.4 133.1L439.6 132.1L437.9 133.1L437.9 135.1L439.6 136.2ZM444.9 135.1L444.9 133.1L443.2 132.1L441.4 133.1L441.4 135.1L443.2 136.2ZM452.0 165.6L452.0 163.6L450.2 162.6L448.4 163.6L448.4 165.6L450.2 166.6ZM462.5 116.9L462.5 114.8L460.7 113.8L459.0 114.8L459.0 116.9L460.7 117.9ZM466.0 147.3L466.0 145.3L464.3 144.3L462.5 145.3L462.5 147.3L464.3 148.3ZM473.0 110.8L473.0 108.7L471.3 107.7L469.5 108.7L469.5 110.8L471.3 111.8ZM483.6 123.0L483.6 120.9L481.8 119.9L480.1 120.9L480.1 123.0L481.8 124.0ZM415.0 180.8L415.0 178.8L413.3 177.8L411.5 178.8L411.5 180.8L413.3 181.9ZM418.5 186.9L418.5 184.9L416.8 183.9L415.0 184.9L415.0 186.9L416.8 188.0ZM418.5 174.8L418.5 172.7L416.8 171.7L415.0 172.7L415.0 174.8L416.8 175.8ZM422.1 168.7L422.1 166.6L420.3 165.6L418.5 166.6L418.5 168.7L420.3 169.7ZM429.1 186.9L429.1 184.9L427.3 183.9L425.6 184.9L425.6 186.9L427.3 188.0ZM432.6 144.3L432.6 142.3L430.9 141.2L429.1 142.3L429.1 144.3L430.9 145.3ZM436.1 180.8L436.1 178.8L434.4 177.8L432.6 178.8L432.6 180.8L434.4 181.9ZM446.7 174.8L446.7 172.7L444.9 171.7L443.2 172.7L443.2 174.8L444.9 175.8ZM467.8 113.8L467.8 111.8L466.0 110.8L464.3 111.8L464.3 113.8L466.0 114.8ZM478.3 132.1L478.3 130.1L476.6 129.1L474.8 130.1L474.8 132.1L476.6 133.1ZM485.4 119.9L485.4 117.9L483.6 116.9L481.8 117.9L481.8 119.9L483.6 120.9ZM492.4 107.7L492.4 105.7L490.6 104.7L488.9 105.7L488.9 107.7L490.6 108.7Z"/>
<path fill="#9dcae1" stroke="#9dcae1" stroke-width="0.25" d="M423.8 165.6L423.8 163.6L422.1 162.6L420.3 163.6L420.3 165.6L422.1 166.6ZM427.3 159.5L427.3 157.5L425.6 156.5L423.8 157.5L423.8 159.5L425.6 160.5ZM430.9 183.9L430.9 181.9L429.1 180.8L427.3 181.9L427.3 183.9L429.1 184.9ZM437.9 177.8L437.9 175.8L436.1 174.8L434.4 175.8L434.4 177.8L436.1 178.8ZM437.9 141.2L437.9 139.2L436.1 138.2L434.4 139.2L434.4 141.2L436.1 142.3ZM459.0 123.0L459.0 120.9L457.2 119.9L455.5 120.9L455.5 123.0L457.2 124.0ZM462.5 153.4L462.5 151.4L460.7 150.4L459.0 151.4L459.0 153.4L460.7 154.4ZM466.0 116.9L466.0 114.8L464.3 113.8L462.5 114.8L462.5 116.9L464.3 117.9ZM476.6 129.1L476.6 127.0L474.8 126.0L473.0 127.0L473.0 129.1L474.8 130.1ZM480.1 104.7L480.1 102.6L478.3 101.6L476.6 102.6L476.6 104.7L478.3 105.7ZM483.6 104.7L483.6 102.6L481.8 101.6L480.1 102.6L480.1 104.7L481.8 105.7ZM422.1 180.8L422.1 178.8L420.3 177.8L418.5 178.8L418.5 180.8L420.3 181.9ZM425.6 180.8L425.6 178.8L423.8 177.8L422.1 178.8L422.1 180.8L423.8 181.9ZM429.1 180.8L429.1 178.8L427.3 177.8L425.6 178.8L425.6 180.8L427.3 181.9ZM429.1 156.5L429.1 154.4L427.3 153.4L425.6 154.4L425.6 156.5L427.3 157.5ZM432.6 180.8L432.6 178.8L430.9 177.8L429.1 178.8L429.1 180.8L430.9 181.9ZM436.1 144.3L436.1 142.3L434.4 141.2L432.6 142.3L432.6 144.3L434.4 145.3ZM443.2 174.8L443.2 172.7L441.4 171.7L439.6 172.7L439.6 174.8L441.4 175.8ZM446.7 168.7L446.7 166.6L444.9 165.6L443.2 166.6L443.2 168.7L444.9 169.7ZM453.7 162.6L453.7 160.5L452.0 159.5L450.2 160.5L450.2 162.6L452.0 163.6ZM453.7 126.0L453.7 124.0L452.0 123.0L450.2 124.0L450.2 126.0L452.0 127.0ZM460.7 119.9L460.7 117.9L459.0 116.9L457.2 117.9L457.2 119.9L459.0 120.9ZM464.3 150.4L464.3 148.3L462.5 147.3L460.7 148.3L460.7 150.4L462.5 151.4ZM471.3 138.2L471.3 136.2L469.5 135.1L467.8 136.2L467.8 138.2L469.5 139.2ZM474.8 132.1L474.8 130.1L473.0 129.1L471.3 130.1L471.3 132.1L473.0 133.1ZM481.8 107.7L481.8 105.7L480.1 104.7L478.3 105.7L478.3 107.7L480.1 108.7ZM488.9 101.6L488.9 99.6L487.1 98.6L485.4 99.6L485.4 101.6L487.1 102.6Z"/>
<path fill="#8dc1dd" stroke="#8dc1dd" stroke-width="0.25" d="M420.3 177.8L420.3 175.8L418.5 174.8L416.8 175.8L416.8 177.8L418.5 178.8ZM427.3 177.8L427.3 175.8L425.6 174.8L423.8 175.8L423.8 177.8L425.6 178.8ZM430.9 153.4L430.9 151.4L429.1 150.4L427.3 151.4L427.3 153.4L429.1 154.4ZM444.9 171.7L444.9 169.7L443.2 168.7L441.4 169.7L441.4 171.7L443.2 172.7ZM448.4 165.6L448.4 163.6L446.7 162.6L444.9 163.6L444.9 165.6L446.7 166.6ZM469.5 141.2L469.5 139.2L467.8 138.2L466.0 139.2L466.0 141.2L467.8 142.3ZM469.5 116.9L469.5 114.8L467.8 113.8L466.0 114.8L466.0 116.9L467.8 117.9ZM473.0 135.1L473.0 133.1L471.3 132.1L469.5 133.1L469.5 135.1L471.3 136.2ZM476.6 110.8L476.6 108.7L474.8 107.7L473.0 108.7L473.0 110.8L474.8 111.8ZM487.1 110.8L487.1 108.7L485.4 107.7L483.6 108.7L483.6 110.8L485.4 111.8ZM487.1 104.7L487.1 102.6L485.4 101.6L483.6 102.6L483.6 104.7L485.4 105.7ZM490.6 104.7L490.6 102.6L488.9 101.6L487.1 102.6L487.1 104.7L488.9 105.7ZM418.5 180.8L418.5 178.8L416.8 177.8L415.0 178.8L415.0 180.8L416.8 181.9ZM425.6 162.6L425.6 160.5L423.8 159.5L422.1 160.5L422.1 162.6L423.8 163.6ZM432.6 150.4L432.6 148.3L430.9 147.3L429.1 148.3L429.1 150.4L430.9 151.4ZM443.2 138.2L443.2 136.2L441.4 135.1L439.6 136.2L439.6 138.2L441.4 139.2ZM450.2 126.0L450.2 124.0L448.4 123.0L446.7 124.0L446.7 126.0L448.4 127.0ZM457.2 156.5L457.2 154.4L455.5 153.4L453.7 154.4L453.7 156.5L455.5 157.5ZM471.3 113.8L471.3 111.8L469.5 110.8L467.8 111.8L467.8 113.8L469.5 114.8ZM478.3 107.7L478.3 105.7L476.6 104.7L474.8 105.7L474.8 107.7L476.6 108.7ZM485.4 107.7L485.4 105.7L483.6 104.7L481.8 105.7L481.8 107.7L483.6 108.7ZM488.9 107.7L488.9 105.7L487.1 104.7L485.4 105.7L485.4 107.7L487.1 108.7Z"/>
<path fill="#7cb7da" stroke="#7cb7da" stroke-width="0.25" d="M423.8 177.8L423.8 175.8L422.1 174.8L420.3 175.8L420.3 177.8L422.1 178.8ZM430.9 177.8L430.9 175.8L429.1 174.8L427.3 175.8L427.3 177.8L429.1 178.8ZM434.4 177.8L434.4 175.8L432.6 174.8L430.9 175.8L430.9 177.8L432.6 178.8ZM434.4 147.3L434.4 145.3L432.6 144.3L430.9 145.3L430.9 147.3L432.6 148.3ZM441.4 171.7L441.4 169.7L439.6 168.7L437.9 169.7L437.9 171.7L439.6 172.7ZM448.4 135.1L448.4 133.1L446.7 132.1L444.9 133.1L444.9 135.1L446.7 136.2ZM452.0 129.1L452.0 127.0L450.2 126.0L448.4 127.0L448.4 129.1L450.2 130.1ZM455.5 159.5L455.5 157.5L453.7 156.5L452.0 157.5L452.0 159.5L453.7 160.5ZM459.0 153.4L459.0 151.4L457.2 150.4L455.5 151.4L455.5 153.4L457.2 154.4ZM480.1 110.8L480.1 108.7L478.3 107.7L476.6 108.7L476.6 110.8L478.3 111.8ZM422.1 174.8L422.1 172.7L420.3 171.7L418.5 172.7L418.5 174.8L420.3 175.8ZM439.6 174.8L439.6 172.7L437.9 171.7L436.1 172.7L436.1 174.8L437.9 175.8ZM450.2 132.1L450.2 130.1L448.4 129.1L446.7 130.1L446.7 132.1L448.4 133.1ZM460.7 150.4L460.7 148.3L459.0 147.3L457.2 148.3L457.2 150.4L459.0 151.4ZM464.3 119.9L464.3 117.9L462.5 116.9L460.7 117.9L460.7 119.9L462.5 120.9ZM474.8 113.8L474.8 111.8L473.0 110.8L471.3 111.8L471.3 113.8L473.0 114.8Z"/>
<path fill="#6aaed6" stroke="#6aaed6" stroke-width="0.25" d="M423.8 171.7L423.8 169.7L422.1 168.7L420.3 169.7L420.3 171.7L422.1 172.7ZM441.4 141.2L441.4 139.2L439.6 138.2L437.9 139.2L437.9 141.2L439.6 142.3ZM462.5 147.3L462.5 145.3L460.7 144.3L459.0 145.3L459.0 147.3L460.7 148.3ZM462.5 123.0L462.5 120.9L460.7 119.9L459.0 120.9L459.0 123.0L460.7 124.0ZM466.0 141.2L466.0 139.2L464.3 138.2L462.5 139.2L462.5 141.2L464.3 142.3ZM473.0 116.9L473.0 114.8L471.3 113.8L469.5 114.8L469.5 116.9L471.3 117.9ZM480.1 123.0L480.1 120.9L478.3 119.9L476.6 120.9L476.6 123.0L478.3 124.0ZM483.6 116.9L483.6 114.8L481.8 113.8L480.1 114.8L480.1 116.9L481.8 117.9ZM450.2 162.6L450.2 160.5L448.4 159.5L446.7 160.5L446.7 162.6L448.4 163.6ZM453.7 156.5L453.7 154.4L452.0 153.4L450.2 154.4L450.2 156.5L452.0 157.5ZM457.2 126.0L457.2 124.0L455.5 123.0L453.7 124.0L453.7 126.0L455.5 127.0ZM464.3 144.3L464.3 142.3L462.5 141.2L460.7 142.3L460.7 144.3L462.5 145.3ZM467.8 119.9L467.8 117.9L466.0 116.9L464.3 117.9L464.3 119.9L466.0 120.9ZM478.3 126.0L478.3 124.0L476.6 123.0L474.8 124.0L474.8 126.0L476.6 127.0ZM481.8 119.9L481.8 117.9L480.1 116.9L478.3 117.9L478.3 119.9L480.1 120.9ZM485.4 113.8L485.4 111.8L483.6 110.8L481.8 111.8L481.8 113.8L483.6 114.8Z"/>
<path fill="#5da5d1" stroke="#5da5d1" stroke-width="0.25" d="M427.3 165.6L427.3 163.6L425.6 162.6L423.8 163.6L423.8 165.6L425.6 166.6ZM437.9 147.3L437.9 145.3L436.1 144.3L434.4 145.3L434.4 147.3L436.1 148.3ZM452.0 159.5L452.0 157.5L450.2 156.5L448.4 157.5L448.4 159.5L450.2 160.5ZM455.5 129.1L455.5 127.0L453.7 126.0L452.0 127.0L452.0 129.1L453.7 130.1ZM469.5 135.1L469.5 133.1L467.8 132.1L466.0 133.1L466.0 135.1L467.8 136.2ZM483.6 110.8L483.6 108.7L481.8 107.7L480.1 108.7L480.1 110.8L481.8 111.8ZM429.1 174.8L429.1 172.7L427.3 171.7L425.6 172.7L425.6 174.8L427.3 175.8ZM432.6 174.8L432.6 172.7L430.9 171.7L429.1 172.7L429.1 174.8L430.9 175.8ZM436.1 174.8L436.1 172.7L434.4 171.7L432.6 172.7L432.6 174.8L434.4 175.8ZM436.1 150.4L436.1 148.3L434.4 147.3L432.6 148.3L432.6 150.4L434.4 151.4ZM439.6 144.3L439.6 142.3L437.9 141.2L436.1 142.3L436.1 144.3L437.9 145.3ZM443.2 168.7L443.2 166.6L441.4 165.6L439.6 166.6L439.6 168.7L441.4 169.7ZM460.7 126.0L460.7 124.0L459.0 123.0L457.2 124.0L457.2 126.0L459.0 127.0ZM467.8 138.2L467.8 136.2L466.0 135.1L464.3 136.2L464.3 138.2L466.0 139.2ZM478.3 113.8L478.3 111.8L476.6 110.8L474.8 111.8L474.8 113.8L476.6 114.8Z"/>
<path fill="#4f9bcb" stroke="#4f9bcb" stroke-width="0.25" d="M430.9 159.5L430.9 157.5L429.1 156.5L427.3 157.5L427.3 159.5L429.1 160.5ZM434.4 171.7L434.4 169.7L432.6 168.7L430.9 169.7L430.9 171.7L432.6 172.7ZM434.4 153.4L434.4 151.4L432.6 150.4L430.9 151.4L430.9 153.4L432.6 154.4ZM437.9 171.7L437.9 169.7L436.1 168.7L434.4 169.7L434.4 171.7L436.1 172.7ZM444.9 165.6L444.9 163.6L443.2 162.6L441.4 163.6L441.4 165.6L443.2 166.6ZM455.5 153.4L455.5 151.4L453.7 150.4L452.0 151.4L452.0 153.4L453.7 154.4ZM466.0 123.0L466.0 120.9L464.3 119.9L462.5 120.9L462.5 123.0L464.3 124.0ZM473.0 129.1L473.0 127.0L471.3 126.0L469.5 127.0L469.5 129.1L471.3 130.1ZM425.6 174.8L425.6 172.7L423.8 171.7L422.1 172.7L422.1 174.8L423.8 175.8ZM425.6 168.7L425.6 166.6L423.8 165.6L422.1 166.6L422.1 168.7L423.8 169.7ZM429.1 162.6L429.1 160.5L427.3 159.5L425.6 160.5L425.6 162.6L427.3 163.6ZM432.6 156.5L432.6 154.4L430.9 153.4L429.1 154.4L429.1 156.5L430.9 157.5ZM446.7 162.6L446.7 160.5L444.9 159.5L443.2 160.5L443.2 162.6L444.9 163.6ZM446.7 138.2L446.7 136.2L444.9 135.1L443.2 136.2L443.2 138.2L444.9 139.2ZM471.3 132.1L471.3 130.1L469.5 129.1L467.8 130.1L467.8 132.1L469.5 133.1ZM471.3 119.9L471.3 117.9L469.5 116.9L467.8 117.9L467.8 119.9L469.5 120.9Z"/>
<path fill="#4191c6" stroke="#4191c6" stroke-width="0.25" d="M427.3 171.7L427.3 169.7L425.6 168.7L423.8 169.7L423.8 171.7L425.6 172.7ZM430.9 171.7L430.9 169.7L429.1 168.7L427.3 169.7L427.3 171.7L429.1 172.7ZM444.9 141.2L444.9 139.2L443.2 138.2L441.4 139.2L441.4 141.2L443.2 142.3ZM448.4 159.5L448.4 157.5L446.7 156.5L444.9 157.5L444.9 159.5L446.7 160.5ZM452.0 135.1L452.0 133.1L450.2 132.1L448.4 133.1L448.4 135.1L450.2 136.2ZM459.0 147.3L459.0 145.3L457.2 144.3L455.5 145.3L455.5 147.3L457.2 148.3ZM459.0 129.1L459.0 127.0L457.2 126.0L455.5 127.0L455.5 129.1L457.2 130.1ZM462.5 141.2L462.5 139.2L460.7 138.2L459.0 139.2L459.0 141.2L460.7 142.3ZM476.6 123.0L476.6 120.9L474.8 119.9L473.0 120.9L473.0 123.0L474.8 124.0ZM476.6 116.9L476.6 114.8L474.8 113.8L473.0 114.8L473.0 116.9L474.8 117.9ZM436.1 168.7L436.1 166.6L434.4 165.6L432.6 166.6L432.6 168.7L434.4 169.7ZM439.6 168.7L439.6 166.6L437.9 165.6L436.1 166.6L436.1 168.7L437.9 169.7ZM453.7 132.1L453.7 130.1L452.0 129.1L450.2 130.1L450.2 132.1L452.0 133.1ZM457.2 150.4L457.2 148.3L455.5 147.3L453.7 148.3L453.7 150.4L455.5 151.4ZM460.7 144.3L460.7 142.3L459.0 141.2L457.2 142.3L457.2 144.3L459.0 145.3ZM464.3 126.0L464.3 124.0L462.5 123.0L460.7 124.0L460.7 126.0L462.5 127.0ZM481.8 113.8L481.8 111.8L480.1 110.8L478.3 111.8L478.3 113.8L480.1 114.8Z"/>
<path fill="#3787c0" stroke="#3787c0" stroke-width="0.25" d="M441.4 165.6L441.4 163.6L439.6 162.6L437.9 163.6L437.9 165.6L439.6 166.6ZM441.4 147.3L441.4 145.3L439.6 144.3L437.9 145.3L437.9 147.3L439.6 148.3ZM462.5 129.1L462.5 127.0L460.7 126.0L459.0 127.0L459.0 129.1L460.7 130.1ZM466.0 135.1L466.0 133.1L464.3 132.1L462.5 133.1L462.5 135.1L464.3 136.2ZM469.5 123.0L469.5 120.9L467.8 119.9L466.0 120.9L466.0 123.0L467.8 124.0ZM480.1 116.9L480.1 114.8L478.3 113.8L476.6 114.8L476.6 116.9L478.3 117.9ZM443.2 144.3L443.2 142.3L441.4 141.2L439.6 142.3L439.6 144.3L441.4 145.3ZM450.2 156.5L450.2 154.4L448.4 153.4L446.7 154.4L446.7 156.5L448.4 157.5ZM450.2 138.2L450.2 136.2L448.4 135.1L446.7 136.2L446.7 138.2L448.4 139.2ZM457.2 132.1L457.2 130.1L455.5 129.1L453.7 130.1L453.7 132.1L455.5 133.1ZM464.3 138.2L464.3 136.2L462.5 135.1L460.7 136.2L460.7 138.2L462.5 139.2ZM474.8 126.0L474.8 124.0L473.0 123.0L471.3 124.0L471.3 126.0L473.0 127.0ZM474.8 119.9L474.8 117.9L473.0 116.9L471.3 117.9L471.3 119.9L473.0 120.9ZM478.3 119.9L478.3 117.9L476.6 116.9L474.8 117.9L474.8 119.9L476.6 120.9Z"/>
<path fill="#2c7cba" stroke="#2c7cba" stroke-width="0.25" d="M437.9 165.6L437.9 163.6L436.1 162.6L434.4 163.6L434.4 165.6L436.1 166.6ZM437.9 153.4L437.9 151.4L436.1 150.4L434.4 151.4L434.4 153.4L436.1 154.4ZM448.4 141.2L448.4 139.2L446.7 138.2L444.9 139.2L444.9 141.2L446.7 142.3ZM452.0 153.4L452.0 151.4L450.2 150.4L448.4 151.4L448.4 153.4L450.2 154.4ZM455.5 147.3L455.5 145.3L453.7 144.3L452.0 145.3L452.0 147.3L453.7 148.3ZM455.5 135.1L455.5 133.1L453.7 132.1L452.0 133.1L452.0 135.1L453.7 136.2ZM429.1 168.7L429.1 166.6L427.3 165.6L425.6 166.6L425.6 168.7L427.3 169.7ZM432.6 168.7L432.6 166.6L430.9 165.6L429.1 166.6L429.1 168.7L430.9 169.7ZM439.6 150.4L439.6 148.3L437.9 147.3L436.1 148.3L436.1 150.4L437.9 151.4ZM443.2 162.6L443.2 160.5L441.4 159.5L439.6 160.5L439.6 162.6L441.4 163.6ZM453.7 150.4L453.7 148.3L452.0 147.3L450.2 148.3L450.2 150.4L452.0 151.4ZM467.8 132.1L467.8 130.1L466.0 129.1L464.3 130.1L464.3 132.1L466.0 133.1ZM467.8 126.0L467.8 124.0L466.0 123.0L464.3 124.0L464.3 126.0L466.0 127.0Z"/>
<path fill="#2070b4" stroke="#2070b4" stroke-width="0.25" d="M430.9 165.6L430.9 163.6L429.1 162.6L427.3 163.6L427.3 165.6L429.1 166.6ZM444.9 159.5L444.9 157.5L443.2 156.5L441.4 157.5L441.4 159.5L443.2 160.5ZM466.0 129.1L466.0 127.0L464.3 126.0L462.5 127.0L462.5 129.1L464.3 130.1ZM469.5 129.1L469.5 127.0L467.8 126.0L466.0 127.0L466.0 129.1L467.8 130.1ZM473.0 123.0L473.0 120.9L471.3 119.9L469.5 120.9L469.5 123.0L471.3 124.0ZM436.1 156.5L436.1 154.4L434.4 153.4L432.6 154.4L432.6 156.5L434.4 157.5ZM439.6 162.6L439.6 160.5L437.9 159.5L436.1 160.5L436.1 162.6L437.9 163.6ZM446.7 144.3L446.7 142.3L444.9 141.2L443.2 142.3L443.2 144.3L444.9 145.3ZM457.2 144.3L457.2 142.3L455.5 141.2L453.7 142.3L453.7 144.3L455.5 145.3Z"/>
<path fill="#1966ad" stroke="#1966ad" stroke-width="0.25" d="M434.4 165.6L434.4 163.6L432.6 162.6L430.9 163.6L430.9 165.6L432.6 166.6ZM444.9 147.3L444.9 145.3L443.2 144.3L441.4 145.3L441.4 147.3L443.2 148.3ZM448.4 153.4L448.4 151.4L446.7 150.4L444.9 151.4L444.9 153.4L446.7 154.4ZM432.6 162.6L432.6 160.5L430.9 159.5L429.1 160.5L429.1 162.6L430.9 163.6ZM446.7 156.5L446.7 154.4L444.9 153.4L443.2 154.4L443.2 156.5L444.9 157.5ZM453.7 138.2L453.7 136.2L452.0 135.1L450.2 136.2L450.2 138.2L452.0 139.2ZM460.7 132.1L460.7 130.1L459.0 129.1L457.2 130.1L457.2 132.1L459.0 133.1ZM471.3 126.0L471.3 124.0L469.5 123.0L467.8 124.0L467.8 126.0L469.5 127.0Z"/>
<path fill="#105ba4" stroke="#105ba4" stroke-width="0.25" d="M434.4 159.5L434.4 157.5L432.6 156.5L430.9 157.5L430.9 159.5L432.6 160.5ZM441.4 159.5L441.4 157.5L439.6 156.5L437.9 157.5L437.9 159.5L439.6 160.5ZM452.0 141.2L452.0 139.2L450.2 138.2L448.4 139.2L448.4 141.2L450.2 142.3ZM459.0 141.2L459.0 139.2L457.2 138.2L455.5 139.2L455.5 141.2L457.2 142.3ZM459.0 135.1L459.0 133.1L457.2 132.1L455.5 133.1L455.5 135.1L457.2 136.2ZM462.5 135.1L462.5 133.1L460.7 132.1L459.0 133.1L459.0 135.1L460.7 136.2ZM436.1 162.6L436.1 160.5L434.4 159.5L432.6 160.5L432.6 162.6L434.4 163.6ZM464.3 132.1L464.3 130.1L462.5 129.1L460.7 130.1L460.7 132.1L462.5 133.1Z"/>
<path fill="#08509b" stroke="#08509b" stroke-width="0.25" d="M437.9 159.5L437.9 157.5L436.1 156.5L434.4 157.5L434.4 159.5L436.1 160.5ZM441.4 153.4L441.4 151.4L439.6 150.4L437.9 151.4L437.9 153.4L439.6 154.4ZM439.6 156.5L439.6 154.4L437.9 153.4L436.1 154.4L436.1 156.5L437.9 157.5ZM443.2 156.5L443.2 154.4L441.4 153.4L439.6 154.4L439.6 156.5L441.4 157.5ZM443.2 150.4L443.2 148.3L441.4 147.3L439.6 148.3L439.6 150.4L441.4 151.4ZM450.2 150.4L450.2 148.3L448.4 147.3L446.7 148.3L446.7 150.4L448.4 151.4ZM457.2 138.2L457.2 136.2L455.5 135.1L453.7 136.2L453.7 138.2L455.5 139.2ZM460.7 138.2L460.7 136.2L459.0 135.1L457.2 136.2L457.2 138.2L459.0 139.2Z"/>
<path fill="#08468b" stroke="#08468b" stroke-width="0.25" d="M444.9 153.4L444.9 151.4L443.2 150.4L441.4 151.4L441.4 153.4L443.2 154.4ZM448.4 147.3L448.4 145.3L446.7 144.3L444.9 145.3L444.9 147.3L446.7 148.3ZM452.0 147.3L452.0 145.3L450.2 144.3L448.4 145.3L448.4 147.3L450.2 148.3ZM455.5 141.2L455.5 139.2L453.7 138.2L452.0 139.2L452.0 141.2L453.7 142.3ZM446.7 150.4L446.7 148.3L444.9 147.3L443.2 148.3L443.2 150.4L444.9 151.4ZM450.2 144.3L450.2 142.3L448.4 141.2L446.7 142.3L446.7 144.3L448.4 145.3ZM453.7 144.3L453.7 142.3L452.0 141.2L450.2 142.3L450.2 144.3L452.0 145.3Z"/>
</g>
<line x1="386.9" y1="207.25" x2="527.55" y2="67.1" stroke="#cd0a18" stroke-width="1.9" stroke-dasharray="6.6 2.86" clip-path="url(#cp2)"/>
<rect x="386.9" y="67.1" width="140.65" height="140.15" fill="none" stroke="#000" stroke-width="1.6"/>
<line x1="386.90" y1="207.25" x2="386.90" y2="210.85" stroke="#000" stroke-width="1.3"/>
<line x1="383.30" y1="207.25" x2="386.9" y2="207.25" stroke="#000" stroke-width="1.3"/>
<text x="386.90" y="224.7" font-size="11.8" text-anchor="middle">−11</text>
<text x="378.60" y="211.25" font-size="11.8" text-anchor="end">−11</text>
<line x1="413.53" y1="207.25" x2="413.53" y2="210.85" stroke="#000" stroke-width="1.3"/>
<line x1="383.30" y1="180.72" x2="386.9" y2="180.72" stroke="#000" stroke-width="1.3"/>
<text x="413.53" y="224.7" font-size="11.8" text-anchor="middle">−7</text>
<text x="378.60" y="184.72" font-size="11.8" text-anchor="end">−7</text>
<line x1="440.15" y1="207.25" x2="440.15" y2="210.85" stroke="#000" stroke-width="1.3"/>
<line x1="383.30" y1="154.19" x2="386.9" y2="154.19" stroke="#000" stroke-width="1.3"/>
<text x="440.15" y="224.7" font-size="11.8" text-anchor="middle">−3</text>
<text x="378.60" y="158.19" font-size="11.8" text-anchor="end">−3</text>
<line x1="466.78" y1="207.25" x2="466.78" y2="210.85" stroke="#000" stroke-width="1.3"/>
<line x1="383.30" y1="127.66" x2="386.9" y2="127.66" stroke="#000" stroke-width="1.3"/>
<text x="466.78" y="224.7" font-size="11.8" text-anchor="middle">1</text>
<text x="378.60" y="131.66" font-size="11.8" text-anchor="end">1</text>
<line x1="493.40" y1="207.25" x2="493.40" y2="210.85" stroke="#000" stroke-width="1.3"/>
<line x1="383.30" y1="101.13" x2="386.9" y2="101.13" stroke="#000" stroke-width="1.3"/>
<text x="493.40" y="224.7" font-size="11.8" text-anchor="middle">5</text>
<text x="378.60" y="105.13" font-size="11.8" text-anchor="end">5</text>
<line x1="520.03" y1="207.25" x2="520.03" y2="210.85" stroke="#000" stroke-width="1.3"/>
<line x1="383.30" y1="74.60" x2="386.9" y2="74.60" stroke="#000" stroke-width="1.3"/>
<text x="520.03" y="224.7" font-size="11.8" text-anchor="middle">9</text>
<text x="378.60" y="78.60" font-size="11.8" text-anchor="end">9</text>
<text x="389.30" y="75.30" font-size="6.85">MAE = 0.630 eV</text>
<text x="389.30" y="82.50" font-size="6.85">RMSE = 0.985 eV</text>
<text x="389.30" y="89.70" font-size="6.85">MDAE = 0.391 eV</text>
<text x="389.30" y="96.90" font-size="6.85">MARPD = 46.0%</text>
<text x="389.30" y="104.10" font-size="6.85">R2 = 0.812</text>
<text x="389.30" y="111.30" font-size="6.85">R = 0.902</text>
<text x="496.1" y="187.4" font-size="13" text-anchor="middle">Evidential</text>
<text x="496.1" y="202.2" font-size="13" text-anchor="middle">Regression</text>
<text x="385.30" y="61.9" font-size="13.3">(c)</text>
<text x="284.2" y="238.9" font-size="11.85" text-anchor="middle">Predicted Adsorption Energy (eV)</text>
<text transform="translate(9.3 137.2) rotate(-90)" font-size="11.85" text-anchor="middle">Adsorption Energy (eV)</text>
<defs><linearGradient id="cb" x1="0" y1="1" x2="0" y2="0">
<stop offset="0.00" stop-color="#f7fbff"/>
<stop offset="0.05" stop-color="#eef5fc"/>
<stop offset="0.10" stop-color="#e3eef9"/>
<stop offset="0.15" stop-color="#d9e8f5"/>
<stop offset="0.20" stop-color="#d0e1f2"/>
<stop offset="0.25" stop-color="#c6dbef"/>
<stop offset="0.30" stop-color="#b7d4ea"/>
<stop offset="0.35" stop-color="#a6cee4"/>
<stop offset="0.40" stop-color="#94c4df"/>
<stop offset="0.45" stop-color="#7fb9da"/>
<stop offset="0.50" stop-color="#6aaed6"/>
<stop offset="0.55" stop-color="#5ba3d0"/>
<stop offset="0.60" stop-color="#4a98c9"/>
<stop offset="0.65" stop-color="#3b8bc2"/>
<stop offset="0.70" stop-color="#2e7ebc"/>
<stop offset="0.75" stop-color="#2070b4"/>
<stop offset="0.80" stop-color="#1764ab"/>
<stop offset="0.85" stop-color="#0d57a1"/>
<stop offset="0.90" stop-color="#084a91"/>
<stop offset="0.95" stop-color="#083c7d"/>
<stop offset="1.00" stop-color="#08306b"/>
</linearGradient></defs>
<rect x="531.6" y="74.6" width="7.8" height="132.9" fill="url(#cb)" stroke="#000" stroke-width="1.6"/>
<text x="544.9" y="212.5" font-size="11.8">10<tspan dy="-7.3" dx="0" font-size="8.3">0</tspan></text>
<text x="544.9" y="167.9" font-size="11.8">10<tspan dy="-7.3" dx="0" font-size="8.3">1</tspan></text>
<text x="544.9" y="123.2" font-size="11.8">10<tspan dy="-7.3" dx="0" font-size="8.3">2</tspan></text>
<text transform="translate(572.0 142.3) rotate(-90)" font-size="11.6" text-anchor="middle">log10(Samples)</text>
</svg>
</body></html>
